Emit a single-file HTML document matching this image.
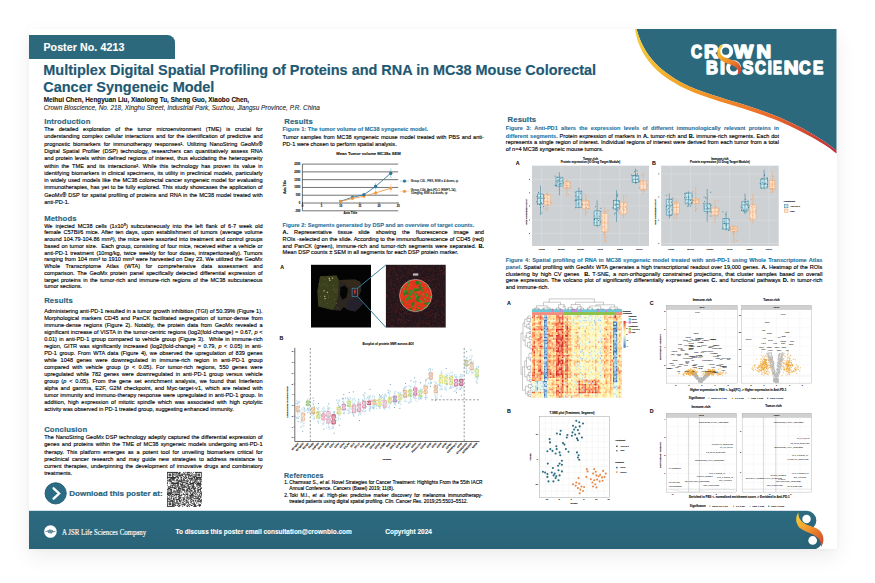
<!DOCTYPE html>
<html><head><meta charset="utf-8"><title>Poster 4213</title>
<style>
*{margin:0;padding:0;box-sizing:border-box}
html,body{width:875px;height:583px;background:#fff;overflow:hidden}
body{position:relative;font-family:"Liberation Sans",sans-serif;color:#111}
.abs{position:absolute}
.poster{position:absolute;left:29px;top:29px;width:808px;height:520px;background:#fff;box-shadow:0 8px 20px rgba(0,0,0,.07),0 1px 4px rgba(0,0,0,.035)}
.tab{position:absolute;left:29px;top:35px;width:146px;height:24px;background:#2d697c;border-top-right-radius:7.5px;color:#fff;font-weight:bold;font-size:10.6px;line-height:24px;padding-left:14.4px;letter-spacing:.1px}
.title{position:absolute;left:43.3px;top:62px;color:#1e5973;font-weight:bold;font-size:14.46px;line-height:17.3px;white-space:nowrap}
.auth{position:absolute;left:43.7px;top:95.5px;font-weight:bold;font-size:6.4px;line-height:8px;white-space:nowrap;color:#111}
.affil{position:absolute;left:43.7px;top:103.5px;font-style:italic;font-size:6.43px;line-height:8px;white-space:nowrap;color:#222}
.h{position:absolute;color:#2a6582;font-weight:bold;font-size:7.7px;line-height:10px;white-space:nowrap;letter-spacing:.12px}
.ln{position:absolute;white-space:nowrap;color:#000;-webkit-text-stroke:.13px #000}
.ln .cb{-webkit-text-stroke:.1px #25729f}
.j{text-align:justify;text-align-last:justify;white-space:normal}
.cb{color:#25729f;font-weight:bold}
b{font-weight:bold}
sup{font-size:58%;vertical-align:baseline;position:relative;top:-0.45em;line-height:0}
.footer{position:absolute;left:29px;top:510.5px;width:793px;height:38.5px;background:linear-gradient(#2d6b81,#296378);border-radius:0 19px 19px 0}
.ft{position:absolute;color:#fff;font-weight:bold;font-size:6.44px;line-height:9px;white-space:nowrap}
.jsr{position:absolute;left:61.6px;top:527.8px;color:#fff;-webkit-text-stroke:.15px #fff;font-family:"Liberation Serif",serif;font-size:7.7px;line-height:10px;white-space:nowrap;transform:scaleX(.888);transform-origin:0 0}
.dl{position:absolute;left:69.3px;top:488px;color:#28627c;font-weight:bold;font-size:8.0px;line-height:11px;white-space:nowrap}
.h{-webkit-text-stroke-width:.16px}.dl{-webkit-text-stroke-width:.2px}.title{-webkit-text-stroke-width:.18px}.auth{-webkit-text-stroke-width:.12px}.affil{-webkit-text-stroke-width:.08px}.tab{-webkit-text-stroke-width:.12px}.ft{-webkit-text-stroke-width:.1px}
svg{position:absolute;overflow:visible}
svg text{font-family:"Liberation Sans",sans-serif}
svg.fg text{stroke:#1a1a1a;stroke-width:.11px}
svg.fg text.nl{stroke-width:.03px}
</style></head>
<body>
<div class="poster"></div>
<div class="tab">Poster No. 4213</div>
<div class="title">Multiplex Digital Spatial Profiling of Proteins and RNA in MC38 Mouse Colorectal<br>Cancer Syngeneic Model</div>
<div class="auth">Meihui Chen, Hengyuan Liu, Xiaolong Tu, Sheng Guo, Xiaobo Chen,</div>
<div class="affil">Crown Bioscience, No. 218, Xinghu Street, Industrial Park, Suzhou, Jiangsu Province, P.R. China</div>
<div class="h" style="left:44.20px;top:117px">Introduction</div>
<div class="ln j " style="left:44.20px;top:125px;width:218.40px;font-size:5.60px;line-height:8px">The detailed exploration of the tumor microenvironment (TME) is crucial for</div>
<div class="ln j " style="left:44.20px;top:132px;width:218.40px;font-size:5.60px;line-height:8px">understanding complex cellular interactions and for the identification of predictive and</div>
<div class="ln j " style="left:44.20px;top:140px;width:218.40px;font-size:5.60px;line-height:8px">prognostic biomarkers for immunotherapy responses¹. Utilizing NanoString GeoMx®</div>
<div class="ln j " style="left:44.20px;top:147px;width:218.40px;font-size:5.60px;line-height:8px">Digital Spatial Profiler (DSP) technology, researchers can quantitatively assess RNA</div>
<div class="ln j " style="left:44.20px;top:154px;width:218.40px;font-size:5.60px;line-height:8px">and protein levels within defined regions of interest, thus elucidating the heterogeneity</div>
<div class="ln j " style="left:44.20px;top:162px;width:218.40px;font-size:5.60px;line-height:8px">within the TME and its interactions². While this technology has proven its value in</div>
<div class="ln j " style="left:44.20px;top:169px;width:218.40px;font-size:5.60px;line-height:8px">identifying biomarkers in clinical specimens, its utility in preclinical models, particularly</div>
<div class="ln j " style="left:44.20px;top:176px;width:218.40px;font-size:5.60px;line-height:8px">in widely used models like the MC38 colorectal cancer syngeneic model for evaluating</div>
<div class="ln j " style="left:44.20px;top:183px;width:218.40px;font-size:5.60px;line-height:8px">immunotherapies, has yet to be fully explored. This study showcases the application of</div>
<div class="ln j " style="left:44.20px;top:191px;width:218.40px;font-size:5.60px;line-height:8px">GeoMx® DSP for spatial profiling of proteins and RNA in the MC38 model treated with</div>
<div class="ln " style="left:44.20px;top:198px;width:218.40px;font-size:5.60px;line-height:8px">anti-PD-1.</div>
<div class="h" style="left:44.20px;top:214px">Methods</div>
<div class="ln j " style="left:44.20px;top:222px;width:218.40px;font-size:5.60px;line-height:8px">We injected MC38 cells (1x10⁵) subcutaneously into the left flank of 6-7 week old</div>
<div class="ln j " style="left:44.20px;top:228px;width:218.40px;font-size:5.60px;line-height:8px">female C57Bl/6 mice. After ten days, upon establishment of tumors (average volume</div>
<div class="ln j " style="left:44.20px;top:235px;width:218.40px;font-size:5.60px;line-height:8px">around 104.79-104.86 mm³), the mice were assorted into treatment and control groups</div>
<div class="ln j " style="left:44.20px;top:242px;width:218.40px;font-size:5.60px;line-height:8px">based on tumor size.&nbsp; Each group, consisting of four mice, received either a vehicle or</div>
<div class="ln j " style="left:44.20px;top:249px;width:218.40px;font-size:5.60px;line-height:8px">anti-PD-1 treatment (10mg/kg, twice weekly for four doses, intraperitoneally). Tumors</div>
<div class="ln j " style="left:44.20px;top:255px;width:218.40px;font-size:5.60px;line-height:8px">ranging from 104 mm³ to 1910 mm³ were harvested on Day 23. We utilized the GeoMx</div>
<div class="ln j " style="left:44.20px;top:262px;width:218.40px;font-size:5.60px;line-height:8px">Whole Transcriptome Atlas (WTA) for comprehensive data assessment and</div>
<div class="ln j " style="left:44.20px;top:269px;width:218.40px;font-size:5.60px;line-height:8px">comparison. The GeoMx protein panel specifically detected differential expression of</div>
<div class="ln j " style="left:44.20px;top:276px;width:218.40px;font-size:5.60px;line-height:8px">target proteins in the tumor-rich and immune-rich regions of the MC38 subcutaneous</div>
<div class="ln " style="left:44.20px;top:282px;width:218.40px;font-size:5.60px;line-height:8px">tumor sections.</div>
<div class="h" style="left:44.20px;top:296px">Results</div>
<div class="ln j " style="left:44.20px;top:307px;width:218.40px;font-size:5.60px;line-height:8px">Administering anti-PD-1 resulted in a tumor growth inhibition (TGI) of 50.39% (Figure 1).</div>
<div class="ln j " style="left:44.20px;top:314px;width:218.40px;font-size:5.60px;line-height:8px">Morphological markers CD45 and PanCK facilitated segregation of tumor-dense from</div>
<div class="ln j " style="left:44.20px;top:321px;width:218.40px;font-size:5.60px;line-height:8px">immune-dense regions (Figure 2). Notably, the protein data from GeoMx revealed a</div>
<div class="ln j " style="left:44.20px;top:328px;width:218.40px;font-size:5.60px;line-height:8px">significant increase of VISTA in the tumor-centric regions (log2(fold-change) = 0.67, <i>p</i> &lt;</div>
<div class="ln j " style="left:44.20px;top:335px;width:218.40px;font-size:5.60px;line-height:8px">0.01) in anti-PD-1 group compared to vehicle group (Figure 3).&nbsp; While in immune-rich</div>
<div class="ln j " style="left:44.20px;top:342px;width:218.40px;font-size:5.60px;line-height:8px">region, GITR was significantly increased (log2(fold-change) = 0.79, <i>p</i> &lt; 0.05) in anti-</div>
<div class="ln j " style="left:44.20px;top:349px;width:218.40px;font-size:5.60px;line-height:8px">PD-1 group. From WTA data (Figure 4), we observed the upregulation of 839 genes</div>
<div class="ln j " style="left:44.20px;top:356px;width:218.40px;font-size:5.60px;line-height:8px">while 1048 genes were downregulated in immune-rich region in anti-PD-1 group</div>
<div class="ln j " style="left:44.20px;top:363px;width:218.40px;font-size:5.60px;line-height:8px">compared with vehicle group (<i>p</i> &lt; 0.05). For tumor-rich regions, 550 genes were</div>
<div class="ln j " style="left:44.20px;top:370px;width:218.40px;font-size:5.60px;line-height:8px">upregulated while 782 genes were downregulated in anti-PD-1 group versus vehicle</div>
<div class="ln j " style="left:44.20px;top:377px;width:218.40px;font-size:5.60px;line-height:8px">group (<i>p</i> &lt; 0.05). From the gene set enrichment analysis, we found that Interferon</div>
<div class="ln j " style="left:44.20px;top:384px;width:218.40px;font-size:5.60px;line-height:8px">alpha and gamma, E2F, G2M checkpoint, and Myc-target-v1, which are related with</div>
<div class="ln j " style="left:44.20px;top:391px;width:218.40px;font-size:5.60px;line-height:8px">tumor immunity and immuno-therapy response were upregulated in anti-PD-1 group. In</div>
<div class="ln j " style="left:44.20px;top:398px;width:218.40px;font-size:5.60px;line-height:8px">addition, high expression of mitotic spindle which was associated with high cytolytic</div>
<div class="ln " style="left:44.20px;top:405px;width:218.40px;font-size:5.60px;line-height:8px">activity was observed in PD-1 treated group, suggesting enhanced immunity.</div>
<div class="h" style="left:44.20px;top:425px">Conclusion</div>
<div class="ln j " style="left:44.20px;top:433px;width:218.40px;font-size:5.60px;line-height:8px">The NanoString GeoMx DSP technology adeptly captured the differential expression of</div>
<div class="ln j " style="left:44.20px;top:440px;width:218.40px;font-size:5.60px;line-height:8px">genes and proteins within the TME of MC38 syngeneic models undergoing anti-PD-1</div>
<div class="ln j " style="left:44.20px;top:448px;width:218.40px;font-size:5.60px;line-height:8px">therapy. This platform emerges as a potent tool for unveiling biomarkers critical for</div>
<div class="ln j " style="left:44.20px;top:455px;width:218.40px;font-size:5.60px;line-height:8px">preclinical cancer research and may guide new strategies to address resistance to</div>
<div class="ln j " style="left:44.20px;top:462px;width:218.40px;font-size:5.60px;line-height:8px">current therapies, underpinning the development of innovative drugs and combinatory</div>
<div class="ln " style="left:44.20px;top:469px;width:218.40px;font-size:5.60px;line-height:8px">treatments.</div>
<svg style="left:43.8px;top:482px" width="23" height="23" viewBox="0 0 23 23"><circle cx="11.65" cy="11.35" r="10.6" fill="#2b6c84" stroke="#23596f" stroke-width=".9"/><path d="M9.6 6.3 L15.1 11.5 L9.6 16.7" fill="none" stroke="#fff" stroke-width="2.35" stroke-linecap="round" stroke-linejoin="miter"/></svg>
<div class="dl">Download this poster at:</div>
<svg style="left:166.5px;top:472.1px" width="34.8" height="34.8"><path d="M0 0.42h11.03M11.88 0.42h1.7M16.13 0.42h0.85M17.82 0.42h0.85M19.52 0.42h3.4M23.77 0.42h0.85M26.31 0.42h0.85M28.01 0.42h6.79M0 1.27h0.85M5.09 1.27h0.85M6.79 1.27h0.85M8.49 1.27h1.7M11.03 1.27h2.55M16.98 1.27h0.85M20.37 1.27h0.85M22.92 1.27h0.85M24.61 1.27h0.85M28.86 1.27h0.85M33.95 1.27h0.85M0 2.12h0.85M1.7 2.12h2.55M5.09 2.12h1.7M10.19 2.12h2.55M14.43 2.12h4.24M19.52 2.12h3.4M25.46 2.12h0.85M28.01 2.12h1.7M30.56 2.12h2.55M33.95 2.12h0.85M0 2.97h0.85M1.7 2.97h2.55M5.09 2.97h5.09M11.88 2.97h4.24M17.82 2.97h5.09M23.77 2.97h1.7M26.31 2.97h1.7M28.86 2.97h0.85M30.56 2.97h2.55M33.95 2.97h0.85M0 3.82h0.85M1.7 3.82h2.55M5.09 3.82h0.85M10.19 3.82h5.94M17.82 3.82h0.85M21.22 3.82h4.24M28.01 3.82h1.7M30.56 3.82h2.55M33.95 3.82h0.85M0 4.67h0.85M5.09 4.67h1.7M8.49 4.67h2.55M12.73 4.67h0.85M16.13 4.67h0.85M17.82 4.67h1.7M21.22 4.67h0.85M22.92 4.67h0.85M25.46 4.67h4.24M33.95 4.67h0.85M0 5.52h9.34M10.19 5.52h1.7M13.58 5.52h1.7M16.98 5.52h0.85M18.67 5.52h1.7M21.22 5.52h0.85M24.61 5.52h0.85M26.31 5.52h1.7M28.86 5.52h5.94M0 6.37h0.85M3.4 6.37h5.09M11.03 6.37h0.85M13.58 6.37h0.85M16.13 6.37h0.85M17.82 6.37h1.7M21.22 6.37h5.09M27.16 6.37h0.85M28.86 6.37h2.55M32.25 6.37h1.7M1.7 7.21h2.55M5.09 7.21h2.55M9.34 7.21h1.7M13.58 7.21h1.7M16.13 7.21h1.7M20.37 7.21h0.85M22.07 7.21h0.85M23.77 7.21h1.7M27.16 7.21h7.64M0 8.06h0.85M1.7 8.06h5.94M9.34 8.06h1.7M11.88 8.06h0.85M13.58 8.06h1.7M16.13 8.06h1.7M19.52 8.06h0.85M22.92 8.06h4.24M28.01 8.06h2.55M33.1 8.06h1.7M0 8.91h4.24M6.79 8.91h0.85M8.49 8.91h13.58M22.92 8.91h0.85M27.16 8.91h1.7M29.71 8.91h0.85M32.25 8.91h0.85M2.55 9.76h2.55M11.03 9.76h4.24M19.52 9.76h1.7M22.92 9.76h0.85M25.46 9.76h0.85M27.16 9.76h2.55M30.56 9.76h0.85M33.1 9.76h1.7M0 10.61h0.85M4.24 10.61h2.55M7.64 10.61h0.85M9.34 10.61h2.55M14.43 10.61h4.24M19.52 10.61h0.85M22.07 10.61h1.7M25.46 10.61h2.55M28.86 10.61h0.85M30.56 10.61h1.7M33.1 10.61h0.85M0 11.46h0.85M2.55 11.46h0.85M4.24 11.46h7.64M12.73 11.46h0.85M15.28 11.46h0.85M18.67 11.46h2.55M22.92 11.46h4.24M28.01 11.46h0.85M29.71 11.46h4.24M5.94 12.31h0.85M7.64 12.31h0.85M10.19 12.31h1.7M12.73 12.31h3.4M17.82 12.31h0.85M19.52 12.31h0.85M21.22 12.31h3.4M25.46 12.31h1.7M28.86 12.31h5.94M0 13.16h0.85M3.4 13.16h5.94M10.19 13.16h1.7M13.58 13.16h4.24M20.37 13.16h1.7M23.77 13.16h0.85M25.46 13.16h1.7M30.56 13.16h3.4M3.4 14h0.85M5.09 14h0.85M6.79 14h0.85M9.34 14h2.55M13.58 14h2.55M16.98 14h1.7M19.52 14h2.55M24.61 14h2.55M28.86 14h2.55M32.25 14h1.7M0.85 14.85h3.4M5.09 14.85h0.85M7.64 14.85h1.7M10.19 14.85h0.85M11.88 14.85h1.7M14.43 14.85h0.85M16.13 14.85h3.4M21.22 14.85h2.55M24.61 14.85h3.4M32.25 14.85h1.7M0.85 15.7h0.85M2.55 15.7h5.94M9.34 15.7h0.85M11.03 15.7h1.7M14.43 15.7h3.4M18.67 15.7h1.7M21.22 15.7h1.7M24.61 15.7h2.55M28.01 15.7h0.85M30.56 15.7h1.7M33.95 15.7h0.85M0.85 16.55h2.55M6.79 16.55h2.55M11.03 16.55h3.4M15.28 16.55h0.85M20.37 16.55h2.55M23.77 16.55h1.7M26.31 16.55h2.55M29.71 16.55h0.85M33.1 16.55h1.7M0 17.4h1.7M2.55 17.4h2.55M9.34 17.4h0.85M11.03 17.4h0.85M12.73 17.4h0.85M14.43 17.4h3.4M19.52 17.4h1.7M22.07 17.4h1.7M26.31 17.4h1.7M30.56 17.4h3.4M1.7 18.25h0.85M3.4 18.25h1.7M6.79 18.25h0.85M9.34 18.25h4.24M15.28 18.25h2.55M18.67 18.25h2.55M22.92 18.25h2.55M27.16 18.25h1.7M29.71 18.25h2.55M33.1 18.25h0.85M0 19.1h1.7M3.4 19.1h1.7M5.94 19.1h1.7M8.49 19.1h0.85M10.19 19.1h0.85M11.88 19.1h2.55M16.98 19.1h0.85M18.67 19.1h4.24M23.77 19.1h1.7M27.16 19.1h1.7M30.56 19.1h1.7M33.1 19.1h0.85M1.7 19.95h0.85M3.4 19.95h1.7M6.79 19.95h5.94M14.43 19.95h0.85M16.98 19.95h0.85M18.67 19.95h0.85M22.07 19.95h1.7M24.61 19.95h0.85M26.31 19.95h2.55M29.71 19.95h1.7M33.1 19.95h1.7M0 20.8h6.79M7.64 20.8h0.85M10.19 20.8h3.4M14.43 20.8h0.85M18.67 20.8h0.85M20.37 20.8h0.85M22.92 20.8h0.85M25.46 20.8h1.7M28.01 20.8h0.85M29.71 20.8h0.85M31.4 20.8h1.7M33.95 20.8h0.85M0 21.64h5.09M7.64 21.64h0.85M9.34 21.64h0.85M11.88 21.64h0.85M16.13 21.64h0.85M18.67 21.64h0.85M20.37 21.64h0.85M22.92 21.64h0.85M24.61 21.64h1.7M27.16 21.64h0.85M28.86 21.64h0.85M33.1 21.64h1.7M0 22.49h1.7M2.55 22.49h1.7M5.09 22.49h1.7M7.64 22.49h5.09M14.43 22.49h0.85M16.13 22.49h1.7M18.67 22.49h2.55M23.77 22.49h2.55M28.01 22.49h0.85M29.71 22.49h0.85M32.25 22.49h0.85M33.95 22.49h0.85M0.85 23.34h2.55M4.24 23.34h0.85M6.79 23.34h1.7M9.34 23.34h0.85M11.88 23.34h3.4M17.82 23.34h0.85M20.37 23.34h0.85M22.07 23.34h5.09M30.56 23.34h0.85M32.25 23.34h0.85M33.95 23.34h0.85M0 24.19h0.85M2.55 24.19h0.85M4.24 24.19h2.55M9.34 24.19h0.85M11.03 24.19h1.7M16.98 24.19h0.85M20.37 24.19h0.85M22.92 24.19h1.7M25.46 24.19h0.85M27.16 24.19h2.55M30.56 24.19h3.4M2.55 25.04h0.85M4.24 25.04h0.85M7.64 25.04h0.85M11.03 25.04h3.4M18.67 25.04h2.55M22.07 25.04h5.09M28.01 25.04h1.7M30.56 25.04h0.85M33.1 25.04h1.7M0 25.89h0.85M1.7 25.89h0.85M4.24 25.89h0.85M5.94 25.89h0.85M7.64 25.89h2.55M11.88 25.89h2.55M15.28 25.89h2.55M18.67 25.89h0.85M20.37 25.89h1.7M22.92 25.89h1.7M25.46 25.89h0.85M29.71 25.89h2.55M33.1 25.89h0.85M0 26.74h2.55M3.4 26.74h1.7M5.94 26.74h1.7M11.03 26.74h2.55M16.13 26.74h1.7M19.52 26.74h1.7M22.07 26.74h2.55M26.31 26.74h6.79M0 27.59h0.85M1.7 27.59h1.7M5.94 27.59h1.7M8.49 27.59h4.24M14.43 27.59h0.85M16.13 27.59h1.7M18.67 27.59h0.85M21.22 27.59h0.85M23.77 27.59h1.7M31.4 27.59h1.7M33.95 27.59h0.85M0 28.43h0.85M3.4 28.43h2.55M6.79 28.43h0.85M9.34 28.43h0.85M11.88 28.43h1.7M14.43 28.43h0.85M16.13 28.43h0.85M18.67 28.43h1.7M22.92 28.43h0.85M25.46 28.43h1.7M28.01 28.43h0.85M29.71 28.43h0.85M31.4 28.43h0.85M33.1 28.43h1.7M0 29.28h7.64M9.34 29.28h1.7M11.88 29.28h2.55M16.98 29.28h0.85M18.67 29.28h0.85M20.37 29.28h0.85M23.77 29.28h1.7M26.31 29.28h0.85M28.01 29.28h0.85M29.71 29.28h5.09M0 30.13h0.85M5.09 30.13h0.85M6.79 30.13h0.85M9.34 30.13h0.85M12.73 30.13h0.85M15.28 30.13h1.7M18.67 30.13h3.4M22.92 30.13h1.7M26.31 30.13h0.85M33.1 30.13h0.85M0 30.98h0.85M1.7 30.98h2.55M5.09 30.98h6.79M13.58 30.98h0.85M15.28 30.98h0.85M18.67 30.98h1.7M21.22 30.98h0.85M23.77 30.98h0.85M27.16 30.98h0.85M28.86 30.98h1.7M31.4 30.98h0.85M33.95 30.98h0.85M0 31.83h0.85M1.7 31.83h2.55M5.09 31.83h1.7M8.49 31.83h0.85M10.19 31.83h3.4M16.13 31.83h2.55M21.22 31.83h0.85M24.61 31.83h3.4M0 32.68h0.85M1.7 32.68h2.55M5.09 32.68h3.4M11.03 32.68h0.85M14.43 32.68h4.24M20.37 32.68h0.85M22.07 32.68h1.7M26.31 32.68h2.55M31.4 32.68h2.55M0 33.53h0.85M5.09 33.53h1.7M7.64 33.53h1.7M10.19 33.53h0.85M11.88 33.53h1.7M16.98 33.53h0.85M19.52 33.53h0.85M21.22 33.53h0.85M23.77 33.53h1.7M27.16 33.53h1.7M29.71 33.53h0.85M31.4 33.53h2.55M0 34.38h7.64M11.03 34.38h1.7M15.28 34.38h0.85M19.52 34.38h1.7M22.07 34.38h0.85M26.31 34.38h3.4M32.25 34.38h0.85" stroke="#111" stroke-width="0.87" fill="none"/></svg>
<div class="h" style="left:284.30px;top:117px">Results</div>
<div class="ln " style="left:282.60px;top:125px;width:201.40px;font-size:5.60px;line-height:8px"><span class="cb">Figure 1: The tumor volume of MC38 syngeneic model.</span></div>
<div class="ln j " style="left:282.60px;top:133px;width:201.40px;font-size:5.60px;line-height:8px">Tumor samples from MC38 syngeneic mouse model treated with PBS and anti-</div>
<div class="ln " style="left:282.60px;top:140px;width:201.40px;font-size:5.60px;line-height:8px">PD-1 were chosen to perform spatial analysis.</div>
<svg class="fg" style="left:0;top:0" width="875" height="583"><path d="M302.4 164.1H398.2M302.4 171.88H398.2M302.4 179.67H398.2M302.4 187.45H398.2M302.4 195.23H398.2M302.4 203.02H398.2M302.4 210.8H398.2M302.4 164.1V210.8" stroke="#1c1c1c" stroke-width=".62" fill="none"/><text x="300.2" y="165.05" font-size="2.7" text-anchor="end" font-weight="bold" fill="#111" stroke="#111" stroke-width=".12">2500</text><text x="300.2" y="172.83" font-size="2.7" text-anchor="end" font-weight="bold" fill="#111" stroke="#111" stroke-width=".12">2000</text><text x="300.2" y="180.62" font-size="2.7" text-anchor="end" font-weight="bold" fill="#111" stroke="#111" stroke-width=".12">1500</text><text x="300.2" y="188.4" font-size="2.7" text-anchor="end" font-weight="bold" fill="#111" stroke="#111" stroke-width=".12">1000</text><text x="300.2" y="196.18" font-size="2.7" text-anchor="end" font-weight="bold" fill="#111" stroke="#111" stroke-width=".12">500</text><text x="300.2" y="203.97" font-size="2.7" text-anchor="end" font-weight="bold" fill="#111" stroke="#111" stroke-width=".12">0</text><text x="300.2" y="211.75" font-size="2.7" text-anchor="end" font-weight="bold" fill="#111" stroke="#111" stroke-width=".12">-500</text><text x="302.4" y="207.32" font-size="2.7" text-anchor="middle" font-weight="bold" fill="#111" stroke="#111" stroke-width=".12">0</text><text x="321.56" y="207.32" font-size="2.7" text-anchor="middle" font-weight="bold" fill="#111" stroke="#111" stroke-width=".12">5</text><text x="340.72" y="207.32" font-size="2.7" text-anchor="middle" font-weight="bold" fill="#111" stroke="#111" stroke-width=".12">10</text><text x="359.88" y="207.32" font-size="2.7" text-anchor="middle" font-weight="bold" fill="#111" stroke="#111" stroke-width=".12">15</text><text x="379.04" y="207.32" font-size="2.7" text-anchor="middle" font-weight="bold" fill="#111" stroke="#111" stroke-width=".12">20</text><text x="398.2" y="207.32" font-size="2.7" text-anchor="middle" font-weight="bold" fill="#111" stroke="#111" stroke-width=".12">25</text><path d="M302.4 202.22v1.6M321.56 202.22v1.6M340.72 202.22v1.6M359.88 202.22v1.6M379.04 202.22v1.6M398.2 202.22v1.6" stroke="#1c1c1c" stroke-width=".5" fill="none"/><text x="368.5" y="154.6" font-size="4.15" text-anchor="middle" font-weight="bold" fill="#111" stroke="#111" stroke-width=".12">Mean Tumor volume MC38± SEM</text><text x="350.3" y="214.4" font-size="3.1" text-anchor="middle" font-weight="bold" fill="#111" stroke="#111" stroke-width=".12">Axis Title</text><text transform="translate(286 187) rotate(-90)" font-size="3.1" text-anchor="middle" font-weight="bold" fill="#111" stroke="#111" stroke-width=".12">Axis Title</text><path d="M340.6 201.2 L352.4 197.3 L363.9 194.8 L375.7 186.3 L390.8 173.2" fill="none" stroke="#2b7797" stroke-width="0.85"/><path d="M340.6 200.8V201.6M352.4 196.5V198.1M363.9 193.8V195.8M375.7 183.1V189.5M390.8 168.6V177.8" fill="none" stroke="#2b7797" stroke-width="0.4"/><path d="M340.6 201.2h0m11.8-3.9h0m11.5-2.5h0m11.8-8.5h0m15.1-13.1h0" fill="none" stroke="#2b7797" stroke-width="3.1" stroke-linecap="round"/><path d="M340.6 201.5 L352.4 198.5 L363.9 196.3 L375.7 192.9 L390.8 188.3" fill="none" stroke="#f09a45" stroke-width="0.85"/><path d="M340.6 201.1V201.9M352.4 197.7V199.3M363.9 195.3V197.3M375.7 190.3V195.5M390.8 184.1V192.5" fill="none" stroke="#f09a45" stroke-width="0.4"/><path d="M340.6 201.5h0m11.8-3h0m11.5-2.2h0m11.8-3.4h0m15.1-4.6h0" fill="none" stroke="#f09a45" stroke-width="3.1" stroke-linecap="round"/><path d="M363.9 194.8h0m11.8-8.5h0m15.1-13.1h0" fill="none" stroke="#2b7797" stroke-width="3.1" stroke-linecap="round"/><path d="M400.4 181.1H408.6" stroke="#2b7797" stroke-width=".55" stroke-dasharray="1.1 .7"/><circle cx="404.5" cy="181.1" r="1.6" fill="#2b7797"/><text x="410.8" y="182.1" font-size="3" fill="#111">Group C0L, PBS, BIW x 4 doses, ip</text><path d="M400.4 191.3H408.6" stroke="#f09a45" stroke-width=".55" stroke-dasharray="1.1 .7"/><circle cx="404.5" cy="191.3" r="1.6" fill="#f09a45"/><text x="410.8" y="190.8" font-size="3" fill="#111">Group C0d, Anti-PD-1 (RMP1-14),</text><text x="410.8" y="194.4" font-size="3" fill="#111">10mg/kg, BIW x 4 doses, ip</text></svg>
<div class="ln " style="left:282.60px;top:221px;width:201.40px;font-size:5.60px;line-height:8px"><span class="cb">Figure 2: Segments generated by DSP and an overview of target counts.</span></div>
<div class="ln j " style="left:282.60px;top:228px;width:201.40px;font-size:5.60px;line-height:8px"><b>A.</b> Representative tissue slide showing the fluorescence image and</div>
<div class="ln j " style="left:282.60px;top:235px;width:201.40px;font-size:5.60px;line-height:8px">ROIs -selected on the slide. According to the immunofluorescence of CD45 (red)</div>
<div class="ln j " style="left:282.60px;top:242px;width:201.40px;font-size:5.60px;line-height:8px">and PanCK (green), immune-rich and tumor-rich segments were separated. <b>B.</b></div>
<div class="ln " style="left:282.60px;top:248px;width:201.40px;font-size:5.60px;line-height:8px">Mean DSP counts ± SEM in all segments for each DSP protein marker.</div>
<svg class="fg" style="left:0;top:0" width="875" height="583"><defs><clipPath id="roi"><circle cx="415.6" cy="295.5" r="16"/></clipPath></defs><text x="280.3" y="269.3" font-size="5.3" font-weight="bold" fill="#111">A</text><rect x="311" y="264.8" width="60" height="62.7" fill="#040404"/><rect x="385.9" y="264.8" width="59.8" height="62.7" fill="#24161b"/><polygon points="320.1 276.3 336.6 275.4 339.3 279.9 354.9 279.6 360.3 281.8 361.3 290 358.5 297.3 363.1 303.7 358.9 308.3 354.9 311.4 347.9 310.1 343.9 307 340.2 311 332.9 310.1 318.3 306.5 317.4 290.9" fill="#2b2620"/><polygon points="320.1 276.3 336.6 275.4 338.8 280.9 338.4 294.6 335.7 305.5 332.9 310.1 318.3 306.5 317.4 290.9" fill="#3a3f1e"/><polygon points="339.3 279.9 354.9 279.6 360.3 281.8 360.9 287.3 347.9 287.3 345.7 283.6" fill="#332a1c"/><polygon points="340.6 287.3 344.8 285.4 347.9 289.1 346.6 297.3 342.4 299.7 339.9 294.6" fill="#050505"/><polygon points="347.9 301 358.5 297.3 363.1 303.7 358.9 308.3 354.9 311.4 347.9 310.1" fill="#24202c"/><path d="M327.5 294.6h0m8.6-2.9h0m-7.6 3.8h0m-5.9-2.4h0m8.1 8.7h0m-9.8-15.2h0m0 15.8h0m11-23.9h0m5.3 28.7h0m-6-10.9h0" fill="none" stroke="#8a4a38" stroke-width=".8" stroke-linecap="square" opacity=".55"/><path d="M322.1 277.7h0m6.8 1.4h0m-6.2 5.6h0m-3 6.9h0m7.6 11.8h0m1.4-6.3h0m-.4 .7h0m-.7-12h0m9.8 22.3h0m-2.8-8.9h0" fill="none" stroke="#7a8a3a" stroke-width=".8" stroke-linecap="square" opacity=".55"/><path d="M325 284.3h0m-.5-4.9h0m8.7 10.2h0m1.5-.4h0m2 14.3h0m-17.5-19.8h0m16.6 8.1h0m1.3-2.2h0m-16.6 7.2h0m12.9-11.2h0" fill="none" stroke="#a89060" stroke-width=".8" stroke-linecap="square" opacity=".55"/><path d="M329.3 278.5h0m.5 1.8h0m2.7-2.2h0m-8.4 12.8h0m3.3 1.5h0m-2.7 4h0m.4 2.2h0" fill="none" stroke="#d8c898" stroke-width="1.3" stroke-linecap="square" opacity=".8"/><path d="M357.6 288.2 L385.9 264.9 M357.6 296.4 L385.9 327.4" stroke="#3a7f9f" stroke-width="1" fill="none"/><rect x="352.1" y="288.2" width="5.5" height="8.2" fill="#30202a" stroke="#4a93b8" stroke-width="0.65"/><rect x="354" y="289.6" width="1.6" height="4" fill="#c03a2a"/><path d="M391.5 285.8h0m51.4 26.1h0m-49.6-31.4h0m-1-11.5h0m40.8 7.2h0m-13.9 16.6h0m-21.6 17.5h0m-3.5-5.4h0m-.9-13.7h0m5.7-9.3h0m44.4 32.8h0m-39.1 5h0m-5.5-30.2h0m37.8 15.3h0m-44.2 21.3h0m6.6-44.9h0m32.8 4.3h0m-27.9-15.7h0m-12.1 31.3h0m8.9 1.2h0m7.6-9.1h0m34.4 1.8h0m-22.5 23.6h0m-23-43.8h0m42.5 40.8h0m-38.6-38.6h0m28.7 46.1h0m-31.8 .6h0m40.2-21.3h0m-27-30.7h0m-22.4 52.8h0m11.7-15.9h0m1.1 7.4h0m19.9-32.7h0m-24.7 26.3h0m-6.3-30.3h0m28.8 38.4h0m3.2-35.2h0m17.8-4.7h0m-52.8 4.1h0m25.1-12.9h0m-15.8 19h0m23.2-14.6h0m-12.3 46.7h0m36.3-14.4h0m-17-4.5h0m-32.3-33.7h0m-7.2 53.8h0m40.1 3.2h0m-39.9-20.1h0m27.1 5.8h0m-9.6 16.6h0m-14.3-27.9h0m38.8 21.8h0m0-12.1h0m3.3 13h0m-25.9-14.2h0m32.2 11.5h0m-28.4-5h0m26.2-13.4h0m-14-11.7h0m-2.5 13.9h0m-29.4 1.9h0m53.5 14.8h0m-15.5-30.2h0m.4 11.8h0m-17.3 15.9h0m-20.9-5.5h0m-3.2-9.1h0m26.5-22.8h0m12.7 16.4h0m-4.9 26h0m-21-55.9h0m2.6 41h0m-5.7-31.3h0m41.2 30.2h0m-27.2 14.2h0m-6.7-13.8h0m-7.6-14.5h0m35.6 29.7h0m4.4-32.6h0m-17.4-4.1h0m-26.2 11h0m41.1 21.7h0m-7.4 6.2h0m-25.5-48h0m10.2 6.5h0m-13.9 8.6h0m24.2 4.9h0m-18.2 21.2h0m39-23.8h0m-53.1-25.9h0m46.7 .7h0m-9.6 32.5h0m-23.4 13.6h0m-17-40.3h0m25.6-6.9h0m21.9 13.1h0m-40.3-11.7h0m28.6 24.6h0m0 12.8h0m10.4 18.6h0m-7.2-46.6h0m-12.3-1.3h0m-27.2 18h0m41.3-18h0m-25.9 10.3h0m24.9 10.7h0m-4.9 14.5h0m-12.9 2.2h0m30-43.3h0m1.6 39h0m-47.1-16.5h0m29.1 28.1h0m-14.6-21h0m29.4 14h0m3.8-20.5h0m-17.1-15.9h0m4.1 37.7h0m-4.7-6.2h0m-25.1 11.2h0m45 4.8h0m-26-11.5h0m-12.7 7.4h0m31.3-34.6h0m-45.2 5.7h0m27.3 20.1h0m-3.6-45.5h0m18.8 2.2h0m-.5 6.7h0m-27.3 37.9h0m-11.4-39.4h0m22.1 35.4h0m18.9-2.1h0m6.2-12.1h0m.2-25h0m-42.6 27.1h0m4 12.4h0m20.4-12.6h0m12 2.2h0m-31.1-11h0m31.2 32h0m-37.3-3.1h0m44.6-20.1h0m-23.2-19.8h0m-2.2 18.5h0m4.1-29.2h0m21.3 30h0m-33.3 17.6h0m9.5-19.1h0m7.5-26.1h0m-8.9 21.3h0m24.5 31.4h0m-40.3-27.7h0m-8.4-2.4h0m40.4 28.7h0m-19.9-35.9h0m-16.7 18.5h0m43-30h0m-8.5-6.6h0m-34.3 12.6h0m28.9 5.8h0m-19.5 18.3h0m-14.7 6.8h0m1.1-13.5h0m7.5-19.2h0m16.4 14.7h0m-9.1-1.5h0m9-15.6h0m-19 29h0m25.4-6.2h0m12.5 5h0m.3-23.3h0m-6.8 35.5h0m9.5-30.4h0m-34.4 37.4h0m-5.7 4.6h0m39.2-53.2h0m-38 36.5h0m1.2-38.7h0m33.6 19.9h0m-2.5-18.2h0m-22.7 34.4h0m-22.6-29.7h0m39 43.6h0m16.7-48.9h0m-27.1 39.5h0m-.1-4.4h0m-18.4-37.9h0m-4.9-2h0m26.1 29.4h0m1-22.7h0m-22.5 3.5h0m38.4 48.4h0m5.1-55h0m-50.7 52.6h0m23.5-11.5h0m-7.9-18.3h0m11-2.3h0m5-25.6h0m5.9 51.1h0m-30.5-24h0m32.7-3h0m-31.9-14.7h0m18.6-9.3h0m22.3 48.4h0m-11 3.6h0m-4.4-28h0m-1.8 6.1h0m22.5 18.5h0m-42.5 6.5h0m28.5-8.2h0m4.1-22.9h0m4.8 29.2h0m-11.8-6.9h0m4.1-22.2h0m-2.5-20.7h0m-22.3 24.5h0m-19.4-6.9h0m36.8 16.5h0m-23.8 19.7h0m25.4-37.3h0m-.3 14.2h0m-7.5-11h0m27.4 15.5h0m-17.5 7.3h0m16.3-45.4h0m-21.3 44h0m-21.1-20.7h0m-12-12.7h0m19-5.9h0m-7.3 49.6h0m17.5-24.5h0m24.5 3.7h0m1.6 4.3h0m-10.9-34.5h0m-12.4 42h0m-32.4 10.5h0m6.8-28.2h0m.5 1.5h0m25.9-26.9h0m19.6 22.3h0m-24.5 10.9h0m-9.5-19.2h0m17 16.9h0m-21.8 9.6h0m.7-43.2h0m-2.9 1.7h0m-5.2 43.8h0m13.7 8.8h0m21-52.1h0m14 55h0m-53.6-2.4h0m20.9-26.3h0m31.8-14.4h0m-26.3 42.6h0m11.7-28.8h0m15 21.4h0m-22-43.1h0m1.2 20.9h0m-24.7-24.8h0m19 4.4h0m-4.9 33.5h0m.7-25h0m7.4 9.7h0m11.5 6.8h0m12.9 26h0m-15.5-43.9h0m-36.3 40.2h0m39.3-16.5h0m-25-21.7h0m19.1 18h0m-5.4 4.2h0m9.4-27.2h0m-29.5 48.6h0m39.1-6.3h0m-51.4-50.3h0m13.6 22.4h0m20.6-19.8h0m-4.8-1.8h0m-26.6 37.1h0m27.2-2.8h0m-10.4-9.4h0m-9.6-8.3h0m31.3 30.5h0m-39.2-44.2h0m43 31h0m-2.4-25.3h0m-20.1 2.8h0m22.6 6.8h0m-9.2 38.1h0m-19.2-27.1h0m24.6 22.9h0m-18.6-33.9h0m-19.4 31.1h0m-1.1-48.7h0m28.5 24.7h0m7.1-11.4h0m5.2-13.7h0m-32.9 36h0m-7.7-22h0m37.7 24h0m-25.9-33.9h0m4.4 35.8h0m.5-37.4h0m20.1 27.8h0m12.2 22.8h0m-.3-30.9h0m-6.4-8.2h0m-28.5 5.9h0m36.2 30.4h0m-40.2-32.8h0m6.8 .1h0m1.8 1.5h0m-11.8 10.9h0m35.3-1.5h0m2.3 1.4h0m-38.7 12.1h0m41.3-29.4h0m-50.3 14.4h0m30.6 3.2h0m24.7 5.1h0m-9.5-36.1h0m-15.1 44.6h0m-27.1-43.5h0m38.3 50.3h0m-38.2-16.3h0m3.4 6.9h0m29.6-30.8h0m-25.1 32h0m17.7-.1h0m-7.5-26.2h0m33.6 20.6h0m-27.8-8.4h0m13.3 10.6h0m11.4-18.3h0m-5.2 15.7h0m1.6 8.6h0m-1.1 5.1h0m7.2-15.3h0m-25.4 4.3h0m16.3-17.8h0m-22.4-16.9h0m18.8 51.9h0m-21.4-50.6h0m-10 15.8h0m5.1 33.5h0m-13.6-40.6h0m3.2 20.9h0m38.8-28.9h0m-41.8 17.2h0m30.5 27.7h0m-32.1-49.2h0m8.7 6.7h0m3 30.7h0m21.1-30.3h0m-24.1 3.5h0m-.7 29.3h0m8.2-12.9h0m29.6-4.2h0m-32.6 25.1h0m38.3-33.6h0m-21.5 37.9h0m-3.8-45.3h0m-25.4 44.7h0m44.1-34.6h0m-16.1 8h0m-14.8 29.2h0m22.4-46.3h0m-37.9 14.5h0m21.2 19.9h0m20-11.7h0m-32.6-27.7h0m9.7 6.4h0m32 15.7h0m-13.6 29.4h0m-21.7-28.2h0m-6.8 14.5h0m-8.7 3.1h0m49.5 .1h0m-44.8-34h0m37.2-10.6h0m-13.9 22.8h0m27.9 7.3h0m-5.8-17.4h0m-3.9 6.9h0m7.4-20h0m-5.3 7.2h0m-16.6 19.5h0m-22.6 18.9h0m9-32.1h0m-13.7-.3h0m22.9 25.2h0m-6.3-1.7h0m-14.9-18.1h0m20.9 35.3h0m21.5-19.3h0m-47.9-17h0m40.9-8.6h0m-8.5 13.6h0m-32.5 32.8h0m46.2-48.3h0m-10.7 5.2h0m-14.1 15.3h0m-4.5-12.5h0m5.5 20.3h0m-8-28.7h0m27.9 8h0m12.5 14.3h0m-13-14.2h0m6.1-14.7h0m-40.2 .1h0m31.4 37.8h0m-29.2-18.9h0m38.5 11.8h0m-43.7-22.6h0m3.9-6.3h0m14.6-3.1h0m30.1 21.8h0m-23.9 13.5h0m14.9 10.7h0m-22.3-30.1h0m1.6-19.5h0m-.7 42.1h0m34 5.6h0m-18.8-11.2h0m-37.6-17h0m19 19.6h0m-13.9-16.8h0m23.6 25.3h0m18.6-10.9h0m-39.1 9.5h0m43.6-13.4h0m-32.2-2.9h0m-12.4 13.1h0m49.5-12.2h0m-15.9 19.7h0m-30.3 6.7h0m25.1-45.9h0m-31.8 2.8h0m28.9 27.9h0m-14.5 14.2h0m1.9-28.6h0m-13.9 31.4h0m.6-4.3h0m23.9-21.1h0m1-18.2h0m20.5 44.7h0m-5.4-24h0m-40.7 13.7h0" fill="none" stroke="#5a2224" stroke-width=".9" stroke-linecap="square" opacity=".7"/><path d="M403.3 320.5h0m-2.8-19.9h0m34.6-23.9h0m-16.6-6.7h0m-30.2 6.4h0m55.9 46.7h0m-19.2-38.9h0m.7 26.5h0m-16.9-9h0m24.7-35.4h0m-35.4 27.8h0m-3.3-5h0m25-13.1h0m-2.9 5.5h0m2.8 4.2h0m4.3-18.1h0m1.7 6.6h0m16.9 28h0m-28.7-11.6h0m9.1 17.1h0m7.8 3.8h0m-15.9 15h0m20.6-8.6h0m-25.1-25.9h0m9.2 29h0m-2.4-23.4h0m-5.5 23.3h0m-6.5-52.2h0m23.7 52h0m.4-18.7h0m1.2-18h0m-9.3-14.4h0m-27.5 23.2h0m22.2-3.1h0m-26.5 18.3h0m27.8-28h0m-12.9 9.6h0m-4.1-20.1h0m39.6 55.2h0m-14.4-6.1h0m-14.3-3.8h0m-11.7-3.6h0m20.2 9.7h0m-27.4-6.9h0m1.5-15.6h0m48.4-33.1h0m-41.4 18.4h0m4.7-14.5h0m33.5 46.2h0m-29.2-28.2h0m11-19.1h0m-32.5 52.5h0m16.2-24.6h0m36.7 29.4h0m-27-47.4h0m-10.4 44h0m35.3-44.7h0m-3.5 9.8h0m-21.4-11.2h0m23.9 50.6h0m-39.8-22.3h0m-.6 15.2h0m-8.3-47.6h0m39.6 12.7h0m10.3 34.3h0m-11-45.2h0m-1 49.4h0m-14.7-52.8h0m-13 14h0m28.5-6.8h0m-31 2.4h0m28.3 34.1h0m-17.1-7.9h0m30-4.4h0m-38.4-17.8h0m40.9 22.5h0m-38.1-1.6h0m-10.9 21.1h0m20.5-28h0m5.3-29.7h0m4 14.7h0m-20.4 31.9h0m-9.6-31.9h0m39.2-2.4h0m-27.9 18.6h0m-5.5 21.5h0m47-53.1h0m-30.8 44.1h0m-4.6 10.9h0m6.8-46h0m3.3 28.6h0m-11.5 .8h0m24.8-8.7h0m-16.3 20.2h0m10.5-20h0m15.7-21.3h0m-10.1-.5h0m-10.1 4.3h0m-9.8 33h0m20.3 1.2h0m-32.3-18.6h0m-.8 5.6h0m16.2-33.5h0m5.8 41.8h0m-1.4 9.7h0m-23-44.4h0m-9.6 21.2h0m24.5-3.3h0m-10.1 21.9h0m-11.1 6.7h0m29-22.4h0m13.1-18.8h0m-37.8 4.5h0m-6.1 .2h0m33.9 13h0m-20.9 3.9h0m-10.3 14.3h0m4.9-34.8h0m-.7 26.8h0m39.3 5.9h0m-45.1-23.1h0m17.8-12h0m35.5-10.7h0m-28.2 44.2h0m29.1-37.9h0m-31.1 36.9h0m-24.4-31h0m49.9-6.1h0m-29.2 9.6h0m1.9-13.6h0m-22.9 56.6h0m42.7-16.2h0m-31.2-29.5h0m18.8-.7h0m-5.3 42.4h0m-5.7-36.6h0m36.2 16.9h0m-55.2-12.8h0m35.8-21.2h0m-18 39.1h0m30.6-6.4h0m1.2-7.9h0m-28.9 23.4h0m-.7-3.7h0m-9.7-26.7h0m-1.8 12.4h0m-1.2-21.3h0m3 16.3h0m5.5-1.3h0m40.1 14.3h0m-7.6-29.2h0m-28.2-8.1h0m18.1 17.8h0m-24.4-21.2h0m-5.4 15h0m12.3 40.7h0m18.9-40.3h0m-20.7-7.1h0m33.7 12.7h0m-10 22.4h0m8.3-43.2h0m-34.3 22.3h0m-14 30.7h0m14.2-6.9h0m11.3-44h0m-7.3 11.3h0m-20.7-5.4h0m32.5-7.3h0m-16.6 24.1h0m13.6-17.7h0m9.5 7.6h0m1.1 25h0m-33.9-28.4h0m7.8 31.2h0m7.4-20h0m26.9-9.9h0m-33.6 7.3h0m-4.5-18.7h0m-11.2 36.3h0m31.8 10.9h0m24-31.4h0m-17.9 38.2h0m-26.6-14.1h0m26.4 16.3h0m11.8-44.3h0m-13.8-8.9h0m-12 18.6h0m-21.6-.5h0m15.7 7h0m-2.8-20.8h0m7.2 19.4h0m-13.8 11.7h0m4.3-35.2h0m5.9 20.3h0m-11.2 9.8h0m32.3-1.8h0m-.1-32.6h0m-18.1 21h0m-19.2 2.5h0m-.5 5.6h0m31.1-1.7h0m-15.2-13.2h0m-17.7 5.7h0m50.9 13.5h0m-37 6.3h0m-4.4-12.2h0m25.2 29.8h0m-14.9-23.3h0m34 12h0m-18.4-9.2h0m-12.7-12.6h0m-7.9 25.4h0m35.4-27.5h0m1.7-21.2h0m-45.3 28.9h0m10.1-9h0m39.2-13h0m-46 4.9h0m28.6 .3h0m-39.8 19h0m23-18.7h0m5.8 25.3h0m3.2-1.6h0m.8 12.7h0m23.9-30.6h0m-36.5 34h0m-1.9-10.5h0m22.3-1.8h0m15.8 8.5h0m-47.2-12.5h0m19.5-3.5h0m-7.1-17.1h0m22.2 15.2h0m-30-17.5h0m5.1-4.4h0m11.1-3.2h0m-26.4-3.5h0m2.3 39.1h0m.6-15.5h0m38.6 1.8h0m-35.7 23.7h0m41.5-50h0m-36.1 27.9h0m31.8-7.1h0m-4.7-8.6h0m-.1 4.6h0m-22.3 26.6h0m29.8 4.3h0m-16.1-25.1h0m8.1 12.4h0m7.3 11h0m-41.4-26.1h0m31.9-9h0m-28.4-13.4h0m23.5 57.1h0m22.6-49.7h0m-16.6 17.6h0m-3.3-1.4h0m17.7 36.4h0m-51.8-16.9h0m4-41.3h0m9.9 42.4h0m41.4-37.6h0m-38.9-5.8h0m12.5 28.1h0m-9.9-10.7h0m25 32.6h0m-30.3-27.5h0m19.6 23h0m21.3-23.2h0m-16.8 9.7h0m6.2-24.6h0m-36.6-2.4h0m44.4 8.9h0m-26.1-8.1h0m-9.6-6.2h0m14.2 7.6h0m3.4 8.1h0m-23.3 12.8h0m8.1-13.7h0m-18.4-12h0m49.3 15h0m-47.7-7.8h0m23.7 50.1h0m-16.5-8h0m16.6-27.8h0m18.9-1.1h0m-43.9 9.5h0m35.1 4.4h0m-22.3 19.4h0m34.5 3.4h0m-24.7-9.8h0m16.5-40.5h0m-40.9-.4h0m5.4-5.8h0m14 41.7h0m-2.8-14.7h0m-17.6-18.7h0m55.6-12.2h0m-25.3 49.1h0m15.5-4.6h0m-23 4.2h0m25.1-2.2h0m9.3-41h0m-2.1 18.5h0m-14.4-9.3h0m12-14h0m-19.5 12.6h0m-11 8.7h0m15.7 27.2h0m-17.1-10.7h0m-.7-22h0m32.3 2.6h0m-47.5 .8h0m38-7.6h0m.1 20.6h0m-3.7-22.7h0m-33.7-2.1h0m14.3 17.7h0m-19.9 4.4h0m23-11.1h0m7.9 38.8h0m-19.5-4.5h0m6.8-7.7h0m-12.5 14.3h0m18.9-1.5h0m-12.3-34.1h0m28.5-14.2h0m-25.4 30.7h0m39.5-21.8h0m-44.8 2.2h0m47.3-12.9h0m-20.8 14.2h0m.5-10.2h0m-1.6 41.5h0m14.1-15.9h0m-20.6-3.8h0m-22.9 16.6h0m33.7-23.6h0m-1.4-2.1h0m-16.5-11.7h0m12.7 21.1h0m-5-33.2h0m6.6 25.5h0m-2 9.1h0m19.8-27.3h0m-27.1 51.8h0m15.7-41.9h0m0 41.6h0m-19.6-7.5h0m-16.2 7.6h0m21.4-46.5h0m20.4 25.5h0m5.7 11.1h0m-8.2-19.5h0m11.5-27.5h0m-7.2 39.8h0m-36.3 5.8h0m11.9-16.6h0m24.1-20.9h0m-34.3 27.5h0m-12.1-5.5h0m41.8-3.9h0m-31.9 19h0m35.9-1.8h0m-17.9 8.3h0m14.5-46.4h0m-25.3-3.1h0m-19.2 15.1h0m48.5 30h0m-43.8-40.1h0m15.9 41h0m13.4 3.3h0m-32 5.3h0m7.9-22.1h0m39.3 6.1h0m-39.9-3.7h0m13.7-40.2h0m-5.3 18.5h0m17-2.3h0m-1.6 25.6h0m-24.7-34.8h0m30.1 20.8h0m-33.1-21.6h0m47.5 30.4h0m-34.1-25.4h0m37.3 30.4h0m-15.2-20.3h0m-24.9 2.9h0m-9.6 13.7h0m16.3 11.6h0m-.9-22.3h0m5.7 29.8h0m-9.4-14.6h0m-6.5-7.7h0m2.9 18.1h0m.1-1.1h0m22.9-24.6h0m15-4.2h0m-11.1 13.2h0" fill="none" stroke="#43253a" stroke-width=".9" stroke-linecap="square" opacity=".7"/><path d="M412.7 269.2h0m-1.7 13.4h0m1.2 41.4h0m-8.6-16h0m22.2-27.6h0m-15.3-7h0m28.4 7.4h0m-27.9 5.5h0m23.5 31.3h0m-13.5-18.7h0m-28.8 21.5h0m-.6-32.7h0m16.7 22.1h0m17.3-23.4h0m13.4 37.3h0m-51.2-19.5h0m26.1-16.7h0m-.3-2.8h0m12.1 17.8h0m17.6 22.9h0m1.3-35.8h0m-9.6 15.7h0m-7.5 21.4h0m-37.2-33h0m19.6 11.9h0m-10.7 20.6h0m-.5-38.2h0m-3.9 1.6h0m35.1-19.2h0m-33.7 34.8h0m26.7 5.7h0m-21.7 4.3h0m28-2.2h0m-35.8-18.9h0m-6.1 24.1h0m54.4 2.2h0m-53.9-33.5h0m30 11.2h0m-24.9 15.7h0m11.2-17.3h0m-10.4 3.7h0m.3-29.5h0m22.4 12.7h0m15.6-2.9h0m-21.3-11.9h0m-11.5 24.5h0m19.9 .5h0m17.2-21.9h0m-.1 3.1h0m7.1 22.8h0m-33.1 5.4h0m26.8 21.6h0m-26.4-58.6h0m-15.2 49.6h0m34-6.5h0m-33.8-11.1h0m-7.5-25.9h0m15.9 52.6h0m20.1-7.3h0m-35-26.5h0m1.9-9.6h0m1.9 40.5h0m12.8-26.4h0m19 24.4h0m17.2-19.6h0m-26.1 20.7h0m-6.3-37.2h0m20.2-2.5h0m-21.7 10.5h0m6.3-4.4h0m-2.7 5.7h0m-22.3 23.7h0m.7-18.9h0m28.5-7.9h0m-19.1-18.5h0m8.8 13.2h0m6.6-5.1h0m15.5 15.8h0m-43.4-5h0m56.1-24.6h0m-21.8 58.7h0m-13.4-22.3h0m.2-18.3h0m14.1 17.8h0m-17.2-5.7h0m11.7 15.8h0m-27.1-40.7h0m11.7 10.9h0m31.8 9.6h0m3.8-1.5h0m-33.7 17.1h0m-11.7 18.7h0m43.7-40.3h0m-30.1 30.2h0m27.6-10.9h0m-42.9 7.5h0m-.5-8.6h0m29.6 18.6h0m5-55.6h0m17.4 44.9h0m-20.8-46h0m9.2 25.4h0m-3.4 34.8h0m13.9-55.9h0m-7.9 22.5h0m-1.8-3.9h0m-17.8 3.7h0m-19.3-7.2h0m36.2-15.3h0m-36.3 46.9h0m32.2-17.6h0m-32.4-26.4h0m11.6 51.4h0m14.6-2h0m-20.4-31.2h0m19 26.1h0m-24.2 2.1h0m20.5-51.8h0m-2.4 21.3h0m14.2 33.9h0m-10.6-14.7h0m-6.2 5.5h0m-16.5-2.2h0m3.6-9.7h0m2-14.7h0m-2.2 .2h0m25.1 10.5h0m-11.9 3.3h0m26.6-13.3h0m-15.2 7.5h0m23.3-9.3h0m-16.6-5.8h0m-25.6 30.5h0m18.4-29.1h0m-29.9 34.9h0m18.3-6.6h0m3.3-6.1h0m7.4 22h0m20.5-32h0m-24.8-13.8h0m15.6-7.9h0m-26.1 45.8h0m-15.9-9.1h0m31.2-9.1h0m-13.8-24.6h0m36.2 37.7h0m-8.5-41h0m-1.3 7.4h0m-34.2 19.5h0m24-25.5h0m9.1 28.4h0m7.9 21h0m-12.3-34.4h0m15.3 21.8h0m-38.7 8.5h0m25.6-36.4h0m-28-15h0m16.9 14.3h0m-14.3 0h0m-9.5 14.2h0m8.3-12.3h0m.3 13.8h0m34.9-21.5h0m-.8 42.8h0m-14.7-19.2h0m7.3-.5h0m-4.3 23.6h0m6.7-40.5h0m-42.2 41.6h0m18.1-9.2h0m-7.6-20.6h0m8 17h0m33.6-13.7h0m-22.1-9.7h0m-19.6 37h0m-7.1-.6h0m32-53.4h0m14.3 1.9h0m-19.7 1.1h0m24.8 11.6h0m-6.8-15.2h0m-12.1 .4h0m-37.3 30.9h0m55.9 7h0m-7.5 6.2h0m-19.6-43.6h0m.4 6.7h0m0 10.4h0m-1.7-9.7h0m12.1 13.6h0m-12.8-20.9h0m0 29.5h0m28.5 .2h0m-49.1-16h0m11.8 24.7h0m35.3 16.8h0m.7-3.1h0m-5.4 .6h0m-49.1-27.4h0m33.4 12.1h0" fill="none" stroke="#2c2e1c" stroke-width=".8" stroke-linecap="square" opacity=".7"/><path d="M422.3 303h0m18.8-32.4h0m-24.3 53.7h0m-28.5-52.1h0m49 52h0m-49.5-56.9h0m47.2 40.3h0m-18.1-6.6h0m13.9 14h0m-44.4-45.5h0m46.5 55.8h0m2.3-34.9h0m-29.1-3.8h0m-18.8 26.1h0m14.5-11.4h0m15.4-15.4h0m8.7 7.4h0m-25.8 26.2h0m-3.4-45h0m4.6 20.3h0m31-9h0m-31.9 19.7h0m1.3-8.1h0m-.4 21.8h0m-4.1-39.6h0m6.9 6h0m24.9 21.2h0m3.7-8.3h0m-41.7 13.8h0m9.7-33.6h0m10 47.5h0m-2.6-39h0m31.7 39h0m-30.7-52.6h0m23.6 39.8h0m-26.5 .5h0m2.4-30.9h0m12.6 27.9h0m-6.9 4.7h0m-27.1-19.6h0m21.5-26.7h0m31.3 4.8h0m-41.6 45.2h0m44.3 3.3h0m-36.3-.1h0m-11.7-13.3h0m47.1-32.1h0m-47.4 29.9h0m43.7 3h0m3.9-16.8h0m-33.8-20.5h0m-5.8 50.3h0m-11.8-46.3h0m16.2-8.4h0m-2.4 8.2h0m-10.8 21.2h0m24.5 2.5h0m13-2.5h0m10.8-27.4h0m-42.4-.3h0m5 42.1h0m36.1-15.8h0m-44.8-10.7h0m23.9-2.2h0m13.2 41.7h0m-19.6-22.7h0m22.7-8.5h0m-38.4 29.5h0m46.1-56.6h0m-12.6 23.1h0m-41.7-14.6h0m7.1 35.3h0m2.3-44.1h0m.5 47.9h0m16.4-9h0m-2-28.9h0m-26.4 7.5h0m1.5-2.7h0m33.9 6.7h0m-8.6 15.7h0m-9.1-16.5h0m33.2 13.8h0m-27.4-2.5h0m2.6-12.8h0m26.5-6h0m1.3 38.1h0m-3.1-42.5h0m-21.9 50.5h0m-12.9-50h0m25.5 4h0m-8.2-4.8h0m21.3 7.8h0m-49.8 24.8h0m14.6-7.9h0m8.8 22.3h0m1-33.4h0m-30 7.2h0m15.7 4.8h0m21.2-6.9h0m-31.7 2.2h0m22.9 8.8h0m28.6-22.2h0m-30.9-12h0m21 9.2h0m1.7 34.7h0m-33.7 6.4h0m14.6-29.3h0m3 32h0m-3.8-28.5h0m-11.7 22h0m12.5-30.6h0m-18-7.9h0m37.4 36.2h0m8.5 7h0m-17.3-7.4h0m1.6 .8h0m5.3-39h0m.7 7.9h0m-33.4 37.9h0m-13-25.1h0m18.8 17.2h0m15.7 7.3h0m18.8-16.4h0m-50.8 1.4h0m2.6 19.4h0m44.7-41.3h0m-40.2 23.6h0m33.5 17.9h0m-7.9-52.9h0m6.1-4.1h0m8.2 43.7h0m-4.8 6.4h0m-12.6 4.3h0m4.1-27.7h0m-15-8.6h0m-21.2-11.8h0m45.3 4.2h0m-8.3 33.6h0m2.4-16h0m-22.2-14.9h0m-7.5 23h0m29.2 18.1h0m-20.8-.9h0m34-39.1h0m2.4 20.2h0m.6 9.5h0m-36.9-30.4h0m11.1 12.8h0m-28.5 23h0m29.3-23.9h0m12.2-13.7h0m-31.9 20.3h0m2.4-15.6h0m-10-16.9h0m16.7 29.2h0m34.8 6.9h0m-31.3-14.3h0m-10.5 4.1h0m42.4-21.6h0m-30.8 34.7h0m19.3-8.1h0m-7.1 23.6h0m15.3-42.3h0m-21.2 45.9h0m-.8-49.7h0m14-8.1h0m-36.1 30.4h0m7.2 10.4h0m26.6-24.7h0m2.3 20.2h0m-3.5-11.7h0m-16.1-21.5h0m2.5 52.1h0m24.3-55.3h0m-47.9 13.2h0m36.5 10.3h0m-33.2-.7h0m26.1 19.6h0m-10-5.8h0m16.3-2.1h0m-37.2 5.8h0m4.8-40.3h0m20.3-2.4h0m-23.5 23h0m23.2-17.5h0m28.4 45.9h0m-27.4-16.3h0m-10 24.4h0m-11.5-41.8h0m5.9 34.5h0m16.9-28h0m-6.4 29.4h0m-8.3-5.9h0m26.4-21.1h0m-20.1-.7h0m5.1-7.5h0m10.1 5.9h0m-18.8 22.2h0m8.9-18.4h0m24.8-1.1h0m-29.5 27.2h0m35.2-6.9h0m-33.7-7h0m19.9-23.1h0m-1 40.2h0m-4-17.3h0m-12.9-.9h0m-12.3 7.2h0m18.4 12.9h0m-11.6-16.5h0m-19-18.2h0m43.9-9.6h0m-8.9-2.4h0m-12.7 47.5h0m-11.8-5h0m-8-20.2h0m44.6 15.6h0m-25.2-15.2h0m18.8 10.5h0m2.1-11.2h0m-29.1 7.8h0m18.2-9.9h0m24.9-25.1h0m-12.1 11.6h0m-3.1 38.4h0m-26.5-23.5h0m14.9-4.4h0m-21.2 8h0m42.6 2.3h0m-35.5 8.8h0m7.7-40.7h0m10.9 19.4h0m-4.5 32.7h0m2.4-2.4h0m-12.7-11.9h0m-16.3-28.2h0m36.1 23.9h0m8-19h0m-32.5-1.4h0m15.5-20.5h0m-9.6 38.9h0m-13.2-21.3h0m42.4 38.3h0m-36.5-46.5h0m-7.7-5.6h0m39.6 40.1h0m-31-15.3h0m25.2-28.4h0m7.3 51.2h0m-35.6-9.6h0" fill="none" stroke="#7a2a24" stroke-width=".8" stroke-linecap="square" opacity=".6"/><circle cx="415.6" cy="295.5" r="16" fill="#e2341c"/><g clip-path="url(#roi)"><path d="M422 290.3h0m5.7-3.8h0m-12.9 3h0m-1.1 16h0m4.1-6.5h0m13.4-12.4h0m-24.5 12.7h0m-2.3 11.1h0m6.1-16.8h0m2.9 12.4h0m15.5-4.8h0m-23.8-10.3h0m17.1-4.5h0m5.6 21h0m-21-16.2h0m.1 11.3h0m-5.8-.7h0m.5 4.6h0m15.4-8.2h0m-14.4-17.3h0m8.3 30.1h0m7.9-3.9h0m-17.2-24.3h0m-1.3 19h0m4.9-13.6h0m15.7 13.6h0m-11-7.3h0m-1.1 3h0m2.2-6.5h0m-3.4-2.2h0m.4-8.8h0m1.5 18.4h0m-1.3-15.3h0m18.5 11.4h0m-10.7-5h0m12 14.1h0m-8.5-3h0m2.3-5.1h0m-9-3.5h0m2.9 2.5h0" fill="none" stroke="#3c8a24" stroke-width="3" stroke-linecap="round"/><path d="M416.5 296.6h0m8.3 11.5h0m-18-27.9h0m2.4 .3h0m15.9 18.9h0m-16.4-13.8h0m18.7 20.7h0m-5.9-4.7h0m1.9-7.6h0m-11.1 3.2h0m15.5 14h0m1.1-5h0m-26.9-18.8h0m28.7 9.5h0m-14.6-7.5h0m11.1 6.6h0m4.1-14.1h0m.1-2h0m-27.1 12.1h0m15.8-9h0" fill="none" stroke="#4c9a2c" stroke-width="2.2" stroke-linecap="round"/><path d="M417.6 309.6h0m-4.1-5.7h0m5-5.8h0m-13.4-3.8h0m23.3 6.8h0m-21.9-7.3h0m10.5-3.5h0m1.1 9.4h0m-17.9-13.2h0m20.4-.1h0m-18.7 17.5h0m8.4 6.2h0m7.2-27.4h0m2.5 5.2h0m5.7 14.8h0" fill="none" stroke="#34761f" stroke-width="4" stroke-linecap="round"/><path d="M423.4 282.2h0m-21.8 22.2h0m3.2-17.8h0m-3.3-1.2h0m13.3 23.8h0m-4.6-20.9h0m15.2-2.3h0m-5.7 13h0m9-17.2h0m-11.2 10.2h0m7.8-3.9h0m-3.3-2h0m-6.5 23.5h0m-7.7-20.7h0m20.3 11.8h0m-25.5-14.6h0m5.1 3.1h0m18.2 12.3h0m4.1-.9h0m-10.6-8.6h0m2.7 3.3h0m-19.7 0h0m9.7 1.1h0m-10-15.1h0m28 10.3h0m-19.6-6.7h0m7.9 23h0m-12.4-12.4h0m9.6 8h0m2-15.8h0m-11.3 14.5h0m-3.4 4.2h0m-1.3-20.2h0m13 19.6h0m4.6-2.9h0m4.2-.7h0m-21.3 3.1h0m2.9-19.9h0m-3.3-4h0m25.2 10.5h0m-23.7-10h0m22.8 16.6h0m2.1-16.9h0m-24.1 7.5h0m2.3-5.2h0" fill="none" stroke="#ee3a1e" stroke-width="2.5" stroke-linecap="round"/></g><circle cx="415.6" cy="295.5" r="16.15" fill="none" stroke="#cfe0e0" stroke-width="0.5"/><rect x="412.9" y="273.4" width="5.4" height="2.2" fill="#d8d8d8" opacity=".85"/></svg>
<svg class="fg" style="left:0;top:0" width="875" height="583"><text x="279.6" y="340" font-size="5.3" font-weight="bold" fill="#111">B</text><text x="388.1" y="345.2" font-size="3.1" font-weight="bold" text-anchor="middle" fill="#111">Boxplot of protein SNR across AOI</text><path d="M294.8 347.9 V441.5 H479.6" fill="none" stroke="#222" stroke-width="0.65"/><path d="M310.3 347.9V441.5M464.2 347.9V441.5M431.2 399.8H479.6" fill="none" stroke="#555" stroke-width="0.6" stroke-dasharray="2.1 1.7"/><text x="293" y="352.45" font-size="2.1" text-anchor="end" fill="#222">8</text><text x="293" y="363.2" font-size="2.1" text-anchor="end" fill="#222">7</text><text x="293" y="373.95" font-size="2.1" text-anchor="end" fill="#222">6</text><text x="293" y="384.7" font-size="2.1" text-anchor="end" fill="#222">5</text><text x="293" y="395.45" font-size="2.1" text-anchor="end" fill="#222">4</text><text x="293" y="406.2" font-size="2.1" text-anchor="end" fill="#222">3</text><text x="293" y="416.95" font-size="2.1" text-anchor="end" fill="#222">2</text><text x="293" y="427.7" font-size="2.1" text-anchor="end" fill="#222">1</text><text x="293" y="438.45" font-size="2.1" text-anchor="end" fill="#222">0</text><text transform="translate(287.6 402) rotate(-90)" font-size="2.5" font-weight="bold" text-anchor="middle" fill="#111">Log2(Signal to noise ratio)</text><text x="386.7" y="460" font-size="2.5" font-weight="bold" text-anchor="middle" fill="#111">Targets</text><text transform="translate(298.5 443.7) rotate(-47)" font-size="2.3" font-weight="bold" text-anchor="end" fill="#111">Ms IgG1</text><text transform="translate(303.6 443.7) rotate(-47)" font-size="2.3" font-weight="bold" text-anchor="end" fill="#111">Ms IgG2a</text><text transform="translate(308.7 443.7) rotate(-47)" font-size="2.3" font-weight="bold" text-anchor="end" fill="#111">Rb IgG</text><text transform="translate(313.8 443.7) rotate(-47)" font-size="2.3" font-weight="bold" text-anchor="end" fill="#111">S6 Rb</text><text transform="translate(318.9 443.7) rotate(-47)" font-size="2.3" font-weight="bold" text-anchor="end" fill="#111">GAPDH</text><text transform="translate(324.1 443.7) rotate(-47)" font-size="2.3" font-weight="bold" text-anchor="end" fill="#111">Hist H3</text><text transform="translate(329.2 443.7) rotate(-47)" font-size="2.3" font-weight="bold" text-anchor="end" fill="#111">CD19</text><text transform="translate(334.3 443.7) rotate(-47)" font-size="2.3" font-weight="bold" text-anchor="end" fill="#111">CD3e</text><text transform="translate(339.4 443.7) rotate(-47)" font-size="2.3" font-weight="bold" text-anchor="end" fill="#111">CD4+</text><text transform="translate(344.5 443.7) rotate(-47)" font-size="2.3" font-weight="bold" text-anchor="end" fill="#111">CD8a</text><text transform="translate(349.6 443.7) rotate(-47)" font-size="2.3" font-weight="bold" text-anchor="end" fill="#111">CTLA4</text><text transform="translate(354.7 443.7) rotate(-47)" font-size="2.3" font-weight="bold" text-anchor="end" fill="#111">PD-1</text><text transform="translate(359.8 443.7) rotate(-47)" font-size="2.3" font-weight="bold" text-anchor="end" fill="#111">PD-L1</text><text transform="translate(364.9 443.7) rotate(-47)" font-size="2.3" font-weight="bold" text-anchor="end" fill="#111">Ki-67</text><text transform="translate(370 443.7) rotate(-47)" font-size="2.3" font-weight="bold" text-anchor="end" fill="#111">F4/80</text><text transform="translate(375.2 443.7) rotate(-47)" font-size="2.3" font-weight="bold" text-anchor="end" fill="#111">CD11c</text><text transform="translate(380.3 443.7) rotate(-47)" font-size="2.3" font-weight="bold" text-anchor="end" fill="#111">CD11b</text><text transform="translate(385.4 443.7) rotate(-47)" font-size="2.3" font-weight="bold" text-anchor="end" fill="#111">GZMB</text><text transform="translate(390.5 443.7) rotate(-47)" font-size="2.3" font-weight="bold" text-anchor="end" fill="#111">SMA</text><text transform="translate(395.6 443.7) rotate(-47)" font-size="2.3" font-weight="bold" text-anchor="end" fill="#111">MHC II</text><text transform="translate(400.7 443.7) rotate(-47)" font-size="2.3" font-weight="bold" text-anchor="end" fill="#111">CD45</text><text transform="translate(405.8 443.7) rotate(-47)" font-size="2.3" font-weight="bold" text-anchor="end" fill="#111">PanCK</text><text transform="translate(410.9 443.7) rotate(-47)" font-size="2.3" font-weight="bold" text-anchor="end" fill="#111">BatF3</text><text transform="translate(416 443.7) rotate(-47)" font-size="2.3" font-weight="bold" text-anchor="end" fill="#111">CD14</text><text transform="translate(421.1 443.7) rotate(-47)" font-size="2.3" font-weight="bold" text-anchor="end" fill="#111">Fibronectin</text><text transform="translate(426.2 443.7) rotate(-47)" font-size="2.3" font-weight="bold" text-anchor="end" fill="#111">CD163</text><text transform="translate(431.4 443.7) rotate(-47)" font-size="2.3" font-weight="bold" text-anchor="end" fill="#111">CD28</text><text transform="translate(436.5 443.7) rotate(-47)" font-size="2.3" font-weight="bold" text-anchor="end" fill="#111">CD31</text><text transform="translate(441.6 443.7) rotate(-47)" font-size="2.3" font-weight="bold" text-anchor="end" fill="#111">CD34</text><text transform="translate(446.7 443.7) rotate(-47)" font-size="2.3" font-weight="bold" text-anchor="end" fill="#111">CD40</text><text transform="translate(451.8 443.7) rotate(-47)" font-size="2.3" font-weight="bold" text-anchor="end" fill="#111">CD40L</text><text transform="translate(456.9 443.7) rotate(-47)" font-size="2.3" font-weight="bold" text-anchor="end" fill="#111">CD44/Pgp-1</text><text transform="translate(462 443.7) rotate(-47)" font-size="2.3" font-weight="bold" text-anchor="end" fill="#111">CD86</text><text transform="translate(467.1 443.7) rotate(-47)" font-size="2.3" font-weight="bold" text-anchor="end" fill="#111">B7-H3/CD276</text><text transform="translate(472.2 443.7) rotate(-47)" font-size="2.3" font-weight="bold" text-anchor="end" fill="#111">GITR/CD357</text><text transform="translate(477.4 443.7) rotate(-47)" font-size="2.3" font-weight="bold" text-anchor="end" fill="#111">VISTA</text><path d="M293.6 351.7H294.8M293.6 362.45H294.8M293.6 373.2H294.8M293.6 383.95H294.8M293.6 394.7H294.8M293.6 405.45H294.8M293.6 416.2H294.8M293.6 426.95H294.8M293.6 437.7H294.8M297.8 441.5v1M302.9 441.5v1M308 441.5v1M313.1 441.5v1M318.2 441.5v1M323.4 441.5v1M328.5 441.5v1M333.6 441.5v1M338.7 441.5v1M343.8 441.5v1M348.9 441.5v1M354 441.5v1M359.1 441.5v1M364.2 441.5v1M369.3 441.5v1M374.5 441.5v1M379.6 441.5v1M384.7 441.5v1M389.8 441.5v1M394.9 441.5v1M400 441.5v1M405.1 441.5v1M410.2 441.5v1M415.3 441.5v1M420.4 441.5v1M425.6 441.5v1M430.7 441.5v1M435.8 441.5v1M440.9 441.5v1M446 441.5v1M451.1 441.5v1M456.2 441.5v1M461.3 441.5v1M466.4 441.5v1M471.5 441.5v1M476.7 441.5v1" stroke="#222" stroke-width=".4" fill="none"/><path d="M297.8 399.6V419M302.9 407.6V427.3M308 397.8V412.9M313.1 400.1V419.7M318.2 406.4V423.7M323.4 405.9V425.4M328.5 406.3V429.5M333.6 411V429M338.7 399.5V420.4M343.8 397.7V413.8M348.9 397.5V414.4M354 397.8V417.3M359.1 399V415.6M364.2 394.5V412M369.3 395.2V411.6M374.5 395.9V408.8M379.6 395.8V408.8M384.7 394V410.4M389.8 390.2V409.6M394.9 391.3V405.7M400 391.5V405.1M405.1 385.8V402M410.2 385.4V403.6M415.3 380.8V401.5M420.4 387.8V400.1M425.6 378.5V400.1M430.7 367.8V384.2M435.8 381.2V399.1M440.9 371.1V390.5M446 373.1V391.2M451.1 371.1V388.5M456.2 374.2V391.5M461.3 374.7V389.6M466.4 357V374M471.5 355.4V374.1M476.7 365.9V381.7" stroke="#a6d2e2" stroke-width=".4" fill="none"/><path d="M298.8 417.5h0m-3-8.9h0m3.9 3.6h0m-.2-10.4h0m-1.8 2.6h0m.3 6.3h0m-2.2-6.9h0m1.1 13.6h0m2-14.7h0m.1-.4h0m-.7-.2h0m-2.6 14.4h0m.9-12.7h0m3.2 12.7h0m-2.9 1.7h0m1.1-5.5h0m-1.4 5.1h0m2 .5h0m.9-12.9h0m-2.3-2.5h0m-.9-2h0m.7 10.4h0m4 15.5h0m-.1-4.4h0m3.5-14.4h0m-.3 6.8h0m-.9-7h0m-2.2 3.4h0m3.8 .3h0m-.8 14.4h0m.8-11.5h0m-2.5 3.5h0m1.8-8.2h0m-.1 13.6h0m.4-15h0m.4 1.1h0m-2.6 10.2h0m2.5-5.3h0m0 4h0m-2.6-4.4h0m-.5-4.7h0m-.2 12h0m3.6-10.4h0m-4 16.2h0m5.1-21.8h0m3.3-5.5h0m-.4 12.5h0m-.4-2.5h0m-2.2-5.4h0m.1 6.3h0m.7-6h0m2.9 6.1h0m-.1-6.1h0m-2 4.2h0m-.1-6.6h0m-.3-2.2h0m-.1 12.8h0m2.5-5.5h0m-2-4.4h0m-1.7-1h0m2.9 9h0m-1.8-1.2h0m1.8-1.4h0m-.5 1h0m-1.3-.9h0m-.3-3.3h0m6.4-4.8h0m-.2 4.7h0m.6 4.2h0m.6 3.6h0m-.1-5.9h0m-.7 7.6h0m.8-7.5h0m.1 10.1h0m-.7 2.1h0m1.1-9h0m-1.7-6.8h0m1.2 15.1h0m-1.5-4.9h0m1.1 .8h0m-2.3 1h0m1.7-2.3h0m-.7-.8h0m1.5 .3h0m-.2-11.9h0m-2.4 8h0m2.1-4.3h0m.1 8.1h0m4 0h0m1-4.8h0m-1.9 11.1h0m.7-6.3h0m2.4 8.7h0m-.3-2.9h0m-1.4 4.7h0m0-11.4h0m-1 3.7h0m2.7-3.8h0m-2.5-2.8h0m.3 7.5h0m.5-1.7h0m-1.6-1.5h0m1.3-3.1h0m-1.4-1.9h0m2.9 9.8h0m-1.9-5.7h0m2.3 3.6h0m-2.5 5.8h0m1-7.7h0m1.7 1.1h0m2.8-2.8h0m2.4 3.4h0m-2.9-.3h0m-.7 2.8h0m1.3-6.4h0m1.4 10.4h0m-3.2-5.7h0m1.1 7.8h0m2.1-13.4h0m-2.1-1.8h0m3 2.7h0m-1.6 3.5h0m.2 2.6h0m.4-9.5h0m0 3.6h0m-.9 .6h0m-1 3.8h0m.7-3.3h0m1.2 4.5h0m-3-6.6h0m1.8 12.9h0m1.8-7.2h0m4.4 10.7h0m-1.1-3.3h0m-.7-17.6h0m2 13.5h0m-.5-2.5h0m-1.4-7.2h0m1.6 16.9h0m1.1-8.2h0m-2.3 .1h0m-1.5 4.4h0m.9-15.1h0m-.9 20h0m1.2-11.9h0m-1.2-.6h0m1.8-6.6h0m-1.5 11.5h0m2.9-11.8h0m.3 20.6h0m-.8-12.9h0m-2.2-5.9h0m2.6-2.8h0m-2.4 11.4h0m5.5 2.6h0m.7 6.1h0m-.5-15.9h0m1.4 1.7h0m-.3 6.4h0m1.2 .9h0m-1.2-5.2h0m-.3-.2h0m.8 4.7h0m-2.6-5.1h0m1 9.1h0m-.8-.4h0m2-11.3h0m.1 .1h0m-2.3 9h0m.5 5.1h0m1-10h0m1.3-5.2h0m-.3 .4h0m-2.4 16.2h0m2.2-13.2h0m-2.3 13.5h0m7.9-21.1h0m-.3-.4h0m-1.8 5.7h0m2.8-5.6h0m-3.9 13.2h0m.8-17h0m-.7-3h0m.6 3.3h0m1.2 15.5h0m.8-12.3h0m-1-1h0m2.1 13h0m-2.6-9.6h0m-.5 4h0m-.5 4.5h0m3.3-8.4h0m-1.3-7.5h0m1.1 13.4h0m-.6-15h0m.9 6.5h0m-.6-.6h0m-2.9-6.1h0m5.7-1.9h0m.2 .9h0m.7 14.3h0m-.2-10.6h0m.5-.4h0m1.1 6.9h0m-2.4-7.6h0m2.1 11.2h0m-.1-8.2h0m1.4-6.8h0m-3.9 12.4h0m1.5-11.8h0m.6 15.2h0m-.1-10.3h0m-1.8-4.4h0m3.4 6.7h0m.1-7h0m-2.9-.1h0m.7 .2h0m-.6 5.6h0m.2-5.7h0m-1.2 14.7h0m5.7-14.5h0m2.4 9.3h0m-1.2-4.5h0m-.1 6.9h0m.4-10.7h0m-2.1 10.5h0m2.8 2.3h0m1.3-5.7h0m-3.6-1.2h0m2.7-3.7h0m-1.6-2.2h0m.6 5.7h0m.6 5.5h0m1.2-2.2h0m-2.9-2.9h0m-.2 3.5h0m2.3 3.1h0m.4-13.7h0m-.5 5.2h0m0-6.5h0m-2 15.9h0m-.6-15.4h0m5.1 1.1h0m.1 3.8h0m2.1 .5h0m-2.5 9.3h0m2.1-14.4h0m-2.2 2.1h0m1.3 14.2h0m2.5-4.8h0m-3-3.6h0m.5-1.9h0m-1.4 4.9h0m3.4 2.8h0m-3.1-3.8h0m.3 3.5h0m1.2 4.4h0m1.4-16h0m-2 15.6h0m.6-9.4h0m0 6.5h0m2-4.6h0m.2 1.3h0m-3.7 4.2h0m5.9-11.4h0m1.2 2.6h0m.8-1.9h0m-1.7 .1h0m2.6 9.8h0m-.5-3.7h0m-1.9-7.9h0m1.8 5.8h0m-3.3-5.3h0m.2 9.1h0m3.4-8.6h0m-.4 2h0m-.5 9h0m-.3-1h0m-1-13.2h0m.6 9.6h0m-1.4-3.3h0m.6-6h0m-.1 5.9h0m.7 5.4h0m-.3 4.6h0m1.7-1h0m2.9-19.3h0m2.1 10.2h0m.4 5.7h0m-1.9 .5h0m-1.7-.7h0m.9-15.5h0m-.6 16.1h0m.9-10.7h0m2.1 10.2h0m-.8-6.5h0m-.5-8.2h0m-1.6 4.4h0m2.8 1.4h0m.8 4.3h0m-2.5 1.4h0m.6-9.5h0m.7 2h0m-1.5 9.1h0m2.4-2.7h0m.4-7.7h0m-3.7 .8h0m2.9 8.8h0m5.4-1.3h0m-1.9-4.9h0m.5 7.8h0m-1-10.2h0m1.3 11.3h0m-1.8-15.4h0m-.3 8.7h0m2.1-6.2h0m-1.8 6.8h0m2 1.5h0m.3-10.3h0m-1 12.7h0m2-8.5h0m-.5 5.4h0m.3-6.8h0m-.9 10h0m-1-12.1h0m-1.1 .9h0m-.5-.1h0m2.2-.8h0m.6 10.4h0m.3 1.1h0m2.4-1h0m3.4-1.6h0m-3.1 2.3h0m.9-12.1h0m2.2 12.3h0m-3.6-12.4h0m1.1 4.4h0m1.5 1.9h0m.8 2.9h0m-3.9 1.3h0m4.1-.8h0m-3.3-5.3h0m-.3 7.3h0m2.1-1.8h0m-2.3-8.5h0m1.4 10.8h0m-1.5-6.6h0m.7 7.1h0m.2-3.4h0m-.5 3.2h0m1.7-6.9h0m-1.6 5.3h0m7.8-9.2h0m0-1.5h0m-1.1 12.1h0m1.3-11.4h0m.4 1.5h0m-.7-2.3h0m-1.2 12.2h0m.4-1.5h0m-.6-10.6h0m-1.3 9.7h0m1.5 1.2h0m1.8-2.6h0m-1.3-1h0m-1.7-2.1h0m2.1 5h0m.4-4.9h0m.3-5.4h0m-.3 2h0m-2 1.7h0m-.6 6.9h0m-.5-6h0m1.3-2.3h0m5.2-1.8h0m1 9.8h0m-.7-7.1h0m-.1 2.5h0m-1.6-1.7h0m2.3-5.8h0m.8 1.2h0m-2.9 9.3h0m.9-7.2h0m-.2 11.2h0m2.5-5.5h0m-2.5-7.5h0m.4 3.3h0m2.2 4h0m-2 5.3h0m2.2-12h0m-4-2.1h0m1.6 3.7h0m1.2-3h0m-2.8 2.6h0m.9 8.3h0m.1-6.8h0m6.4-.3h0m-1.9-6.1h0m3.4 8.6h0m-2.7 .3h0m1.4-3.7h0m-.9 8.9h0m.9-3.2h0m.2-12.2h0m-1.8 10.9h0m-.5-2h0m3-2.8h0m-1.7 1.7h0m-1.5-8.8h0m2.2 10.9h0m-2.2 3.4h0m.3 2.8h0m1.1-10.6h0m1.8 2.8h0m-2.8-7h0m.4-1.9h0m0 2.7h0m2.3 10.4h0m3.7-2.6h0m.7-.2h0m.1-9.4h0m-1 5.6h0m.5 .4h0m.2 1.4h0m.5 2.4h0m.1-1.6h0m-2.8 1.8h0m1.1-2.8h0m1 4.5h0m1.7-2.3h0m-2.9-3.9h0m.2 .7h0m-.1 6.1h0m.1-3.2h0m.8-4h0m.6 8.1h0m-1.4-4.7h0m.6-6.7h0m2.3 7.1h0m-2.4-1.8h0m5.7-.4h0m1.6-3.9h0m-3-.6h0m1.3 1.1h0m-1 5h0m-.5-2.6h0m2.8 1.2h0m-1.6 2.7h0m-1.6 1.4h0m2.5-9.6h0m-2.5 10.4h0m.8-1.6h0m-.4 .3h0m1.5-8.3h0m-.9 8.1h0m-1 1.3h0m3.3-7.5h0m-2.5 .4h0m3 1h0m-3.9-4.7h0m-.1 .4h0m2.9 11.8h0m2.3-12.6h0m.4-2.2h0m1.9-2.4h0m.2 9.2h0m-1.2-8.9h0m-.3 5.5h0m2.2-6.7h0m.2 15.2h0m-3.1-5.3h0m.2-7.5h0m2.9 8.4h0m-3.4-6.5h0m3.3 5.4h0m-2.3-1.4h0m2.1 1.3h0m-2.3-7.6h0m1.5 4.7h0m-.9 4.1h0m-1.3-1.8h0m1.5 5.7h0m1.3-8.2h0m-2.2-3.1h0m6.8 8.2h0m-.4-2.6h0m-1.4-9.6h0m1.5 8.3h0m1.2 7.1h0m-1.4-4.9h0m.4-9.9h0m-1.4 8.5h0m.1-2.8h0m2-1.5h0m-2.5 12h0m-.6-8.4h0m.5 8.6h0m1.1-12.3h0m1.7 5.6h0m-1.5 5.9h0m.2-10.7h0m.7 8.4h0m-2.8-3.9h0m2.7-.7h0m-.8-1.3h0m-.4-4.3h0m5.1 4.5h0m-.6-7.7h0m-.9 8h0m2.4 1.8h0m-.4-6.4h0m-.8 6.2h0m.3-2.9h0m1.6-3.1h0m-.3-8h0m-1.8 16.2h0m-.5-16.3h0m-.5 14.7h0m.4-6.3h0m1.4 7.1h0m.1-5.8h0m-1.9 5.6h0m3.2-3.5h0m.2-.2h0m-.5 4.9h0m-.4-17.2h0m1.1 20.1h0m-2.8-19.2h0m7.9 10.5h0m-.4-3.4h0m-1.6 .9h0m-1.1 8.8h0m.1 .8h0m.5-5.4h0m-.3 2h0m2.7-5.2h0m-3.2-.4h0m1.4 7.1h0m1.7 1.1h0m-1.1-.9h0m.7-1.2h0m-2.2-1.8h0m2.1 3.5h0m-2.8-.6h0m3.9-8.1h0m-1.4 6.7h0m-.8 1.4h0m.8-7.9h0m-.4 6.5h0m1.7 .5h0m2.7 .6h0m-.4-6.8h0m2.6-5.2h0m.3 1.8h0m-2.4 3.1h0m2.5-11.7h0m-2.1 2h0m.1 14.4h0m-.1-14.9h0m.7 5h0m-2.4 .2h0m.4 .5h0m2.5-6.6h0m-.6 15.9h0m1.2 2.4h0m-.6-.4h0m-.4-17h0m-.8 17.2h0m-1.1-12.5h0m.8 6.8h0m.7 7.6h0m-.3-1.9h0m3.6-19.4h0m1.1 5.9h0m1.9-10.3h0m-3.2-.5h0m3 2.8h0m-3.3 7.7h0m2.8-.6h0m-.4-.7h0m-1.2-7h0m2.4 1.1h0m-1.6-7.1h0m0 12.9h0m-.4-11.3h0m1.3 12.2h0m-2.5-14.3h0m.8-.5h0m2 6.3h0m.6-5.1h0m-3.9 .6h0m1.2 6.9h0m1.2 2.2h0m-2.2 3.7h0m7 13.5h0m1.4-4.2h0m0-7.9h0m-1.5 2.5h0m.6-3.7h0m1.1 4.6h0m-.4 10.3h0m.6-9.9h0m-.3 10.8h0m-3.1-4.4h0m2.5-5.2h0m-1.9-5.1h0m.6 13.6h0m0-12.1h0m.9 3.2h0m-.1 .3h0m-1.3-7.5h0m2.2 11.2h0m-2.4-2.9h0m1.4 .1h0m1.4 4.9h0m-2.5-7.8h0m7.9-9.8h0m-2.8 .7h0m-1.2 6.4h0m3.1-11.4h0m-.3 .2h0m.9 10h0m-.6 5h0m-.8 .6h0m-.9-11.4h0m.2 8.5h0m-.4-7.4h0m-.3 11.1h0m2.5-3.8h0m-1.5-10.4h0m-1.8 10h0m3 3.8h0m-2.3-5.4h0m-.5-3.5h0m2.5-9.4h0m-2.3 14.4h0m3.3-8.2h0m-2.9 5.7h0m6.5-1.7h0m.5 2.5h0m-2.1 5.7h0m1.6-14.8h0m-1.4 5.3h0m1.7-3h0m.8-1.4h0m-.3 .5h0m-.7 8.1h0m1-.3h0m-2.6-2.9h0m.4-3.3h0m1.2 6h0m.9 1.1h0m-.6-.2h0m-.4 5.6h0m1.8-16.9h0m-4.2 2.8h0m.7 11.2h0m.9 .9h0m2-4.2h0m-2.2-7.4h0m6.7-.7h0m.5-.1h0m-.8 .7h0m-2.2-1.2h0m2 12.2h0m.9-9.8h0m0-5.4h0m-1.7 15.9h0m0-1.6h0m2.4 .9h0m-3.8 .8h0m1.4-6.8h0m-.9 3h0m.3-4.6h0m-.4-1.3h0m2.7 4.3h0m-2.7-5.1h0m2.8 8.2h0m.4-5h0m-.6 1.6h0m-2.1 5.6h0m.6-8.7h0m6-1.2h0m-1.7 8.2h0m-.1-9.8h0m-.4 5.2h0m1.5 3.5h0m-1.9 .5h0m0 .3h0m2.8-9.6h0m-2.4-1.6h0m2.7 13.7h0m-1.3-11.3h0m-1.4-2.8h0m2.8 7.1h0m.9 1.5h0m-1-3.1h0m-2.2-3.1h0m1.2 11.8h0m1.6-9h0m-.6 4.5h0m-3.2 7h0m.9-7.6h0m.2 7.3h0m5.5-16.3h0m-1 2.2h0m.8 9.2h0m2.7-6.1h0m-2.9-.9h0m1.6 2.7h0m-2.2 .7h0m.6-5.6h0m2.2-.6h0m-1.4 9.8h0m.4 1.6h0m-.9 1.1h0m-1.2-.8h0m1.6-13.2h0m-.7 14.6h0m1.9-3.7h0m.4-10.9h0m-2.1 6.8h0m2.5 6.6h0m-3.2 1.2h0m1.7-10.2h0m-1.9 1.9h0m5.2-14.2h0m2.2-1.3h0m-1-5.3h0m1.2 4.7h0m-.7-4.6h0m.8-3h0m-.4 6.6h0m1.5 .9h0m-1.7 7.3h0m1.4-10.8h0m-2.8 3.9h0m.1-3.8h0m1.5 11.9h0m-.3 .4h0m-.5-5.4h0m.2-10.5h0m-1.2 3h0m1.4 10.9h0m-1.5-8.8h0m2.2 7.2h0m-1.1-9.4h0m2.2 12.6h0m5.3-12h0m-.3 9.6h0m.1-2h0m-3.7-8.4h0m2.5 11.8h0m.1-16.3h0m-1.4 5.8h0m-.7-2.3h0m1.4 2.8h0m-1 .7h0m2.8 3.4h0m-.8 6.3h0m-3-1h0m.2-12.7h0m2.7 10.4h0m-.5-5.2h0m.5-.9h0m-2.2-3.9h0m-.4-3.4h0m3.5 17h0m-2.5-10h0m-.3 6.9h0m8-2.7h0m-3.4 3.8h0m2.3 6.9h0m-2.3-9h0m1 12.5h0m-.5-5.4h0m2.6-9.8h0m-.4 9.1h0m-2.9 2.4h0m1.7-.7h0m.3-.1h0m.8 2.3h0m.4-4.6h0m.3 2.1h0m-.2-9.1h0m-1.5 8.7h0m.9 .4h0m1-5.9h0m-1.2-1.8h0m-1.3-.7h0m.9 5.2h0m1.6-1.4h0" fill="none" stroke="#93c7da" stroke-width="1" stroke-linecap="round" opacity=".9"/><path d="M296.1 406.6h3.4V408l-.9 .9l.9 .9V411.3h-3.4V409.8l.9 -.9l-.9 -.9z" fill="#e0a070" fill-opacity=".28" stroke="#e0a070" stroke-width=".65"/><path d="M301.2 413h3.4V416.1l-.9 .9l.9 .9V420.8h-3.4V417.9l.9 -.9l-.9 -.9z" fill="#f0a878" fill-opacity=".28" stroke="#f0a878" stroke-width=".65"/><path d="M306.3 401h3.4V402.3l-.9 .9l.9 .9V405.3h-3.4V404.1l.9 -.9l-.9 -.9z" fill="#7cb83a" fill-opacity=".28" stroke="#7cb83a" stroke-width=".65"/><path d="M311.4 407.8h3.4V409.9l-.9 .9l.9 .9V413.4h-3.4V411.7l.9 -.9l-.9 -.9z" fill="#f0a040" fill-opacity=".28" stroke="#f0a040" stroke-width=".65"/><path d="M316.5 411.9h3.4V413.6l-.9 .9l.9 .9V417.9h-3.4V415.4l.9 -.9l-.9 -.9z" fill="#d8d038" fill-opacity=".28" stroke="#d8d038" stroke-width=".65"/><path d="M321.7 413.8h3.4V416.1l-.9 .9l.9 .9V419.9h-3.4V417.9l.9 -.9l-.9 -.9z" fill="#e8809c" fill-opacity=".28" stroke="#e8809c" stroke-width=".65"/><path d="M326.8 411.6h3.4V416.5l-.9 .9l.9 .9V423.1h-3.4V418.3l.9 -.9l-.9 -.9z" fill="#e88aa8" fill-opacity=".28" stroke="#e88aa8" stroke-width=".65"/><path d="M331.9 414.7h3.4V418.3l-.9 .9l.9 .9V423.9h-3.4V420.1l.9 -.9l-.9 -.9z" fill="#c0203a" fill-opacity=".28" stroke="#c0203a" stroke-width=".65"/><path d="M337 407.2h3.4V409.9l-.9 .9l.9 .9V413.9h-3.4V411.7l.9 -.9l-.9 -.9z" fill="#d8c83c" fill-opacity=".28" stroke="#d8c83c" stroke-width=".65"/><path d="M342.1 404.4h3.4V406.1l-.9 .9l.9 .9V409.9h-3.4V407.9l.9 -.9l-.9 -.9z" fill="#c870a0" fill-opacity=".28" stroke="#c870a0" stroke-width=".65"/><path d="M347.2 401h3.4V402.9l-.9 .9l.9 .9V406.5h-3.4V404.7l.9 -.9l-.9 -.9z" fill="#b8d048" fill-opacity=".28" stroke="#b8d048" stroke-width=".65"/><path d="M352.3 404.9h3.4V408l-.9 .9l.9 .9V412.4h-3.4V409.8l.9 -.9l-.9 -.9z" fill="#e08aa0" fill-opacity=".28" stroke="#e08aa0" stroke-width=".65"/><path d="M357.4 403.9h3.4V406.6l-.9 .9l.9 .9V411.5h-3.4V408.4l.9 -.9l-.9 -.9z" fill="#e07a98" fill-opacity=".28" stroke="#e07a98" stroke-width=".65"/><path d="M362.5 401.3h3.4V404.2l-.9 .9l.9 .9V407.9h-3.4V406l.9 -.9l-.9 -.9z" fill="#e06a8a" fill-opacity=".28" stroke="#e06a8a" stroke-width=".65"/><path d="M367.6 401.1h3.4V401.9l-.9 .9l.9 .9V404.5h-3.4V403.7l.9 -.9l-.9 -.9z" fill="#b02040" fill-opacity=".28" stroke="#b02040" stroke-width=".65"/><path d="M372.8 399.9h3.4V401l-.9 .9l.9 .9V404.2h-3.4V402.8l.9 -.9l-.9 -.9z" fill="#e8a048" fill-opacity=".28" stroke="#e8a048" stroke-width=".65"/><path d="M377.9 399.4h3.4V401.4l-.9 .9l.9 .9V405.4h-3.4V403.2l.9 -.9l-.9 -.9z" fill="#e0e040" fill-opacity=".28" stroke="#e0e040" stroke-width=".65"/><path d="M383 400.4h3.4V403.3l-.9 .9l.9 .9V407.3h-3.4V405.1l.9 -.9l-.9 -.9z" fill="#e890a8" fill-opacity=".28" stroke="#e890a8" stroke-width=".65"/><path d="M388.1 397.6h3.4V399.1l-.9 .9l.9 .9V402.7h-3.4V400.9l.9 -.9l-.9 -.9z" fill="#d8d840" fill-opacity=".28" stroke="#d8d840" stroke-width=".65"/><path d="M393.2 396h3.4V398l-.9 .9l.9 .9V402h-3.4V399.8l.9 -.9l-.9 -.9z" fill="#a868a0" fill-opacity=".28" stroke="#a868a0" stroke-width=".65"/><path d="M398.3 394.6h3.4V396.6l-.9 .9l.9 .9V400h-3.4V398.4l.9 -.9l-.9 -.9z" fill="#e0e050" fill-opacity=".28" stroke="#e0e050" stroke-width=".65"/><path d="M403.4 390.5h3.4V392.9l-.9 .9l.9 .9V397.2h-3.4V394.7l.9 -.9l-.9 -.9z" fill="#f09a60" fill-opacity=".28" stroke="#f09a60" stroke-width=".65"/><path d="M408.5 389.9h3.4V392.3l-.9 .9l.9 .9V396.2h-3.4V394.1l.9 -.9l-.9 -.9z" fill="#b8d850" fill-opacity=".28" stroke="#b8d850" stroke-width=".65"/><path d="M413.6 387.9h3.4V391l-.9 .9l.9 .9V395.2h-3.4V392.8l.9 -.9l-.9 -.9z" fill="#d8508a" fill-opacity=".28" stroke="#d8508a" stroke-width=".65"/><path d="M418.7 391.1h3.4V392.9l-.9 .9l.9 .9V396.2h-3.4V394.7l.9 -.9l-.9 -.9z" fill="#b8d850" fill-opacity=".28" stroke="#b8d850" stroke-width=".65"/><path d="M423.9 386.4h3.4V389.1l-.9 .9l.9 .9V393.5h-3.4V390.9l.9 -.9l-.9 -.9z" fill="#f0a060" fill-opacity=".28" stroke="#f0a060" stroke-width=".65"/><path d="M429 372.7h3.4V375.3l-.9 .9l.9 .9V379.2h-3.4V377.1l.9 -.9l-.9 -.9z" fill="#f09868" fill-opacity=".28" stroke="#f09868" stroke-width=".65"/><path d="M434.1 385.8h3.4V388.5l-.9 .9l.9 .9V392.6h-3.4V390.3l.9 -.9l-.9 -.9z" fill="#f0a060" fill-opacity=".28" stroke="#f0a060" stroke-width=".65"/><path d="M439.2 375.1h3.4V377.8l-.9 .9l.9 .9V382.9h-3.4V379.6l.9 -.9l-.9 -.9z" fill="#e8e040" fill-opacity=".28" stroke="#e8e040" stroke-width=".65"/><path d="M444.3 377.2h3.4V379.7l-.9 .9l.9 .9V383.9h-3.4V381.5l.9 -.9l-.9 -.9z" fill="#e0e048" fill-opacity=".28" stroke="#e0e048" stroke-width=".65"/><path d="M449.4 376.8h3.4V380.2l-.9 .9l.9 .9V384.5h-3.4V382l.9 -.9l-.9 -.9z" fill="#e0d840" fill-opacity=".28" stroke="#e0d840" stroke-width=".65"/><path d="M454.5 379.6h3.4V381.6l-.9 .9l.9 .9V386h-3.4V383.4l.9 -.9l-.9 -.9z" fill="#d05088" fill-opacity=".28" stroke="#d05088" stroke-width=".65"/><path d="M459.6 379.4h3.4V381.6l-.9 .9l.9 .9V385.3h-3.4V383.4l.9 -.9l-.9 -.9z" fill="#a82048" fill-opacity=".28" stroke="#a82048" stroke-width=".65"/><path d="M464.7 360.4h3.4V362.1l-.9 .9l.9 .9V366h-3.4V363.9l.9 -.9l-.9 -.9z" fill="#c0b070" fill-opacity=".28" stroke="#c0b070" stroke-width=".65"/><path d="M469.8 362.8h3.4V365.5l-.9 .9l.9 .9V369.6h-3.4V367.3l.9 -.9l-.9 -.9z" fill="#e0a878" fill-opacity=".28" stroke="#e0a878" stroke-width=".65"/><path d="M475 369.3h3.4V372.1l-.9 .9l.9 .9V376.2h-3.4V373.9l.9 -.9l-.9 -.9z" fill="#c8e060" fill-opacity=".28" stroke="#c8e060" stroke-width=".65"/><path d="M298.1 421.5h0m4.7 9.8h0m10.3-33.3h0m5.5 5.5h0m5.2 25.7h0m5-25.3h0m5.3 29.3h0m5.1-7.9h0m4.6-30.6h0m5.4-2.1h0m4.1-.7h0m6.1 28.7h0m5.5-27.5h0m5.1-3.7h0m9.4 5.4h0m10.9-10.2h0m4.1 22.9h0m5.5 .8h0m5.5-24.7h0m5.5-2.8h0m3.8-2.9h0m5.7 4.8h0m9.9 3.7h0m5 13.9h0m5.9-4.1h0m5-27.8h0m10.3 24.4h0m4.8 2.5h0m5.2-43.6h0m4.5-1.7h0m6 32.9h0" fill="none" stroke="#2f6f8a" stroke-width=".84" stroke-linecap="round"/></svg>
<div class="h" style="left:284.1px;top:471px;font-size:7.1px">References</div>
<div class="ln " style="left:284.30px;top:479px;width:6.00px;font-size:4.80px;line-height:8px">1.</div>
<div class="ln " style="left:284.30px;top:492px;width:6.00px;font-size:4.80px;line-height:8px">2.</div>
<div class="ln j " style="left:289.20px;top:479px;width:193.40px;font-size:4.80px;line-height:8px">Charmsaz S., <i>et al</i>. Novel Strategies for Cancer Treatment: Highlights From the 55th IACR</div>
<div class="ln " style="left:289.20px;top:485px;width:193.40px;font-size:4.80px;line-height:8px">Annual Conference. <i>Cancers</i> (Basel) 2019; 11(8).</div>
<div class="ln j " style="left:289.20px;top:492px;width:193.40px;font-size:4.80px;line-height:8px">Toki M.I., <i>et al</i>. High-plex predictive marker discovery for melanoma immunotherapy-</div>
<div class="ln " style="left:289.20px;top:498px;width:193.40px;font-size:4.80px;line-height:8px">treated patients using digital spatial profiling. <i>Clin. Cancer Res.</i> 2019;25:5503–5512.</div>
<div class="h" style="left:507.60px;top:115px">Results</div>
<div class="ln j " style="left:505.80px;top:124px;width:273.20px;font-size:5.60px;line-height:8px"><span class="cb">Figure 3: Anti-PD1 alters the expression levels of different immunologically relevant proteins in</span></div>
<div class="ln j " style="left:505.80px;top:132px;width:273.20px;font-size:5.60px;line-height:8px"><span class="cb">different segments.</span> Protein expression of markers in <b>A.</b> tumor-rich and <b>B.</b> immune-rich segments. Each dot</div>
<div class="ln j " style="left:505.80px;top:138px;width:273.20px;font-size:5.60px;line-height:8px">represents a single region of interest. Individual regions of interest were derived from each tumor from a total</div>
<div class="ln " style="left:505.80px;top:145px;width:273.20px;font-size:5.60px;line-height:8px">of n=4 MC38 syngeneic mouse tumors.</div>
<svg class="fg" style="left:0;top:0" width="875" height="583"><rect x="531.97" y="165.64" width="117.04" height="80.32" fill="#cdd1d4"/><text x="541.7" y="250.1" font-size="2.3" font-weight="bold" text-anchor="middle" fill="#222">Lbls3</text><text x="561.2" y="250.1" font-size="2.3" font-weight="bold" text-anchor="middle" fill="#222">B7-H3</text><text x="580.7" y="250.1" font-size="2.3" font-weight="bold" text-anchor="middle" fill="#222">OX40L</text><text x="600.2" y="250.1" font-size="2.3" font-weight="bold" text-anchor="middle" fill="#222">GITR</text><text x="619.7" y="250.1" font-size="2.3" font-weight="bold" text-anchor="middle" fill="#222">Tim-3</text><text x="639.3" y="250.1" font-size="2.3" font-weight="bold" text-anchor="middle" fill="#222">VISTA</text><path d="M541.7 165.6V246M561.2 165.6V246M580.7 165.6V246M600.2 165.6V246M619.7 165.6V246M639.3 165.6V246M532 179.4H649M532 192.8H649M532 206.1H649M532 219.9H649M532 233.6H649" stroke="#e2e5e7" stroke-width=".45" fill="none"/><path d="M529.6 179.4h0m0 13.4h0m0 13.3h0m0 13.8h0m0 13.7h0" fill="none" stroke="#222" stroke-width=".90" stroke-linecap="round"/><text x="515.8" y="165.1" font-size="5.3" font-weight="bold" fill="#111">A</text><text x="590.5" y="160" font-size="2.9" font-weight="bold" text-anchor="middle" fill="#111">Tumor-rich</text><text x="590.5" y="163.3" font-size="2.9" font-weight="bold" text-anchor="middle" fill="#111">Protein expression (IO Drug Target Module)</text><text transform="translate(526.7 211.8) rotate(-90)" font-size="2.4" font-weight="bold" text-anchor="middle" fill="#111">log2 Normalized count</text><path d="M540.5 185.5V215.1M537.5 194.1h6v9.8h-6zM537.5 198.3h6" fill="#cde5eb" stroke="#2b7b96" stroke-width=".5"/><path d="M547.3 191.9V210.8M544.3 194.8h6v10h-6zM544.3 201.3h6" fill="#fbe3d0" stroke="#f0a468" stroke-width=".5"/><path d="M559.4 172.2V195.3M556 177.3h6.9v8.9h-6.9zM556 181.1h6.9" fill="#cde5eb" stroke="#2b7b96" stroke-width=".5"/><path d="M566.8 179V196.2M563.5 182.1h6.5v5.5h-6.5zM563.5 185.4h6.5" fill="#fbe3d0" stroke="#f0a468" stroke-width=".5"/><path d="M578.9 187.6V208.2M576.1 191.4h5.7v16h-5.7zM576.1 199.3h5.7" fill="#cde5eb" stroke="#2b7b96" stroke-width=".5"/><path d="M585.7 193.6V215.9M582.4 201h6.5v7.6h-6.5zM582.4 204.6h6.5" fill="#fbe3d0" stroke="#f0a468" stroke-width=".5"/><path d="M597.1 200.5V227.1M594.1 210.8h6v14.6h-6zM594.1 218.6h6" fill="#cde5eb" stroke="#2b7b96" stroke-width=".5"/><path d="M604.8 207.3V242.5M601.8 213.3h6v18.5h-6zM601.8 222.9h6" fill="#fbe3d0" stroke="#f0a468" stroke-width=".5"/><path d="M616.5 190.2V221.9M613.5 200.5h6v8.6h-6zM613.5 204.2h6" fill="#cde5eb" stroke="#2b7b96" stroke-width=".5"/><path d="M623.4 195.3V218.5M620.2 202.2h6.5v12h-6.5zM620.2 206.8h6.5" fill="#fbe3d0" stroke="#f0a468" stroke-width=".5"/><path d="M635.5 168.7V183.8M632.2 175.6h6.5v6.9h-6.5zM632.2 179.3h6.5" fill="#cde5eb" stroke="#2b7b96" stroke-width=".5"/><path d="M643.3 173V194.5M640.1 181.1h6.3v8.2h-6.3zM640.1 184h6.3" fill="#fbe3d0" stroke="#f0a468" stroke-width=".5"/><path d="M540.8 196.5h0m.7 6.7h0m-3-10.7h0m1.7 8.3h0m-2.6 3.5h0m3 3.1h0m-3.7-10.9h0m-.2 5.3h0m6.8 4.8h0m-3.9-2.1h0m3.9-9h0m.7 2.9h0m-5.3-1.2h0m2.2 5.6h0m.8 10.2h0m15.7-30.7h0m-2.5-6.1h0m5.4 7.1h0m-1.4 .9h0m2.4-.4h0m2.1-.9h0m-5.8-2.7h0m2.5 4.7h0m-5.1 .5h0m2.5-8.1h0m-.6 6.8h0m-1.2 1.6h0m3-5.8h0m1.9-1.3h0m-4.8 6.8h0m25.1 14.6h0m.3-8.9h0m.8 13.1h0m-7.1-3.6h0m.3-.7h0m2.9-2.6h0m-3.2-5h0m.5 15.4h0m.1-11.8h0m2.1 .9h0m-1.3 3.6h0m4.1-7.1h0m-2.7 6.8h0m.1 4h0m.4-.9h0m20.7 13.1h0m-3.2 1.8h0m5-6.6h0m-6.5 7.4h0m4.1 1.6h0m1.8 1.9h0m.2-.5h0m-5.9-2.3h0m1-12.9h0m5.2 1.6h0m-4.4 5.7h0m-1.6 2h0m-.3 6.8h0m-.3-3h0m2.6 2.9h0m21.1-11.8h0m-3.3 3.2h0m3.3-9.4h0m-2.6 8.3h0m1.7-17h0m.5-.1h0m.2-1.8h0m-4.1 6.6h0m3.7 7.1h0m-1.2-7.9h0m2.1 7.6h0m-2.8 1.5h0m-2.6-1.2h0m2.5-2.6h0m3.4-3.8h0m12.9-26.4h0m4.2 7.6h0m1.3-11.8h0m-.8 11.9h0m1.2-8.8h0m1.7 7.6h0m-3.9-6.5h0m-2.4 5.9h0m2.9-5.8h0m-2 .6h0m.8-4.2h0m2.7 7.8h0m-1-3.1h0m1.6-.1h0m-4.9-.3h0" fill="none" stroke="#2b7b96" stroke-width=".96" stroke-linecap="round"/><path d="M548.7 195h0m2.4 7.5h0m-6.1-5.4h0m-1.2 10.9h0m.2-12.6h0m1.7 11h0m-2.1-3.8h0m2.4 5.9h0m1.4-14.1h0m.7 4.2h0m.1 5.9h0m-2.4 5.5h0m.5-8.4h0m1.8 .9h0m2.8 .1h0m13.2-18.8h0m3.9-2h0m-3 1.8h0m1.1 4.7h0m-2.2-9.2h0m6.2 9.5h0m.4-5.8h0m-.8 .3h0m-4.3 2.5h0m-.4 2.6h0m3.5 6.7h0m1.7-8h0m-6.2-2.7h0m3 1.9h0m.8 1.7h0m19.5 17.3h0m.1-1.1h0m1.5 4.9h0m-.7-8h0m.2 7.5h0m-.2 .1h0m-2-8.8h0m-3.6 .9h0m-.4-.7h0m6.4-3.6h0m-1.4 16h0m-.8-4.8h0m-.6-.2h0m3.6-1.9h0m-.9-3.2h0m16.2 30.5h0m-.7 .5h0m.6-6h0m1.6 13.9h0m-3.5-25.1h0m3.8 21.5h0m-3.7-16.5h0m3.9 8.7h0m-3.6-3.3h0m-2.3-4.1h0m1.7 5.6h0m1.4-10.1h0m2.3-6.5h0m1.9-.5h0m-4.3 23.7h0m17.7-22.2h0m3.9-5.3h0m.1 7.2h0m-1.3-10.5h0m-.5 .8h0m2.2-8.5h0m.9 13h0m-2.6 1h0m.8-7.7h0m-1.7 7h0m-4.1 3.9h0m4.2-9.5h0m.3 6.7h0m-.7-2h0m3.8-9.9h0m13.2-18.1h0m-.8 7h0m.3-7.4h0m7.7 4.9h0m-6.8-3.8h0m-.9 7.3h0m3.5-5.9h0m-1.7 8h0m.7-15.5h0m5.2 5h0m-7.4 .3h0m4.8 10.1h0m-1.5-.1h0m3.9-3.9h0m0 2.6h0" fill="none" stroke="#f0a468" stroke-width=".96" stroke-linecap="round"/><rect x="661.15" y="165.64" width="117.56" height="80.32" fill="#cdd1d4"/><text x="671" y="250.1" font-size="2.3" font-weight="bold" text-anchor="middle" fill="#222">Lbls3</text><text x="690.5" y="250.1" font-size="2.3" font-weight="bold" text-anchor="middle" fill="#222">B7-H3</text><text x="710.1" y="250.1" font-size="2.3" font-weight="bold" text-anchor="middle" fill="#222">OX40L</text><text x="729.7" y="250.1" font-size="2.3" font-weight="bold" text-anchor="middle" fill="#222">GITR</text><text x="749.3" y="250.1" font-size="2.3" font-weight="bold" text-anchor="middle" fill="#222">Tim-3</text><text x="768.9" y="250.1" font-size="2.3" font-weight="bold" text-anchor="middle" fill="#222">VISTA</text><path d="M671 165.6V246M690.5 165.6V246M710.1 165.6V246M729.7 165.6V246M749.3 165.6V246M768.9 165.6V246M661.2 173.9H778.7M661.2 197H778.7M661.2 220.2H778.7M661.2 243.4H778.7" stroke="#e2e5e7" stroke-width=".45" fill="none"/><path d="M658.8 173.9h0m0 23.1h0m0 23.2h0m0 23.2h0" fill="none" stroke="#222" stroke-width=".90" stroke-linecap="round"/><text x="651.9" y="165.1" font-size="5.3" font-weight="bold" fill="#111">B</text><text x="719.9" y="160" font-size="2.9" font-weight="bold" text-anchor="middle" fill="#111">Immune-rich</text><text x="719.9" y="163.3" font-size="2.9" font-weight="bold" text-anchor="middle" fill="#111">Protein expression (IO Drug Target Module)</text><text transform="translate(655.9 211.8) rotate(-90)" font-size="2.4" font-weight="bold" text-anchor="middle" fill="#111">log2 Normalized count</text><path d="M669.3 193.6V218.5M666.3 199.3h6v15.8h-6zM666.3 205.3h6" fill="#cde5eb" stroke="#2b7b96" stroke-width=".5"/><path d="M676.3 198.8V219.4M673.2 203.1h6.3v10.3h-6.3zM673.2 207.3h6.3" fill="#fbe3d0" stroke="#f0a468" stroke-width=".5"/><path d="M688.6 191.4V206.5M685.2 193.1h6.9v10.8h-6.9zM685.2 199.7h6.9" fill="#cde5eb" stroke="#2b7b96" stroke-width=".5"/><path d="M695.7 186.7V211.6M692.6 199.3h6.3v4.1h-6.3zM692.6 200.7h6.3" fill="#fbe3d0" stroke="#f0a468" stroke-width=".5"/><path d="M707.2 189V221.6M704.1 203.9h6.3v7.7h-6.3zM704.1 208.9h6.3" fill="#cde5eb" stroke="#2b7b96" stroke-width=".5"/><path d="M714.9 199.6V222.8M711.4 208.2h6.9v6.9h-6.9zM711.4 211.9h6.9" fill="#fbe3d0" stroke="#f0a468" stroke-width=".5"/><path d="M726.1 211.6V230.5M722.9 218.5h6.3v10.6h-6.3zM722.9 223.6h6.3" fill="#cde5eb" stroke="#2b7b96" stroke-width=".5"/><path d="M733.9 225.4V243.4M730.7 226.7h6.5v4.6h-6.5zM730.7 229.1h6.5" fill="#fbe3d0" stroke="#f0a468" stroke-width=".5"/><path d="M745 193.6V214.2M741.8 201.7h6.3v9.1h-6.3zM741.8 204.9h6.3" fill="#cde5eb" stroke="#2b7b96" stroke-width=".5"/><path d="M752.8 193.6V223.6M749.5 204.8h6.5v14.6h-6.5zM749.5 211.8h6.5" fill="#fbe3d0" stroke="#f0a468" stroke-width=".5"/><path d="M764.1 169.6V189.3M760.7 179h6.9v8.9h-6.9zM760.7 184.1h6.9" fill="#cde5eb" stroke="#2b7b96" stroke-width=".5"/><path d="M772.4 172.2V192.8M769.3 180.4h6.3v8.1h-6.3zM769.3 183.9h6.3" fill="#fbe3d0" stroke="#f0a468" stroke-width=".5"/><path d="M668.4 201.9h0m4.4-3.9h0m-1.6 17h0m-3-2.6h0m1-1.1h0m1-4.4h0m-3.7-.3h0m4.9-4.3h0m.7 7.3h0m.2-4.8h0m-1.1-5.6h0m-2.7 9.2h0m-2.3-12.8h0m1 14.3h0m2.8 5.9h0m23-15.2h0m-4.1-2.9h0m3.3 4.5h0m-4.4 4.2h0m-1-13.4h0m3.8 7.4h0m-6.1-2.8h0m2.7 5h0m-.5-5.3h0m-1.9-3.6h0m5.6 12.4h0m1.6-10.1h0m-3.7 .6h0m3.5 7.1h0m-.4-1h0m16.2 4.6h0m2.2-3.6h0m-5.5 3.1h0m5.9 9.2h0m-2-7.7h0m-1.1-10.2h0m3.6-5.8h0m-4.5 13.5h0m4.9 6.4h0m-6.5-10.7h0m1.1-3.7h0m5.3 7.7h0m-6.9-8.4h0m-.4 6.3h0m3.8 9.8h0m18.9 11.9h0m3.4 4.9h0m-.8-10.2h0m-6.6 9h0m.5-16.9h0m5.7 18.5h0m-2.3-6h0m-.7-10h0m-1 7h0m.3 1.6h0m4.9 4.9h0m-5.5-9.1h0m1.8 7h0m-1.8-2.3h0m2.1 4.6h0m21.4-23.2h0m-2.7-2.4h0m1.2 9.4h0m.3-2.7h0m2.5-3.2h0m-4.8 6h0m-.7-1.2h0m-1.1-2.9h0m-1.5-.8h0m.5 3.4h0m3.8-11h0m1 4.3h0m2.1 3.8h0m-4.6 1.8h0m4.2-8.4h0m14.7-22.1h0m1.7 5h0m3 .6h0m-.4 2h0m-2.4-10.9h0m3 4.7h0m-.5-2.5h0m-1.4 5.4h0m-1-8.7h0m0 9.6h0m-2.2-1.8h0m-1.1-3.4h0m-1.2 4.6h0m1 4.9h0m6.2-10h0" fill="none" stroke="#2b7b96" stroke-width=".96" stroke-linecap="round"/><path d="M676.9 207.4h0m.3-3.3h0m-3.6-3.7h0m-.5-1.1h0m.7 8.4h0m.2 8.1h0m3.5-1.4h0m-2.5-11.3h0m4.2 7.9h0m-5.3 .2h0m-1.1-8.6h0m4 7.5h0m.4 4.6h0m-2.2-10.2h0m-1.5 13.4h0m19.1-18.9h0m-.6-7.2h0m3.4 19.3h0m4.4-13.1h0m-4.6 3.7h0m-2.9 1.7h0m2.7-2.5h0m1.8 2.7h0m1.5-.5h0m-.1-3.7h0m-2-1.4h0m.7 11.1h0m-1.4-5.8h0m2.9-1.8h0m-5.4-10.2h0m24.7 24.8h0m-6.7-6.7h0m4.3 6.6h0m-3.6 .4h0m4.7-9h0m.8 7.3h0m1-13.9h0m-3 9.8h0m4-2.4h0m-7.7-.4h0m-.4-3.7h0m8.2 6.1h0m-.4 .7h0m-5.7 3.1h0m4.2-2h0m16 16.5h0m3.5 3.2h0m-4-4.8h0m1.4 4.9h0m1.4-2.7h0m-2.6 3h0m4-5.1h0m-4.3-1h0m-.4 3.3h0m5.1 5.7h0m-.8 5.5h0m-3.3-8.6h0m-.5 2h0m-.8-5.1h0m2.7-.8h0m16.4-28.6h0m-.8 18.9h0m-.9-11.2h0m.6 3h0m5.7 .3h0m-4-2.4h0m2.7-.8h0m-2.2 8.3h0m-1.9-1.7h0m-.4-1.1h0m3.6-8.3h0m1.7 9h0m-4.5 7.2h0m-.4-2.4h0m1.1-11.7h0m19.4-17.2h0m1.4 .1h0m-2.5-8.2h0m.3 11.3h0m4.3-5.9h0m.2 3h0m-3.6-3.4h0m-.5 2.2h0m4-5.9h0m-2.7 2.4h0m1.4-4h0m.4-4.4h0m-1.1 15.3h0m1.9-6.8h0m.1-4.3h0" fill="none" stroke="#f0a468" stroke-width=".96" stroke-linecap="round"/><text x="783.6" y="201.9" font-size="2.4" font-weight="bold" fill="#111">Treatment</text><rect x="784.4" y="204.2" width="3.6" height="3.6" fill="#cde5eb" stroke="#2b7b96" stroke-width="0.45"/><rect x="784.4" y="209" width="3.6" height="3.6" fill="#fbe3d0" stroke="#f0a468" stroke-width="0.45"/><text x="790" y="206.9" font-size="2.3" fill="#111">Anti-PD-1</text><text x="790" y="211.7" font-size="2.3" fill="#111">PBS</text></svg>
<div class="ln j " style="left:505.80px;top:256px;width:316.60px;font-size:5.60px;line-height:8px"><span class="cb">Figure 4: Spatial profiling of RNA in MC38 syngeneic model treated with anti-PD-1 using Whole Transcriptome Atlas</span></div>
<div class="ln j " style="left:505.80px;top:263px;width:316.60px;font-size:5.60px;line-height:8px"><span class="cb">panel.</span> Spatial profiling with GeoMx WTA generates a high transcriptional readout over 19,000 genes. <b>A.</b> Heatmap of the ROIs</div>
<div class="ln j " style="left:505.80px;top:270px;width:316.60px;font-size:5.60px;line-height:8px">clustering by high CV genes&nbsp; <b>B.</b> T-SNE, a non-orthogonally constrained projections, that cluster samples based on overall</div>
<div class="ln j " style="left:505.80px;top:276px;width:316.60px;font-size:5.60px;line-height:8px">gene expression. The volcano plot of significantly differentially expressed genes <b>C.</b> and functional pathways <b>D.</b> in tumor-rich</div>
<div class="ln " style="left:505.80px;top:283px;width:316.60px;font-size:5.60px;line-height:8px">and immune-rich.</div>
<svg class="fg" style="left:0;top:0" width="875" height="583"><text x="507" y="304.7" font-size="5.3" font-weight="bold" fill="#111">A</text><text x="649.7" y="304.7" font-size="5.3" font-weight="bold" fill="#111">C</text><text x="507" y="413.1" font-size="5.3" font-weight="bold" fill="#111">B</text><text x="649.7" y="413.1" font-size="5.3" font-weight="bold" fill="#111">D</text><path d="M545.48 317.5h1.5M543.98 320.56h3M543.98 322.09h1.5M612.98 322.09h3M615.98 323.62h1.5M543.98 325.15h1.5M612.98 325.15h4.5M543.98 328.21h1.5M612.98 328.21h3M615.98 329.75h1.5M543.98 331.27h1.5M615.98 331.27h1.5M615.98 334.33h1.5M615.98 335.87h1.5M543.98 337.39h3M543.98 340.45h3M612.98 340.45h1.5M615.98 340.45h1.5M612.98 341.98h1.5M615.98 345.04h1.5M545.48 348.1h1.5M614.48 348.1h1.5M615.98 349.63h1.5M612.98 351.16h4.5M543.98 352.69h1.5M612.98 352.69h1.5M545.48 354.22h1.5M612.98 354.22h1.5M543.98 357.28h3M615.98 357.28h1.5M543.98 358.81h1.5M612.98 358.81h1.5M545.48 361.88h1.5M543.98 366.46h1.5M612.98 366.46h1.5M615.98 366.46h1.5M543.98 369.52h1.5M615.98 369.52h1.5M612.98 371.05h1.5M615.98 371.05h1.5M545.48 372.58h1.5M612.98 372.58h1.5M615.98 374.12h1.5M543.98 375.64h1.5M543.98 377.17h3M612.98 377.17h1.5M543.98 378.7h1.5M612.98 378.7h1.5M612.98 380.24h1.5M615.98 380.24h1.5M543.98 381.76h3M612.98 381.76h1.5M615.98 381.76h1.5M545.48 386.35h1.5M543.98 390.94h3M543.98 394h1.5M543.98 395.53h1.5" stroke="#4575b4" stroke-width="1.59" fill="none"/><path d="M545.48 315.97h1.5M543.98 317.5h1.5M545.48 319.03h1.5M545.48 322.09h1.5M615.98 322.09h1.5M543.98 323.62h1.5M612.98 323.62h1.5M545.48 325.15h1.5M543.98 326.69h3M615.98 326.69h1.5M615.98 328.21h1.5M545.48 329.75h1.5M612.98 329.75h3M612.98 331.27h3M543.98 332.8h1.5M612.98 332.8h1.5M543.98 334.33h3M612.98 334.33h3M543.98 335.87h1.5M612.98 335.87h1.5M612.98 337.39h1.5M615.98 337.39h1.5M615.98 338.92h1.5M543.98 341.98h1.5M615.98 341.98h1.5M543.98 343.51h3M612.98 343.51h3M543.98 345.04h1.5M612.98 345.04h3M543.98 346.57h1.5M612.98 346.57h1.5M615.98 346.57h1.5M543.98 348.1h1.5M612.98 348.1h1.5M615.98 348.1h1.5M543.98 349.63h1.5M612.98 349.63h1.5M543.98 351.16h3M614.48 352.69h3M543.98 354.22h1.5M615.98 354.22h1.5M612.98 357.28h3M545.48 358.81h1.5M543.98 363.4h3M612.98 363.4h1.5M615.98 363.4h1.5M545.48 364.94h1.5M612.98 364.94h1.5M545.48 366.46h1.5M543.98 368h1.5M612.98 368h1.5M615.98 368h1.5M612.98 369.52h1.5M543.98 371.05h1.5M614.48 371.05h1.5M543.98 372.58h1.5M543.98 374.12h3M612.98 374.12h3M612.98 375.64h4.5M615.98 377.17h1.5M614.48 378.7h3M543.98 380.24h1.5M536.48 381.76h1.5M542.48 381.76h1.5M614.48 381.76h1.5M543.98 384.82h1.5M543.98 386.35h1.5M536.48 387.88h1.5M536.48 389.41h1.5M543.98 389.41h1.5M543.98 392.47h1.5M543.98 397.06h1.5" stroke="#6e9dc9" stroke-width="1.59" fill="none"/><path d="M543.98 315.97h1.5M543.98 319.03h1.5M593.48 320.56h1.5M599.48 320.56h1.5M545.48 323.62h1.5M612.98 326.69h3M545.48 328.21h1.5M543.98 329.75h1.5M545.48 331.27h1.5M599.48 331.27h1.5M545.48 332.8h1.5M614.48 332.8h1.5M614.48 337.39h1.5M543.98 338.92h3M612.98 338.92h1.5M614.48 340.45h1.5M545.48 341.98h1.5M614.48 341.98h1.5M615.98 343.51h1.5M614.48 346.57h1.5M545.48 349.63h1.5M614.48 349.63h1.5M545.48 352.69h1.5M543.98 355.75h3M612.98 355.75h3M581.48 358.81h1.5M599.48 358.81h1.5M614.48 358.81h3M614.48 360.34h3M543.98 361.88h1.5M612.98 361.88h4.5M614.48 363.4h1.5M543.98 364.94h1.5M615.98 364.94h1.5M614.48 366.46h1.5M545.48 368h1.5M614.48 368h1.5M545.48 369.52h1.5M545.48 371.05h1.5M579.98 372.58h1.5M614.48 372.58h3M545.48 375.64h1.5M599.48 375.64h1.5M545.48 378.7h1.5M614.48 380.24h1.5M534.98 381.76h1.5M536.48 383.29h1.5M542.48 383.29h1.5M545.48 383.29h1.5M612.98 383.29h1.5M531.98 386.35h1.5M534.98 386.35h1.5M615.98 386.35h1.5M612.98 387.88h3M539.48 389.41h1.5M542.48 389.41h1.5M545.48 389.41h1.5M545.48 392.47h1.5M545.48 394h1.5M545.48 395.53h1.5M545.48 397.06h1.5" stroke="#98c4de" stroke-width="1.59" fill="none"/><path d="M573.98 315.97h1.5M579.98 315.97h1.5M588.98 315.97h3M596.48 315.97h1.5M579.98 317.5h1.5M587.48 317.5h1.5M599.48 317.5h1.5M572.48 319.03h1.5M590.48 319.03h1.5M597.98 319.03h1.5M572.48 320.56h1.5M578.48 320.56h1.5M582.98 320.56h4.5M597.98 320.56h1.5M572.48 322.09h1.5M579.98 322.09h1.5M590.48 322.09h1.5M593.48 322.09h1.5M573.98 323.62h1.5M588.98 325.15h1.5M591.98 325.15h1.5M599.48 325.15h1.5M579.98 326.69h1.5M582.98 326.69h1.5M591.98 328.21h1.5M615.98 332.8h1.5M582.98 334.33h1.5M545.48 335.87h1.5M614.48 335.87h1.5M578.48 337.39h1.5M614.48 338.92h1.5M584.48 340.45h1.5M599.48 340.45h1.5M570.98 341.98h1.5M579.98 343.51h1.5M545.48 345.04h1.5M581.48 345.04h1.5M602.48 345.04h1.5M545.48 346.57h1.5M599.48 348.1h1.5M582.98 349.63h1.5M579.98 351.16h3M590.48 351.16h1.5M593.48 351.16h1.5M599.48 351.16h1.5M573.98 352.69h1.5M579.98 352.69h1.5M582.98 352.69h1.5M599.48 352.69h1.5M582.98 354.22h1.5M596.48 354.22h1.5M599.48 354.22h1.5M614.48 354.22h1.5M582.98 355.75h1.5M588.98 355.75h1.5M615.98 355.75h1.5M570.98 357.28h1.5M579.98 357.28h1.5M599.48 357.28h1.5M579.98 358.81h1.5M585.98 358.81h1.5M591.98 358.81h1.5M596.48 358.81h1.5M543.98 360.34h3M572.48 360.34h1.5M612.98 360.34h1.5M597.98 361.88h1.5M575.48 363.4h1.5M578.48 363.4h1.5M599.48 363.4h1.5M614.48 364.94h1.5M570.98 366.46h1.5M575.48 366.46h1.5M579.98 366.46h1.5M582.98 366.46h1.5M575.48 369.52h1.5M585.98 369.52h1.5M614.48 369.52h1.5M596.48 371.05h1.5M590.48 372.58h1.5M599.48 372.58h1.5M573.98 375.64h1.5M581.48 375.64h3M576.98 377.17h1.5M614.48 377.17h1.5M581.48 378.7h1.5M587.48 380.24h1.5M537.98 381.76h1.5M540.98 381.76h1.5M573.98 381.76h1.5M539.48 383.29h1.5M543.98 383.29h1.5M575.48 383.29h1.5M584.48 383.29h1.5M587.48 383.29h1.5M591.98 383.29h1.5M536.48 384.82h1.5M542.48 384.82h1.5M545.48 384.82h1.5M576.98 384.82h1.5M612.98 384.82h1.5M536.48 386.35h1.5M540.98 386.35h3M572.48 386.35h1.5M612.98 386.35h3M534.98 387.88h1.5M537.98 387.88h1.5M542.48 387.88h1.5M545.48 387.88h1.5M575.48 387.88h1.5M534.98 389.41h1.5M581.48 389.41h1.5M615.98 389.41h1.5M533.48 390.94h4.5M542.48 390.94h1.5M534.98 394h1.5M579.98 394h1.5M596.48 394h1.5M612.98 394h3M570.98 395.53h3M578.48 395.53h1.5M591.98 395.53h1.5M615.98 395.53h1.5M563.48 397.06h1.5M615.98 397.06h1.5" stroke="#c3e0ed" stroke-width="1.59" fill="none"/><path d="M570.98 315.97h1.5M599.48 315.97h1.5M611.48 315.97h1.5M581.48 317.5h1.5M593.48 317.5h1.5M596.48 317.5h1.5M578.48 319.03h1.5M582.98 319.03h3M587.48 319.03h1.5M591.98 319.03h1.5M599.48 319.03h1.5M551.48 320.56h3M570.98 320.56h1.5M575.48 320.56h1.5M579.98 320.56h3M587.48 320.56h4.5M594.98 320.56h3M600.98 320.56h1.5M611.48 320.56h1.5M534.98 322.09h1.5M582.98 322.09h1.5M600.98 322.09h1.5M593.48 323.62h1.5M597.98 323.62h1.5M614.48 323.62h1.5M563.48 325.15h1.5M570.98 325.15h1.5M581.48 325.15h3M585.98 325.15h1.5M572.48 326.69h1.5M584.48 326.69h1.5M596.48 326.69h1.5M599.48 326.69h1.5M582.98 328.21h1.5M593.48 328.21h1.5M599.48 328.21h3M590.48 329.75h1.5M599.48 329.75h1.5M582.98 331.27h1.5M596.48 331.27h1.5M599.48 332.8h3M572.48 334.33h3M579.98 334.33h1.5M572.48 335.87h1.5M579.98 335.87h1.5M587.48 337.39h3M599.48 337.39h3M597.98 338.92h3M579.98 340.45h1.5M588.98 340.45h4.5M596.48 340.45h1.5M603.98 340.45h1.5M587.48 341.98h1.5M599.48 341.98h1.5M554.48 343.51h1.5M587.48 343.51h1.5M597.98 343.51h1.5M572.48 345.04h1.5M588.98 345.04h1.5M593.48 345.04h1.5M599.48 345.04h1.5M572.48 346.57h1.5M582.98 346.57h1.5M585.98 349.63h1.5M590.48 349.63h1.5M599.48 349.63h1.5M585.98 352.69h1.5M590.48 352.69h1.5M596.48 352.69h3M576.98 354.22h1.5M587.48 354.22h4.5M620.48 354.22h1.5M590.48 357.28h4.5M596.48 357.28h1.5M563.48 358.81h1.5M578.48 358.81h1.5M582.98 358.81h1.5M590.48 358.81h1.5M602.48 358.81h1.5M599.48 361.88h1.5M608.48 361.88h1.5M579.98 363.4h1.5M590.48 363.4h1.5M596.48 363.4h1.5M600.98 363.4h1.5M572.48 366.46h1.5M590.48 366.46h1.5M599.48 366.46h1.5M563.48 368h1.5M579.98 368h1.5M582.98 368h1.5M599.48 368h3M572.48 369.52h1.5M599.48 369.52h1.5M572.48 371.05h1.5M582.98 371.05h1.5M588.98 371.05h3M599.48 371.05h1.5M599.48 374.12h1.5M593.48 375.64h1.5M599.48 377.17h1.5M572.48 378.7h1.5M579.98 378.7h1.5M584.48 378.7h1.5M599.48 378.7h3M545.48 380.24h1.5M539.48 381.76h1.5M572.48 381.76h1.5M533.48 383.29h3M537.98 383.29h1.5M540.98 383.29h1.5M563.48 383.29h1.5M615.98 383.29h1.5M531.98 384.82h1.5M537.98 384.82h3M614.48 384.82h3M533.48 386.35h1.5M537.98 386.35h3M531.98 387.88h1.5M540.98 387.88h1.5M543.98 387.88h1.5M615.98 387.88h1.5M531.98 389.41h1.5M540.98 389.41h1.5M572.48 389.41h1.5M612.98 389.41h1.5M531.98 390.94h1.5M537.98 390.94h1.5M614.48 390.94h3M563.48 394h1.5M582.98 394h1.5M612.98 395.53h1.5M534.98 397.06h3M567.98 397.06h1.5M612.98 397.06h1.5" stroke="#e6f5ee" stroke-width="1.59" fill="none"/><path d="M581.48 315.97h3M585.98 315.97h3M593.48 315.97h1.5M597.98 315.97h1.5M600.98 315.97h1.5M570.98 317.5h1.5M578.48 317.5h1.5M582.98 317.5h1.5M588.98 317.5h4.5M597.98 317.5h1.5M579.98 319.03h3M585.98 319.03h1.5M588.98 319.03h1.5M593.48 319.03h1.5M596.48 319.03h1.5M600.98 319.03h3M554.48 320.56h1.5M563.48 320.56h1.5M567.98 320.56h3M573.98 320.56h1.5M576.98 320.56h1.5M591.98 320.56h1.5M602.48 320.56h3M617.48 320.56h1.5M620.48 320.56h1.5M536.48 322.09h1.5M542.48 322.09h1.5M591.98 322.09h1.5M596.48 322.09h4.5M579.98 323.62h1.5M582.98 323.62h6M600.98 323.62h1.5M542.48 325.15h1.5M573.98 325.15h1.5M576.98 325.15h3M584.48 325.15h1.5M590.48 325.15h1.5M593.48 325.15h1.5M596.48 325.15h3M605.48 325.15h1.5M611.48 325.15h1.5M593.48 326.69h1.5M600.98 326.69h1.5M611.48 326.69h1.5M572.48 328.21h1.5M588.98 328.21h1.5M602.48 328.21h1.5M579.98 329.75h1.5M582.98 329.75h1.5M591.98 329.75h1.5M596.48 329.75h1.5M570.98 331.27h3M576.98 331.27h1.5M579.98 331.27h3M587.48 331.27h3M593.48 331.27h3M597.98 331.27h1.5M600.98 331.27h1.5M608.48 331.27h1.5M611.48 331.27h1.5M617.48 331.27h3M579.98 332.8h1.5M582.98 332.8h1.5M590.48 332.8h4.5M596.48 332.8h1.5M611.48 332.8h1.5M576.98 334.33h1.5M597.98 334.33h3M585.98 335.87h1.5M590.48 335.87h3M596.48 335.87h4.5M542.48 337.39h1.5M573.98 337.39h1.5M579.98 337.39h3M591.98 337.39h4.5M597.98 337.39h1.5M602.48 337.39h1.5M590.48 338.92h1.5M611.48 338.92h1.5M582.98 340.45h1.5M587.48 340.45h1.5M593.48 340.45h1.5M597.98 340.45h1.5M617.48 340.45h1.5M579.98 341.98h1.5M585.98 341.98h1.5M590.48 341.98h1.5M596.48 341.98h1.5M570.98 343.51h1.5M581.48 343.51h1.5M585.98 343.51h1.5M590.48 343.51h1.5M593.48 343.51h1.5M596.48 343.51h1.5M611.48 343.51h1.5M618.98 343.51h3M579.98 345.04h1.5M585.98 345.04h1.5M597.98 345.04h1.5M608.48 345.04h1.5M599.48 346.57h1.5M572.48 348.1h3M581.48 348.1h3M590.48 348.1h3M596.48 348.1h1.5M611.48 348.1h1.5M572.48 349.63h1.5M576.98 349.63h1.5M579.98 349.63h1.5M591.98 349.63h3M596.48 349.63h1.5M611.48 349.63h1.5M542.48 351.16h1.5M582.98 351.16h3M597.98 351.16h1.5M611.48 351.16h1.5M576.98 352.69h1.5M584.48 352.69h1.5M591.98 352.69h3M611.48 352.69h1.5M563.48 354.22h1.5M572.48 354.22h3M581.48 354.22h1.5M585.98 354.22h1.5M591.98 354.22h1.5M594.98 354.22h1.5M597.98 354.22h1.5M600.98 354.22h3M608.48 354.22h1.5M593.48 355.75h1.5M572.48 357.28h3M578.48 357.28h1.5M581.48 357.28h1.5M584.48 357.28h1.5M588.98 357.28h1.5M600.98 357.28h3M542.48 358.81h1.5M572.48 358.81h3M597.98 358.81h1.5M611.48 358.81h1.5M618.98 358.81h1.5M585.98 360.34h3M593.48 360.34h1.5M579.98 361.88h1.5M582.98 361.88h1.5M570.98 363.4h1.5M576.98 363.4h1.5M581.48 363.4h3M585.98 363.4h1.5M588.98 363.4h1.5M591.98 363.4h3M542.48 364.94h1.5M579.98 364.94h4.5M593.48 364.94h1.5M596.48 364.94h1.5M600.98 364.94h1.5M542.48 366.46h1.5M581.48 366.46h1.5M593.48 366.46h1.5M596.48 366.46h1.5M602.48 366.46h1.5M618.98 366.46h1.5M572.48 368h1.5M581.48 368h1.5M588.98 368h3M596.48 368h1.5M603.98 368h1.5M581.48 369.52h3M593.48 369.52h1.5M596.48 369.52h1.5M620.48 369.52h1.5M591.98 371.05h1.5M597.98 371.05h1.5M608.48 371.05h1.5M581.48 372.58h1.5M587.48 372.58h1.5M591.98 372.58h3M596.48 372.58h1.5M600.98 372.58h3M606.98 372.58h1.5M572.48 374.12h1.5M579.98 374.12h1.5M582.98 374.12h1.5M588.98 374.12h3M579.98 375.64h1.5M587.48 375.64h1.5M596.48 375.64h1.5M620.48 375.64h1.5M572.48 377.17h1.5M579.98 377.17h1.5M585.98 377.17h1.5M590.48 377.17h4.5M549.98 378.7h1.5M567.98 378.7h4.5M582.98 378.7h1.5M585.98 378.7h4.5M591.98 378.7h1.5M602.48 378.7h3M606.98 378.7h1.5M620.48 378.7h1.5M542.48 380.24h1.5M569.48 380.24h1.5M576.98 380.24h1.5M600.98 380.24h1.5M608.48 380.24h1.5M611.48 380.24h1.5M531.98 381.76h1.5M600.98 381.76h1.5M531.98 383.29h1.5M533.48 384.82h3M540.98 384.82h1.5M572.48 384.82h1.5M608.48 384.82h1.5M548.48 386.35h1.5M554.48 386.35h1.5M570.98 386.35h1.5M600.98 386.35h1.5M603.98 386.35h1.5M608.48 386.35h1.5M611.48 386.35h1.5M533.48 387.88h1.5M539.48 387.88h1.5M549.98 387.88h1.5M563.48 387.88h1.5M537.98 389.41h1.5M614.48 389.41h1.5M539.48 390.94h3M549.98 390.94h1.5M576.98 390.94h1.5M599.48 390.94h3M612.98 390.94h1.5M618.98 390.94h3M612.98 392.47h4.5M542.48 394h1.5M549.98 394h1.5M572.48 394h1.5M575.48 394h1.5M593.48 394h1.5M597.98 394h1.5M600.98 394h1.5M606.98 394h1.5M615.98 394h1.5M536.48 395.53h1.5M542.48 395.53h1.5M554.48 395.53h1.5M563.48 395.53h1.5M579.98 395.53h1.5M582.98 395.53h1.5M593.48 395.53h1.5M608.48 395.53h1.5M614.48 395.53h1.5M582.98 397.06h1.5M599.48 397.06h1.5M606.98 397.06h1.5M614.48 397.06h1.5" stroke="#f7fccf" stroke-width="1.59" fill="none"/><path d="M534.98 315.97h1.5M542.48 315.97h1.5M572.48 315.97h1.5M584.48 315.97h1.5M608.48 315.97h1.5M534.98 317.5h1.5M572.48 317.5h1.5M585.98 317.5h1.5M600.98 317.5h3M620.48 317.5h1.5M564.98 319.03h1.5M570.98 319.03h1.5M573.98 319.03h1.5M608.48 319.03h1.5M534.98 320.56h3M548.48 320.56h3M564.98 320.56h1.5M605.48 320.56h1.5M608.48 320.56h3M618.98 320.56h1.5M549.98 322.09h1.5M573.98 322.09h6M581.48 322.09h1.5M585.98 322.09h3M602.48 322.09h1.5M608.48 322.09h1.5M611.48 322.09h1.5M542.48 323.62h1.5M567.98 323.62h1.5M572.48 323.62h1.5M578.48 323.62h1.5M581.48 323.62h1.5M590.48 323.62h3M596.48 323.62h1.5M599.48 323.62h1.5M602.48 323.62h1.5M534.98 325.15h3M548.48 325.15h1.5M551.48 325.15h1.5M575.48 325.15h1.5M579.98 325.15h1.5M587.48 325.15h1.5M600.98 325.15h4.5M608.48 325.15h1.5M620.48 325.15h1.5M554.48 326.69h1.5M567.98 326.69h1.5M573.98 326.69h1.5M581.48 326.69h1.5M587.48 326.69h6M594.98 326.69h1.5M602.48 326.69h3M549.98 328.21h1.5M563.48 328.21h1.5M575.48 328.21h1.5M579.98 328.21h1.5M584.48 328.21h1.5M587.48 328.21h1.5M590.48 328.21h1.5M596.48 328.21h1.5M576.98 329.75h1.5M581.48 329.75h1.5M585.98 329.75h1.5M602.48 329.75h1.5M536.48 331.27h1.5M539.48 331.27h1.5M554.48 331.27h1.5M563.48 331.27h1.5M573.98 331.27h1.5M578.48 331.27h1.5M585.98 331.27h1.5M590.48 331.27h3M602.48 331.27h1.5M605.48 331.27h1.5M620.48 331.27h1.5M536.48 332.8h1.5M540.98 332.8h1.5M570.98 332.8h3M578.48 332.8h1.5M581.48 332.8h1.5M585.98 332.8h1.5M588.98 332.8h1.5M597.98 332.8h1.5M602.48 332.8h3M608.48 332.8h1.5M617.48 332.8h3M578.48 334.33h1.5M590.48 334.33h1.5M593.48 334.33h1.5M596.48 334.33h1.5M602.48 334.33h1.5M605.48 334.33h1.5M611.48 334.33h1.5M617.48 334.33h1.5M563.48 335.87h1.5M578.48 335.87h1.5M582.98 335.87h1.5M587.48 335.87h3M593.48 335.87h1.5M600.98 335.87h1.5M606.98 335.87h1.5M620.48 335.87h1.5M536.48 337.39h1.5M551.48 337.39h1.5M570.98 337.39h1.5M582.98 337.39h3M590.48 337.39h1.5M596.48 337.39h1.5M606.98 337.39h3M611.48 337.39h1.5M617.48 337.39h1.5M572.48 338.92h1.5M581.48 338.92h3M591.98 338.92h3M596.48 338.92h1.5M551.48 340.45h4.5M570.98 340.45h3M578.48 340.45h1.5M585.98 340.45h1.5M600.98 340.45h3M572.48 341.98h1.5M582.98 341.98h3M593.48 341.98h3M602.48 341.98h1.5M620.48 341.98h1.5M540.98 343.51h1.5M572.48 343.51h3M578.48 343.51h1.5M582.98 343.51h1.5M588.98 343.51h1.5M591.98 343.51h1.5M599.48 343.51h1.5M608.48 343.51h1.5M534.98 345.04h1.5M542.48 345.04h1.5M549.98 345.04h1.5M575.48 345.04h1.5M582.98 345.04h1.5M587.48 345.04h1.5M590.48 345.04h3M596.48 345.04h1.5M600.98 345.04h1.5M611.48 345.04h1.5M617.48 345.04h1.5M620.48 345.04h1.5M579.98 346.57h1.5M587.48 346.57h1.5M593.48 346.57h1.5M596.48 346.57h3M579.98 348.1h1.5M585.98 348.1h3M593.48 348.1h1.5M597.98 348.1h1.5M602.48 348.1h1.5M537.98 349.63h1.5M588.98 349.63h1.5M594.98 349.63h1.5M600.98 349.63h1.5M603.98 349.63h1.5M608.48 349.63h1.5M572.48 351.16h4.5M578.48 351.16h1.5M585.98 351.16h4.5M591.98 351.16h1.5M594.98 351.16h3M600.98 351.16h3M608.48 351.16h1.5M620.48 351.16h1.5M548.48 352.69h1.5M554.48 352.69h1.5M570.98 352.69h3M578.48 352.69h1.5M587.48 352.69h1.5M594.98 352.69h1.5M606.98 352.69h1.5M620.48 352.69h1.5M542.48 354.22h1.5M554.48 354.22h1.5M578.48 354.22h3M584.48 354.22h1.5M593.48 354.22h1.5M603.98 354.22h1.5M609.98 354.22h3M617.48 354.22h1.5M573.98 355.75h1.5M579.98 355.75h3M584.48 355.75h3M591.98 355.75h1.5M596.48 355.75h1.5M599.48 355.75h1.5M602.48 355.75h1.5M611.48 355.75h1.5M554.48 357.28h1.5M569.48 357.28h1.5M575.48 357.28h1.5M582.98 357.28h1.5M585.98 357.28h3M594.98 357.28h1.5M606.98 357.28h1.5M611.48 357.28h1.5M617.48 357.28h1.5M531.98 358.81h1.5M536.48 358.81h1.5M551.48 358.81h1.5M570.98 358.81h1.5M575.48 358.81h3M584.48 358.81h1.5M587.48 358.81h3M593.48 358.81h3M600.98 358.81h1.5M606.98 358.81h3M617.48 358.81h1.5M579.98 360.34h1.5M582.98 360.34h1.5M590.48 360.34h1.5M597.98 360.34h3M603.98 360.34h1.5M620.48 360.34h1.5M534.98 361.88h1.5M563.48 361.88h1.5M572.48 361.88h1.5M581.48 361.88h1.5M584.48 361.88h1.5M590.48 361.88h1.5M602.48 361.88h1.5M534.98 363.4h1.5M554.48 363.4h1.5M587.48 363.4h1.5M597.98 363.4h1.5M602.48 363.4h1.5M608.48 363.4h1.5M570.98 364.94h1.5M575.48 364.94h1.5M584.48 364.94h6M594.98 364.94h1.5M599.48 364.94h1.5M534.98 366.46h3M578.48 366.46h1.5M584.48 366.46h4.5M591.98 366.46h1.5M597.98 366.46h1.5M600.98 366.46h1.5M605.48 366.46h4.5M534.98 368h1.5M549.98 368h1.5M570.98 368h1.5M573.98 368h1.5M576.98 368h1.5M585.98 368h1.5M593.48 368h1.5M597.98 368h1.5M608.48 368h1.5M618.98 368h3M542.48 369.52h1.5M563.48 369.52h1.5M570.98 369.52h1.5M573.98 369.52h1.5M590.48 369.52h3M597.98 369.52h1.5M600.98 369.52h1.5M618.98 369.52h1.5M551.48 371.05h1.5M570.98 371.05h1.5M576.98 371.05h6M584.48 371.05h3M593.48 371.05h1.5M611.48 371.05h1.5M554.48 372.58h1.5M567.98 372.58h1.5M572.48 372.58h4.5M578.48 372.58h1.5M582.98 372.58h1.5M585.98 372.58h1.5M588.98 372.58h1.5M594.98 372.58h1.5M605.48 372.58h1.5M609.98 372.58h1.5M570.98 374.12h1.5M587.48 374.12h1.5M593.48 374.12h1.5M600.98 374.12h1.5M563.48 375.64h1.5M578.48 375.64h1.5M585.98 375.64h1.5M590.48 375.64h3M597.98 375.64h1.5M602.48 375.64h1.5M570.98 377.17h1.5M573.98 377.17h1.5M578.48 377.17h1.5M581.48 377.17h3M587.48 377.17h3M597.98 377.17h1.5M600.98 377.17h3M608.48 377.17h1.5M611.48 377.17h1.5M548.48 378.7h1.5M552.98 378.7h3M575.48 378.7h1.5M590.48 378.7h1.5M593.48 378.7h1.5M596.48 378.7h3M608.48 378.7h1.5M611.48 378.7h1.5M617.48 378.7h1.5M567.98 380.24h1.5M572.48 380.24h3M599.48 380.24h1.5M602.48 380.24h3M617.48 380.24h1.5M533.48 381.76h1.5M546.98 381.76h1.5M549.98 381.76h1.5M554.48 381.76h1.5M567.98 381.76h3M599.48 381.76h1.5M602.48 381.76h3M611.48 381.76h1.5M546.98 383.29h1.5M549.98 383.29h1.5M570.98 383.29h4.5M576.98 383.29h1.5M582.98 383.29h1.5M597.98 383.29h1.5M602.48 383.29h1.5M614.48 383.29h1.5M617.48 383.29h1.5M617.48 384.82h1.5M546.98 386.35h1.5M563.48 386.35h1.5M569.48 386.35h1.5M590.48 386.35h1.5M593.48 386.35h1.5M620.48 386.35h1.5M546.98 387.88h1.5M564.98 387.88h1.5M569.48 387.88h3M573.98 387.88h1.5M605.48 387.88h1.5M608.48 387.88h1.5M620.48 387.88h1.5M533.48 389.41h1.5M554.48 389.41h1.5M563.48 389.41h1.5M567.98 389.41h1.5M570.98 389.41h1.5M573.98 389.41h1.5M600.98 389.41h4.5M573.98 390.94h1.5M603.98 390.94h1.5M611.48 390.94h1.5M540.98 392.47h1.5M572.48 392.47h1.5M600.98 392.47h3M606.98 392.47h1.5M611.48 392.47h1.5M617.48 392.47h1.5M620.48 392.47h1.5M531.98 394h1.5M539.48 394h1.5M548.48 394h1.5M551.48 394h1.5M554.48 394h1.5M567.98 394h1.5M570.98 394h1.5M573.98 394h1.5M584.48 394h3M588.98 394h4.5M608.48 394h1.5M611.48 394h1.5M618.98 394h3M533.48 395.53h1.5M537.98 395.53h1.5M540.98 395.53h1.5M546.98 395.53h1.5M581.48 395.53h1.5M590.48 395.53h1.5M599.48 395.53h3M606.98 395.53h1.5M611.48 395.53h1.5M617.48 395.53h1.5M620.48 395.53h1.5M539.48 397.06h4.5M548.48 397.06h3M552.98 397.06h3M569.48 397.06h1.5M576.98 397.06h1.5M579.98 397.06h1.5M588.98 397.06h1.5M593.48 397.06h1.5M597.98 397.06h1.5M600.98 397.06h3M605.48 397.06h1.5M608.48 397.06h1.5M611.48 397.06h1.5M620.48 397.06h1.5" stroke="#fff7b2" stroke-width="1.59" fill="none"/><path d="M536.48 315.97h1.5M546.98 315.97h1.5M551.48 315.97h4.5M560.48 315.97h1.5M563.48 315.97h3M567.98 315.97h3M575.48 315.97h1.5M591.98 315.97h1.5M594.98 315.97h1.5M602.48 315.97h1.5M606.98 315.97h1.5M617.48 315.97h1.5M620.48 315.97h1.5M549.98 317.5h6M567.98 317.5h1.5M573.98 317.5h3M594.98 317.5h1.5M605.48 317.5h3M531.98 319.03h1.5M534.98 319.03h1.5M537.98 319.03h1.5M548.48 319.03h1.5M551.48 319.03h1.5M554.48 319.03h1.5M563.48 319.03h1.5M567.98 319.03h1.5M575.48 319.03h3M594.98 319.03h1.5M609.98 319.03h3M617.48 319.03h4.5M531.98 320.56h1.5M537.98 320.56h3M542.48 320.56h1.5M546.98 320.56h1.5M560.48 320.56h1.5M612.98 320.56h3M531.98 322.09h3M546.98 322.09h1.5M551.48 322.09h3M563.48 322.09h1.5M569.48 322.09h3M584.48 322.09h1.5M588.98 322.09h1.5M603.98 322.09h1.5M609.98 322.09h1.5M617.48 322.09h1.5M540.98 323.62h1.5M549.98 323.62h1.5M564.98 323.62h1.5M570.98 323.62h1.5M588.98 323.62h1.5M603.98 323.62h3M611.48 323.62h1.5M617.48 323.62h1.5M620.48 323.62h1.5M537.98 325.15h1.5M546.98 325.15h1.5M549.98 325.15h1.5M552.98 325.15h1.5M569.48 325.15h1.5M572.48 325.15h1.5M606.98 325.15h1.5M609.98 325.15h1.5M617.48 325.15h1.5M531.98 326.69h4.5M548.48 326.69h4.5M563.48 326.69h1.5M570.98 326.69h1.5M575.48 326.69h4.5M585.98 326.69h1.5M597.98 326.69h1.5M606.98 326.69h3M617.48 326.69h4.5M548.48 328.21h1.5M554.48 328.21h1.5M570.98 328.21h1.5M573.98 328.21h1.5M576.98 328.21h1.5M581.48 328.21h1.5M594.98 328.21h1.5M597.98 328.21h1.5M606.98 328.21h3M611.48 328.21h1.5M618.98 328.21h1.5M554.48 329.75h1.5M563.48 329.75h3M570.98 329.75h4.5M578.48 329.75h1.5M584.48 329.75h1.5M587.48 329.75h3M593.48 329.75h1.5M597.98 329.75h1.5M600.98 329.75h1.5M603.98 329.75h1.5M608.48 329.75h1.5M531.98 331.27h3M540.98 331.27h3M551.48 331.27h3M558.98 331.27h1.5M569.48 331.27h1.5M575.48 331.27h1.5M603.98 331.27h1.5M606.98 331.27h1.5M609.98 331.27h1.5M534.98 332.8h1.5M542.48 332.8h1.5M546.98 332.8h3M573.98 332.8h1.5M584.48 332.8h1.5M587.48 332.8h1.5M594.98 332.8h1.5M605.48 332.8h3M620.48 332.8h1.5M537.98 334.33h1.5M549.98 334.33h1.5M552.98 334.33h1.5M555.98 334.33h1.5M569.48 334.33h3M575.48 334.33h1.5M581.48 334.33h1.5M584.48 334.33h6M591.98 334.33h1.5M600.98 334.33h1.5M608.48 334.33h1.5M620.48 334.33h1.5M534.98 335.87h1.5M542.48 335.87h1.5M546.98 335.87h1.5M554.48 335.87h1.5M570.98 335.87h1.5M573.98 335.87h3M581.48 335.87h1.5M605.48 335.87h1.5M617.48 335.87h1.5M537.98 337.39h1.5M549.98 337.39h1.5M554.48 337.39h1.5M564.98 337.39h1.5M569.48 337.39h1.5M572.48 337.39h1.5M575.48 337.39h1.5M585.98 337.39h1.5M603.98 337.39h1.5M618.98 337.39h3M531.98 338.92h1.5M542.48 338.92h1.5M548.48 338.92h1.5M573.98 338.92h4.5M579.98 338.92h1.5M584.48 338.92h6M594.98 338.92h1.5M602.48 338.92h1.5M608.48 338.92h1.5M618.98 338.92h3M534.98 340.45h1.5M564.98 340.45h1.5M569.48 340.45h1.5M573.98 340.45h3M581.48 340.45h1.5M608.48 340.45h1.5M611.48 340.45h1.5M618.98 340.45h3M531.98 341.98h1.5M552.98 341.98h1.5M573.98 341.98h1.5M578.48 341.98h1.5M581.48 341.98h1.5M591.98 341.98h1.5M608.48 341.98h1.5M611.48 341.98h1.5M617.48 341.98h1.5M534.98 343.51h3M542.48 343.51h1.5M567.98 343.51h1.5M576.98 343.51h1.5M584.48 343.51h1.5M594.98 343.51h1.5M600.98 343.51h3M605.48 343.51h3M563.48 345.04h1.5M573.98 345.04h1.5M584.48 345.04h1.5M605.48 345.04h3M609.98 345.04h1.5M536.48 346.57h1.5M552.98 346.57h1.5M567.98 346.57h4.5M576.98 346.57h1.5M581.48 346.57h1.5M584.48 346.57h1.5M588.98 346.57h3M600.98 346.57h1.5M608.48 346.57h1.5M611.48 346.57h1.5M617.48 346.57h4.5M537.98 348.1h1.5M563.48 348.1h1.5M570.98 348.1h1.5M576.98 348.1h1.5M600.98 348.1h1.5M606.98 348.1h4.5M533.48 349.63h3M542.48 349.63h1.5M551.48 349.63h1.5M573.98 349.63h3M578.48 349.63h1.5M584.48 349.63h1.5M587.48 349.63h1.5M597.98 349.63h1.5M617.48 349.63h1.5M620.48 349.63h1.5M534.98 351.16h1.5M540.98 351.16h1.5M548.48 351.16h3M563.48 351.16h1.5M567.98 351.16h1.5M570.98 351.16h1.5M576.98 351.16h1.5M605.48 351.16h1.5M609.98 351.16h1.5M617.48 351.16h1.5M534.98 352.69h1.5M537.98 352.69h1.5M540.98 352.69h3M551.48 352.69h1.5M563.48 352.69h1.5M567.98 352.69h3M575.48 352.69h1.5M581.48 352.69h1.5M600.98 352.69h3M617.48 352.69h3M534.98 354.22h4.5M551.48 354.22h3M564.98 354.22h3M570.98 354.22h1.5M575.48 354.22h1.5M618.98 354.22h1.5M534.98 355.75h3M551.48 355.75h1.5M572.48 355.75h1.5M576.98 355.75h1.5M587.48 355.75h1.5M590.48 355.75h1.5M597.98 355.75h1.5M606.98 355.75h3M620.48 355.75h1.5M533.48 357.28h6M540.98 357.28h3M551.48 357.28h1.5M563.48 357.28h1.5M567.98 357.28h1.5M597.98 357.28h1.5M605.48 357.28h1.5M608.48 357.28h1.5M620.48 357.28h1.5M534.98 358.81h1.5M537.98 358.81h1.5M540.98 358.81h1.5M548.48 358.81h3M552.98 358.81h3M569.48 358.81h1.5M605.48 358.81h1.5M620.48 358.81h1.5M542.48 360.34h1.5M563.48 360.34h1.5M573.98 360.34h3M578.48 360.34h1.5M591.98 360.34h1.5M596.48 360.34h1.5M608.48 360.34h1.5M618.98 360.34h1.5M540.98 361.88h3M554.48 361.88h1.5M569.48 361.88h3M588.98 361.88h1.5M593.48 361.88h1.5M606.98 361.88h1.5M618.98 361.88h1.5M536.48 363.4h1.5M548.48 363.4h1.5M567.98 363.4h1.5M572.48 363.4h1.5M584.48 363.4h1.5M605.48 363.4h1.5M611.48 363.4h1.5M617.48 363.4h4.5M531.98 364.94h1.5M534.98 364.94h1.5M548.48 364.94h1.5M554.48 364.94h1.5M558.98 364.94h1.5M567.98 364.94h1.5M572.48 364.94h1.5M578.48 364.94h1.5M590.48 364.94h1.5M597.98 364.94h1.5M603.98 364.94h6M617.48 364.94h1.5M531.98 366.46h1.5M551.48 366.46h1.5M563.48 366.46h1.5M569.48 366.46h1.5M573.98 366.46h1.5M576.98 366.46h1.5M588.98 366.46h1.5M609.98 366.46h3M617.48 366.46h1.5M536.48 368h1.5M542.48 368h1.5M554.48 368h1.5M569.48 368h1.5M575.48 368h1.5M578.48 368h1.5M584.48 368h1.5M587.48 368h1.5M606.98 368h1.5M611.48 368h1.5M551.48 369.52h3M576.98 369.52h4.5M584.48 369.52h1.5M587.48 369.52h3M603.98 369.52h1.5M608.48 369.52h1.5M611.48 369.52h1.5M534.98 371.05h3M542.48 371.05h1.5M554.48 371.05h1.5M573.98 371.05h3M587.48 371.05h1.5M600.98 371.05h3M534.98 372.58h3M576.98 372.58h1.5M584.48 372.58h1.5M597.98 372.58h1.5M608.48 372.58h1.5M611.48 372.58h1.5M620.48 372.58h1.5M585.98 374.12h1.5M591.98 374.12h1.5M594.98 374.12h4.5M602.48 374.12h1.5M611.48 374.12h1.5M618.98 374.12h3M534.98 375.64h1.5M540.98 375.64h3M549.98 375.64h1.5M554.48 375.64h1.5M567.98 375.64h1.5M572.48 375.64h1.5M576.98 375.64h1.5M584.48 375.64h1.5M588.98 375.64h1.5M594.98 375.64h1.5M600.98 375.64h1.5M605.48 375.64h1.5M608.48 375.64h1.5M611.48 375.64h1.5M617.48 375.64h1.5M542.48 377.17h1.5M563.48 377.17h1.5M575.48 377.17h1.5M594.98 377.17h3M605.48 377.17h1.5M617.48 377.17h4.5M536.48 378.7h1.5M542.48 378.7h1.5M551.48 378.7h1.5M557.48 378.7h3M573.98 378.7h1.5M576.98 378.7h3M540.98 380.24h1.5M548.48 380.24h3M552.98 380.24h3M563.48 380.24h3M579.98 380.24h1.5M606.98 380.24h1.5M548.48 381.76h1.5M551.48 381.76h1.5M557.48 381.76h3M563.48 381.76h1.5M570.98 381.76h1.5M575.48 381.76h1.5M582.98 381.76h1.5M593.48 381.76h1.5M606.98 381.76h3M617.48 381.76h4.5M548.48 383.29h1.5M554.48 383.29h1.5M557.48 383.29h3M564.98 383.29h1.5M567.98 383.29h1.5M579.98 383.29h1.5M585.98 383.29h1.5M588.98 383.29h1.5M603.98 383.29h1.5M608.48 383.29h1.5M611.48 383.29h1.5M618.98 383.29h1.5M548.48 384.82h3M558.98 384.82h1.5M564.98 384.82h1.5M569.48 384.82h1.5M573.98 384.82h3M599.48 384.82h3M603.98 384.82h4.5M611.48 384.82h1.5M618.98 384.82h3M549.98 386.35h4.5M555.98 386.35h1.5M558.98 386.35h1.5M567.98 386.35h1.5M573.98 386.35h4.5M579.98 386.35h1.5M587.48 386.35h1.5M596.48 386.35h1.5M599.48 386.35h1.5M602.48 386.35h1.5M605.48 386.35h3M617.48 386.35h1.5M554.48 387.88h1.5M567.98 387.88h1.5M572.48 387.88h1.5M576.98 387.88h1.5M579.98 387.88h1.5M585.98 387.88h1.5M590.48 387.88h1.5M600.98 387.88h3M606.98 387.88h1.5M611.48 387.88h1.5M546.98 389.41h1.5M552.98 389.41h1.5M564.98 389.41h1.5M576.98 389.41h1.5M599.48 389.41h1.5M606.98 389.41h3M617.48 389.41h4.5M548.48 390.94h1.5M554.48 390.94h1.5M558.98 390.94h1.5M563.48 390.94h3M567.98 390.94h6M575.48 390.94h1.5M585.98 390.94h1.5M590.48 390.94h1.5M593.48 390.94h1.5M602.48 390.94h1.5M606.98 390.94h1.5M617.48 390.94h1.5M534.98 392.47h3M549.98 392.47h1.5M563.48 392.47h1.5M576.98 392.47h1.5M533.48 394h1.5M536.48 394h3M540.98 394h1.5M546.98 394h1.5M558.98 394h1.5M561.98 394h1.5M564.98 394h1.5M569.48 394h1.5M581.48 394h1.5M594.98 394h1.5M599.48 394h1.5M602.48 394h4.5M617.48 394h1.5M531.98 395.53h1.5M534.98 395.53h1.5M539.48 395.53h1.5M548.48 395.53h1.5M551.48 395.53h1.5M566.48 395.53h1.5M569.48 395.53h1.5M588.98 395.53h1.5M596.48 395.53h3M603.98 395.53h3M609.98 395.53h1.5M618.98 395.53h1.5M531.98 397.06h1.5M537.98 397.06h1.5M546.98 397.06h1.5M551.48 397.06h1.5M572.48 397.06h4.5M581.48 397.06h1.5M584.48 397.06h3M590.48 397.06h3M594.98 397.06h3M603.98 397.06h1.5M609.98 397.06h1.5M617.48 397.06h1.5" stroke="#fee699" stroke-width="1.59" fill="none"/><path d="M548.48 315.97h3M558.98 315.97h1.5M566.48 315.97h1.5M576.98 315.97h3M603.98 315.97h3M609.98 315.97h1.5M612.98 315.97h1.5M615.98 315.97h1.5M542.48 317.5h1.5M546.98 317.5h3M563.48 317.5h1.5M566.48 317.5h1.5M569.48 317.5h1.5M576.98 317.5h1.5M584.48 317.5h1.5M611.48 317.5h1.5M615.98 317.5h4.5M536.48 319.03h1.5M549.98 319.03h1.5M569.48 319.03h1.5M603.98 319.03h4.5M612.98 319.03h3M540.98 320.56h1.5M557.48 320.56h1.5M606.98 320.56h1.5M615.98 320.56h1.5M537.98 322.09h1.5M540.98 322.09h1.5M554.48 322.09h3M560.48 322.09h1.5M566.48 322.09h3M594.98 322.09h1.5M606.98 322.09h1.5M618.98 322.09h3M531.98 323.62h1.5M534.98 323.62h3M546.98 323.62h3M563.48 323.62h1.5M569.48 323.62h1.5M575.48 323.62h3M594.98 323.62h1.5M606.98 323.62h4.5M618.98 323.62h1.5M533.48 325.15h1.5M539.48 325.15h3M558.98 325.15h3M567.98 325.15h1.5M594.98 325.15h1.5M618.98 325.15h1.5M542.48 326.69h1.5M605.48 326.69h1.5M609.98 326.69h1.5M531.98 328.21h1.5M534.98 328.21h3M542.48 328.21h1.5M551.48 328.21h3M558.98 328.21h1.5M569.48 328.21h1.5M585.98 328.21h1.5M605.48 328.21h1.5M609.98 328.21h1.5M617.48 328.21h1.5M620.48 328.21h1.5M548.48 329.75h1.5M567.98 329.75h1.5M575.48 329.75h1.5M594.98 329.75h1.5M606.98 329.75h1.5M609.98 329.75h3M617.48 329.75h1.5M620.48 329.75h1.5M534.98 331.27h1.5M537.98 331.27h1.5M549.98 331.27h1.5M537.98 332.8h3M549.98 332.8h1.5M552.98 332.8h4.5M558.98 332.8h3M563.48 332.8h3M567.98 332.8h3M534.98 334.33h3M542.48 334.33h1.5M554.48 334.33h1.5M563.48 334.33h1.5M594.98 334.33h1.5M603.98 334.33h1.5M609.98 334.33h1.5M536.48 335.87h3M540.98 335.87h1.5M552.98 335.87h1.5M567.98 335.87h1.5M576.98 335.87h1.5M584.48 335.87h1.5M594.98 335.87h1.5M602.48 335.87h3M608.48 335.87h1.5M611.48 335.87h1.5M533.48 337.39h3M548.48 337.39h1.5M552.98 337.39h1.5M563.48 337.39h1.5M567.98 337.39h1.5M605.48 337.39h1.5M540.98 338.92h1.5M549.98 338.92h3M563.48 338.92h1.5M570.98 338.92h1.5M578.48 338.92h1.5M600.98 338.92h1.5M606.98 338.92h1.5M617.48 338.92h1.5M531.98 340.45h3M540.98 340.45h1.5M558.98 340.45h1.5M594.98 340.45h1.5M605.48 340.45h3M609.98 340.45h1.5M534.98 341.98h4.5M542.48 341.98h1.5M551.48 341.98h1.5M554.48 341.98h1.5M567.98 341.98h1.5M576.98 341.98h1.5M603.98 341.98h1.5M606.98 341.98h1.5M531.98 343.51h1.5M548.48 343.51h3M552.98 343.51h1.5M569.48 343.51h1.5M575.48 343.51h1.5M603.98 343.51h1.5M609.98 343.51h1.5M617.48 343.51h1.5M531.98 345.04h1.5M536.48 345.04h4.5M548.48 345.04h1.5M552.98 345.04h3M569.48 345.04h3M578.48 345.04h1.5M594.98 345.04h1.5M603.98 345.04h1.5M618.98 345.04h1.5M537.98 346.57h1.5M542.48 346.57h1.5M549.98 346.57h3M555.98 346.57h1.5M573.98 346.57h1.5M585.98 346.57h1.5M591.98 346.57h1.5M602.48 346.57h1.5M606.98 346.57h1.5M536.48 348.1h1.5M542.48 348.1h1.5M554.48 348.1h1.5M564.98 348.1h1.5M567.98 348.1h1.5M575.48 348.1h1.5M578.48 348.1h1.5M584.48 348.1h1.5M588.98 348.1h1.5M594.98 348.1h1.5M617.48 348.1h4.5M539.48 349.63h3M548.48 349.63h3M554.48 349.63h3M563.48 349.63h1.5M570.98 349.63h1.5M581.48 349.63h1.5M602.48 349.63h1.5M605.48 349.63h3M618.98 349.63h1.5M536.48 351.16h3M546.98 351.16h1.5M551.48 351.16h1.5M554.48 351.16h1.5M569.48 351.16h1.5M606.98 351.16h1.5M618.98 351.16h1.5M531.98 352.69h1.5M536.48 352.69h1.5M549.98 352.69h1.5M552.98 352.69h1.5M564.98 352.69h1.5M588.98 352.69h1.5M603.98 352.69h3M608.48 352.69h1.5M531.98 354.22h1.5M540.98 354.22h1.5M548.48 354.22h3M557.48 354.22h1.5M567.98 354.22h3M605.48 354.22h3M531.98 355.75h1.5M537.98 355.75h1.5M542.48 355.75h1.5M569.48 355.75h3M575.48 355.75h1.5M578.48 355.75h1.5M594.98 355.75h1.5M603.98 355.75h1.5M617.48 355.75h1.5M531.98 357.28h1.5M539.48 357.28h1.5M546.98 357.28h1.5M549.98 357.28h1.5M558.98 357.28h3M564.98 357.28h1.5M576.98 357.28h1.5M603.98 357.28h1.5M609.98 357.28h1.5M618.98 357.28h1.5M539.48 358.81h1.5M560.48 358.81h3M567.98 358.81h1.5M603.98 358.81h1.5M609.98 358.81h1.5M534.98 360.34h3M540.98 360.34h1.5M551.48 360.34h1.5M567.98 360.34h1.5M570.98 360.34h1.5M576.98 360.34h1.5M581.48 360.34h1.5M584.48 360.34h1.5M588.98 360.34h1.5M600.98 360.34h3M609.98 360.34h1.5M617.48 360.34h1.5M551.48 361.88h1.5M560.48 361.88h1.5M567.98 361.88h1.5M573.98 361.88h3M578.48 361.88h1.5M585.98 361.88h3M591.98 361.88h1.5M594.98 361.88h3M600.98 361.88h1.5M605.48 361.88h1.5M611.48 361.88h1.5M620.48 361.88h1.5M531.98 363.4h1.5M537.98 363.4h6M549.98 363.4h3M569.48 363.4h1.5M573.98 363.4h1.5M594.98 363.4h1.5M606.98 363.4h1.5M609.98 363.4h1.5M540.98 364.94h1.5M549.98 364.94h1.5M552.98 364.94h1.5M563.48 364.94h1.5M573.98 364.94h1.5M576.98 364.94h1.5M591.98 364.94h1.5M602.48 364.94h1.5M611.48 364.94h1.5M620.48 364.94h1.5M549.98 366.46h1.5M552.98 366.46h1.5M557.48 366.46h3M567.98 366.46h1.5M594.98 366.46h1.5M603.98 366.46h1.5M620.48 366.46h1.5M531.98 368h1.5M540.98 368h1.5M548.48 368h1.5M551.48 368h3M591.98 368h1.5M594.98 368h1.5M602.48 368h1.5M605.48 368h1.5M609.98 368h1.5M531.98 369.52h1.5M534.98 369.52h3M540.98 369.52h1.5M554.48 369.52h1.5M567.98 369.52h3M602.48 369.52h1.5M606.98 369.52h1.5M531.98 371.05h1.5M563.48 371.05h1.5M569.48 371.05h1.5M594.98 371.05h1.5M605.48 371.05h3M537.98 372.58h3M551.48 372.58h3M558.98 372.58h1.5M563.48 372.58h3M569.48 372.58h3M603.98 372.58h1.5M617.48 372.58h1.5M534.98 374.12h1.5M537.98 374.12h1.5M554.48 374.12h1.5M563.48 374.12h1.5M567.98 374.12h1.5M575.48 374.12h4.5M581.48 374.12h1.5M603.98 374.12h6M617.48 374.12h1.5M548.48 375.64h1.5M560.48 375.64h1.5M564.98 375.64h1.5M569.48 375.64h3M606.98 375.64h1.5M618.98 375.64h1.5M534.98 377.17h1.5M537.98 377.17h1.5M540.98 377.17h1.5M554.48 377.17h1.5M557.48 377.17h4.5M564.98 377.17h1.5M567.98 377.17h1.5M584.48 377.17h1.5M606.98 377.17h1.5M533.48 378.7h1.5M537.98 378.7h1.5M540.98 378.7h1.5M555.98 378.7h1.5M563.48 378.7h1.5M594.98 378.7h1.5M605.48 378.7h1.5M534.98 380.24h4.5M546.98 380.24h1.5M551.48 380.24h1.5M558.98 380.24h3M570.98 380.24h1.5M575.48 380.24h1.5M581.48 380.24h3M588.98 380.24h4.5M596.48 380.24h1.5M605.48 380.24h1.5M618.98 380.24h3M552.98 381.76h1.5M555.98 381.76h1.5M560.48 381.76h1.5M566.48 381.76h1.5M579.98 381.76h3M585.98 381.76h1.5M590.48 381.76h1.5M609.98 381.76h1.5M552.98 383.29h1.5M555.98 383.29h1.5M569.48 383.29h1.5M581.48 383.29h1.5M593.48 383.29h1.5M596.48 383.29h1.5M599.48 383.29h3M606.98 383.29h1.5M620.48 383.29h1.5M546.98 384.82h1.5M552.98 384.82h3M560.48 384.82h1.5M563.48 384.82h1.5M566.48 384.82h3M570.98 384.82h1.5M585.98 384.82h3M591.98 384.82h1.5M597.98 384.82h1.5M602.48 384.82h1.5M609.98 384.82h1.5M564.98 386.35h1.5M581.48 386.35h1.5M585.98 386.35h1.5M594.98 386.35h1.5M609.98 386.35h1.5M548.48 387.88h1.5M551.48 387.88h3M557.48 387.88h3M582.98 387.88h1.5M596.48 387.88h1.5M599.48 387.88h1.5M603.98 387.88h1.5M548.48 389.41h1.5M557.48 389.41h3M596.48 389.41h1.5M605.48 389.41h1.5M609.98 389.41h3M546.98 390.94h1.5M551.48 390.94h3M579.98 390.94h1.5M582.98 390.94h1.5M605.48 390.94h1.5M608.48 390.94h3M537.98 392.47h1.5M542.48 392.47h1.5M546.98 392.47h3M551.48 392.47h1.5M554.48 392.47h1.5M567.98 392.47h1.5M570.98 392.47h1.5M575.48 392.47h1.5M585.98 392.47h1.5M603.98 392.47h3M608.48 392.47h3M552.98 394h1.5M566.48 394h1.5M576.98 394h3M587.48 394h1.5M609.98 394h1.5M549.98 395.53h1.5M552.98 395.53h1.5M558.98 395.53h1.5M561.98 395.53h1.5M564.98 395.53h1.5M567.98 395.53h1.5M573.98 395.53h1.5M576.98 395.53h1.5M585.98 395.53h1.5M594.98 395.53h1.5M602.48 395.53h1.5M533.48 397.06h1.5M555.98 397.06h3M561.98 397.06h1.5M564.98 397.06h3M578.48 397.06h1.5M587.48 397.06h1.5M618.98 397.06h1.5" stroke="#fdc27c" stroke-width="1.59" fill="none"/><path d="M531.98 315.97h1.5M537.98 315.97h1.5M540.98 315.97h1.5M618.98 315.97h1.5M533.48 317.5h1.5M537.98 317.5h1.5M555.98 317.5h1.5M564.98 317.5h1.5M603.98 317.5h1.5M608.48 317.5h3M612.98 317.5h1.5M533.48 319.03h1.5M540.98 319.03h3M546.98 319.03h1.5M552.98 319.03h1.5M555.98 319.03h3M560.48 319.03h1.5M533.48 320.56h1.5M555.98 320.56h1.5M561.98 320.56h1.5M566.48 320.56h1.5M548.48 322.09h1.5M557.48 322.09h1.5M564.98 322.09h1.5M605.48 322.09h1.5M537.98 323.62h1.5M551.48 323.62h4.5M558.98 323.62h1.5M566.48 323.62h1.5M531.98 325.15h1.5M554.48 325.15h1.5M557.48 325.15h1.5M561.98 325.15h1.5M564.98 325.15h3M536.48 326.69h6M546.98 326.69h1.5M552.98 326.69h1.5M555.98 326.69h6M564.98 326.69h1.5M569.48 326.69h1.5M537.98 328.21h1.5M540.98 328.21h1.5M555.98 328.21h3M561.98 328.21h1.5M564.98 328.21h1.5M567.98 328.21h1.5M578.48 328.21h1.5M603.98 328.21h1.5M531.98 329.75h1.5M534.98 329.75h6M542.48 329.75h1.5M549.98 329.75h4.5M618.98 329.75h1.5M546.98 331.27h3M557.48 331.27h1.5M560.48 331.27h1.5M564.98 331.27h3M584.48 331.27h1.5M531.98 332.8h3M551.48 332.8h1.5M575.48 332.8h3M609.98 332.8h1.5M531.98 334.33h3M540.98 334.33h1.5M551.48 334.33h1.5M560.48 334.33h3M564.98 334.33h1.5M567.98 334.33h1.5M606.98 334.33h1.5M618.98 334.33h1.5M531.98 335.87h1.5M539.48 335.87h1.5M560.48 335.87h1.5M569.48 335.87h1.5M609.98 335.87h1.5M618.98 335.87h1.5M531.98 337.39h1.5M546.98 337.39h1.5M566.48 337.39h1.5M576.98 337.39h1.5M533.48 338.92h4.5M554.48 338.92h1.5M567.98 338.92h3M605.48 338.92h1.5M609.98 338.92h1.5M536.48 340.45h1.5M539.48 340.45h1.5M542.48 340.45h1.5M546.98 340.45h1.5M549.98 340.45h1.5M557.48 340.45h1.5M561.98 340.45h3M566.48 340.45h3M576.98 340.45h1.5M539.48 341.98h3M548.48 341.98h3M560.48 341.98h1.5M563.48 341.98h1.5M569.48 341.98h1.5M575.48 341.98h1.5M588.98 341.98h1.5M597.98 341.98h1.5M600.98 341.98h1.5M605.48 341.98h1.5M609.98 341.98h1.5M618.98 341.98h1.5M537.98 343.51h3M551.48 343.51h1.5M560.48 343.51h1.5M563.48 343.51h4.5M533.48 345.04h1.5M540.98 345.04h1.5M546.98 345.04h1.5M551.48 345.04h1.5M557.48 345.04h1.5M567.98 345.04h1.5M576.98 345.04h1.5M534.98 346.57h1.5M546.98 346.57h3M554.48 346.57h1.5M563.48 346.57h3M575.48 346.57h1.5M578.48 346.57h1.5M594.98 346.57h1.5M603.98 346.57h3M531.98 348.1h4.5M539.48 348.1h3M546.98 348.1h3M551.48 348.1h3M558.98 348.1h1.5M569.48 348.1h1.5M603.98 348.1h3M536.48 349.63h1.5M546.98 349.63h1.5M558.98 349.63h1.5M564.98 349.63h6M531.98 351.16h1.5M539.48 351.16h1.5M552.98 351.16h1.5M564.98 351.16h1.5M603.98 351.16h1.5M539.48 352.69h1.5M546.98 352.69h1.5M555.98 352.69h3M560.48 352.69h1.5M609.98 352.69h1.5M533.48 354.22h1.5M546.98 354.22h1.5M558.98 354.22h3M540.98 355.75h1.5M546.98 355.75h4.5M552.98 355.75h4.5M560.48 355.75h1.5M564.98 355.75h1.5M600.98 355.75h1.5M605.48 355.75h1.5M609.98 355.75h1.5M548.48 357.28h1.5M552.98 357.28h1.5M555.98 357.28h1.5M566.48 357.28h1.5M533.48 358.81h1.5M546.98 358.81h1.5M555.98 358.81h1.5M558.98 358.81h1.5M564.98 358.81h3M531.98 360.34h1.5M537.98 360.34h1.5M546.98 360.34h4.5M552.98 360.34h4.5M564.98 360.34h1.5M594.98 360.34h1.5M605.48 360.34h3M531.98 361.88h3M536.48 361.88h3M546.98 361.88h1.5M549.98 361.88h1.5M552.98 361.88h1.5M555.98 361.88h1.5M576.98 361.88h1.5M603.98 361.88h1.5M609.98 361.88h1.5M617.48 361.88h1.5M546.98 363.4h1.5M552.98 363.4h1.5M563.48 363.4h4.5M603.98 363.4h1.5M536.48 364.94h4.5M551.48 364.94h1.5M561.98 364.94h1.5M569.48 364.94h1.5M618.98 364.94h1.5M533.48 366.46h1.5M537.98 366.46h4.5M546.98 366.46h3M554.48 366.46h1.5M560.48 366.46h3M564.98 366.46h1.5M533.48 368h1.5M537.98 368h1.5M546.98 368h1.5M557.48 368h1.5M564.98 368h1.5M567.98 368h1.5M617.48 368h1.5M537.98 369.52h1.5M548.48 369.52h3M557.48 369.52h1.5M561.98 369.52h1.5M594.98 369.52h1.5M605.48 369.52h1.5M617.48 369.52h1.5M540.98 371.05h1.5M548.48 371.05h3M552.98 371.05h1.5M558.98 371.05h1.5M567.98 371.05h1.5M603.98 371.05h1.5M609.98 371.05h1.5M617.48 371.05h4.5M531.98 372.58h1.5M542.48 372.58h1.5M548.48 372.58h1.5M557.48 372.58h1.5M566.48 372.58h1.5M531.98 374.12h3M536.48 374.12h1.5M542.48 374.12h1.5M548.48 374.12h1.5M551.48 374.12h3M569.48 374.12h1.5M573.98 374.12h1.5M584.48 374.12h1.5M609.98 374.12h1.5M536.48 375.64h4.5M551.48 375.64h1.5M575.48 375.64h1.5M609.98 375.64h1.5M531.98 377.17h3M536.48 377.17h1.5M539.48 377.17h1.5M546.98 377.17h3M551.48 377.17h1.5M555.98 377.17h1.5M569.48 377.17h1.5M603.98 377.17h1.5M609.98 377.17h1.5M531.98 378.7h1.5M534.98 378.7h1.5M546.98 378.7h1.5M560.48 378.7h3M566.48 378.7h1.5M609.98 378.7h1.5M618.98 378.7h1.5M539.48 380.24h1.5M566.48 380.24h1.5M578.48 380.24h1.5M584.48 380.24h1.5M594.98 380.24h1.5M597.98 380.24h1.5M609.98 380.24h1.5M564.98 381.76h1.5M576.98 381.76h1.5M584.48 381.76h1.5M587.48 381.76h3M596.48 381.76h3M605.48 381.76h1.5M551.48 383.29h1.5M560.48 383.29h3M566.48 383.29h1.5M590.48 383.29h1.5M605.48 383.29h1.5M609.98 383.29h1.5M551.48 384.82h1.5M555.98 384.82h3M579.98 384.82h1.5M582.98 384.82h1.5M588.98 384.82h3M596.48 384.82h1.5M560.48 386.35h1.5M578.48 386.35h1.5M582.98 386.35h1.5M588.98 386.35h1.5M591.98 386.35h1.5M618.98 386.35h1.5M555.98 387.88h1.5M560.48 387.88h1.5M566.48 387.88h1.5M587.48 387.88h3M591.98 387.88h3M609.98 387.88h1.5M617.48 387.88h3M549.98 389.41h3M555.98 389.41h1.5M561.98 389.41h1.5M566.48 389.41h1.5M569.48 389.41h1.5M575.48 389.41h1.5M579.98 389.41h1.5M582.98 389.41h1.5M587.48 389.41h3M591.98 389.41h3M597.98 389.41h1.5M560.48 390.94h1.5M566.48 390.94h1.5M581.48 390.94h1.5M587.48 390.94h1.5M596.48 390.94h3M552.98 392.47h1.5M557.48 392.47h1.5M560.48 392.47h1.5M564.98 392.47h3M569.48 392.47h1.5M573.98 392.47h1.5M590.48 392.47h1.5M593.48 392.47h1.5M597.98 392.47h3M618.98 392.47h1.5M557.48 394h1.5M560.48 394h1.5M555.98 395.53h3M560.48 395.53h1.5M575.48 395.53h1.5M584.48 395.53h1.5M587.48 395.53h1.5M560.48 397.06h1.5M570.98 397.06h1.5" stroke="#fc955e" stroke-width="1.59" fill="none"/><path d="M539.48 315.97h1.5M555.98 315.97h3M531.98 317.5h1.5M536.48 317.5h1.5M539.48 317.5h3M557.48 317.5h6M539.48 319.03h1.5M558.98 319.03h1.5M566.48 319.03h1.5M615.98 319.03h1.5M558.98 320.56h1.5M539.48 322.09h1.5M558.98 322.09h1.5M561.98 322.09h1.5M533.48 323.62h1.5M539.48 323.62h1.5M555.98 323.62h3M555.98 325.15h1.5M533.48 328.21h1.5M539.48 328.21h1.5M546.98 328.21h1.5M560.48 328.21h1.5M546.98 329.75h1.5M569.48 329.75h1.5M605.48 329.75h1.5M561.98 331.27h1.5M567.98 331.27h1.5M557.48 332.8h1.5M566.48 332.8h1.5M539.48 334.33h1.5M546.98 334.33h3M557.48 334.33h3M566.48 334.33h1.5M533.48 335.87h1.5M548.48 335.87h4.5M558.98 335.87h1.5M539.48 337.39h3M555.98 337.39h6M609.98 337.39h1.5M537.98 338.92h3M546.98 338.92h1.5M552.98 338.92h1.5M564.98 338.92h1.5M603.98 338.92h1.5M537.98 340.45h1.5M548.48 340.45h1.5M546.98 341.98h1.5M558.98 341.98h1.5M566.48 341.98h1.5M533.48 343.51h1.5M546.98 343.51h1.5M555.98 343.51h1.5M558.98 343.51h1.5M558.98 345.04h1.5M564.98 345.04h3M531.98 346.57h1.5M557.48 346.57h3M549.98 348.1h1.5M555.98 348.1h1.5M560.48 348.1h3M566.48 348.1h1.5M552.98 349.63h1.5M560.48 349.63h1.5M609.98 349.63h1.5M533.48 351.16h1.5M558.98 351.16h4.5M566.48 351.16h1.5M558.98 352.69h1.5M566.48 352.69h1.5M539.48 354.22h1.5M555.98 354.22h1.5M561.98 354.22h1.5M533.48 355.75h1.5M561.98 355.75h3M567.98 355.75h1.5M618.98 355.75h1.5M557.48 357.28h1.5M533.48 360.34h1.5M539.48 360.34h1.5M558.98 360.34h1.5M569.48 360.34h1.5M611.48 360.34h1.5M548.48 361.88h1.5M564.98 361.88h3M533.48 363.4h1.5M555.98 363.4h1.5M558.98 363.4h3M533.48 364.94h1.5M546.98 364.94h1.5M564.98 364.94h1.5M609.98 364.94h1.5M555.98 366.46h1.5M566.48 366.46h1.5M539.48 368h1.5M555.98 368h1.5M558.98 368h1.5M561.98 368h1.5M555.98 369.52h1.5M564.98 369.52h3M609.98 369.52h1.5M533.48 371.05h1.5M546.98 371.05h1.5M560.48 371.05h1.5M564.98 371.05h3M546.98 372.58h1.5M549.98 372.58h1.5M560.48 372.58h3M618.98 372.58h1.5M539.48 374.12h3M546.98 374.12h1.5M558.98 374.12h1.5M564.98 374.12h3M531.98 375.64h3M546.98 375.64h1.5M552.98 375.64h1.5M557.48 375.64h3M566.48 375.64h1.5M603.98 375.64h1.5M549.98 377.17h1.5M552.98 377.17h1.5M566.48 377.17h1.5M539.48 378.7h1.5M564.98 378.7h1.5M531.98 380.24h3M555.98 380.24h3M585.98 380.24h1.5M593.48 380.24h1.5M594.98 381.76h1.5M578.48 383.29h1.5M594.98 383.29h1.5M581.48 384.82h1.5M593.48 384.82h1.5M561.98 386.35h1.5M584.48 386.35h1.5M597.98 386.35h1.5M561.98 387.88h1.5M578.48 387.88h1.5M581.48 387.88h1.5M584.48 387.88h1.5M594.98 387.88h1.5M597.98 387.88h1.5M560.48 389.41h1.5M584.48 389.41h3M590.48 389.41h1.5M594.98 389.41h1.5M561.98 390.94h1.5M578.48 390.94h1.5M588.98 390.94h1.5M591.98 390.94h1.5M594.98 390.94h1.5M531.98 392.47h3M539.48 392.47h1.5M555.98 392.47h1.5M579.98 392.47h6M587.48 392.47h3M596.48 392.47h1.5M555.98 394h1.5M558.98 397.06h1.5" stroke="#eb6342" stroke-width="1.59" fill="none"/><path d="M533.48 315.97h1.5M561.98 315.97h1.5M614.48 315.97h1.5M614.48 317.5h1.5M561.98 319.03h1.5M560.48 323.62h3M561.98 326.69h1.5M566.48 326.69h1.5M566.48 328.21h1.5M533.48 329.75h1.5M540.98 329.75h1.5M555.98 329.75h7.5M566.48 329.75h1.5M555.98 331.27h1.5M561.98 332.8h1.5M555.98 335.87h3M561.98 335.87h1.5M564.98 335.87h3M561.98 337.39h1.5M555.98 338.92h7.5M566.48 338.92h1.5M555.98 340.45h1.5M560.48 340.45h1.5M533.48 341.98h1.5M555.98 341.98h3M561.98 341.98h1.5M564.98 341.98h1.5M557.48 343.51h1.5M561.98 343.51h1.5M555.98 345.04h1.5M560.48 345.04h3M533.48 346.57h1.5M539.48 346.57h3M560.48 346.57h3M566.48 346.57h1.5M609.98 346.57h1.5M557.48 348.1h1.5M531.98 349.63h1.5M557.48 349.63h1.5M561.98 349.63h1.5M555.98 351.16h3M533.48 352.69h1.5M561.98 352.69h1.5M539.48 355.75h1.5M557.48 355.75h3M566.48 355.75h1.5M561.98 357.28h1.5M557.48 358.81h1.5M557.48 360.34h1.5M560.48 360.34h3M566.48 360.34h1.5M539.48 361.88h1.5M557.48 361.88h3M561.98 361.88h1.5M557.48 363.4h1.5M561.98 363.4h1.5M555.98 364.94h3M560.48 364.94h1.5M566.48 364.94h1.5M560.48 368h1.5M566.48 368h1.5M533.48 369.52h1.5M539.48 369.52h1.5M546.98 369.52h1.5M558.98 369.52h3M537.98 371.05h3M555.98 371.05h3M561.98 371.05h1.5M533.48 372.58h1.5M540.98 372.58h1.5M555.98 372.58h1.5M549.98 374.12h1.5M555.98 374.12h3M560.48 374.12h3M555.98 375.64h1.5M561.98 375.64h1.5M561.98 377.17h1.5M561.98 380.24h1.5M561.98 381.76h1.5M578.48 381.76h1.5M591.98 381.76h1.5M561.98 384.82h1.5M578.48 384.82h1.5M584.48 384.82h1.5M594.98 384.82h1.5M557.48 386.35h1.5M566.48 386.35h1.5M578.48 389.41h1.5M555.98 390.94h3M584.48 390.94h1.5M558.98 392.47h1.5M561.98 392.47h1.5M578.48 392.47h1.5M591.98 392.47h1.5M594.98 392.47h1.5" stroke="#d73027" stroke-width="1.59" fill="none"/><rect x="531.98" y="309.4" width="90.28" height="2.75" fill="#6cc7d6"/><rect x="551.6" y="309.4" width="2.26" height="2.75" fill="#c58be0"/><rect x="560.09" y="309.4" width="2.64" height="2.75" fill="#c58be0"/><rect x="571.42" y="309.4" width="5.66" height="2.75" fill="#c58be0"/><rect x="580.28" y="309.4" width="1.51" height="2.75" fill="#c58be0"/><rect x="596.89" y="309.4" width="2.26" height="2.75" fill="#c58be0"/><rect x="605.38" y="309.4" width="1.89" height="2.75" fill="#c58be0"/><rect x="531.98" y="312.1" width="90.28" height="2.9" fill="#f08c80"/><rect x="563.87" y="312.1" width="51.89" height="2.9" fill="#8cc449"/><path d="M549.2 302.2V298.9H594.4V302.2M543.4 305.8V302.2H560.6V304.7M536.4 308.2V305.8H547.8V307.9M534.4 309.2V308.2H538.8V309.2M533.3 309.2V309.2H535.7V309.2M532.4 309.2V309.2H533.7V309.2M535.3 309.2V309.2H536.4V309.2M537.9 309.2V309.2H539.9V309.2M537.2 309.2V309.2H538.2V309.2M539.6 309.2V309.2H540.6V309.2M543.4 309.2V307.9H550.3V309.2M542 309.2V309.2H544.5V309.2M541.5 309.2V309.2H542.6V309.2M543.7 309.2V309.2H545.1V309.2M548.7 309.2V309.2H553.2V309.2M546.8 309.2V309.2H549.6V309.2M552.2 309.2V309.2H553.8V309.2M558.5 308.1V304.7H564.4V306.4M556.3 309.2V308.1H560.1V309.2M555.3 309.2V309.2H556.8V309.2M556.2 309.2V309.2H557.2V309.2M558.6 309.2V309.2H560.8V309.2M560.3 309.2V309.2H561.8V309.2M563.1 307.9V306.4H565.1V308.7M564.5 309.2V308.7H565.9V309.2M575.6 304.5V302.2H603.5V304.8M571.1 307.7V304.5H580.3V306.8M568.1 309.2V307.7H572.7V309.2M567 309.2V309.2H568.6V309.2M567.9 309.2V309.2H569V309.2M571.4 309.2V309.2H574.4V309.2M570.6 309.2V309.2H572.3V309.2M573.7 309.2V309.2H575.1V309.2M577.3 308.6V306.8H581.8V308.1M576.3 309.2V308.6H577.9V309.2M577.3 309.2V309.2H578.3V309.2M580.6 309.2V308.1H583.5V309.2M579.6 309.2V309.2H581.3V309.2M583.1 309.2V309.2H584.3V309.2M595.9 306V304.8H614.6V307.1M589.6 307.9V306H600.7V309.2M587.6 309.2V307.9H592.4V309.2M586.2 309.2V309.2H589V309.2M591.5 309.2V309.2H593.5V309.2M597.4 309.2V309.2H603.7V309.2M596.1 309.2V309.2H599.1V309.2M601.4 309.2V309.2H604.7V309.2M609.8 309.2V307.1H617.4V309.2M608 309.2V309.2H610.8V309.2M607.4 309.2V309.2H608.4V309.2M610.2 309.2V309.2H612V309.2M614.7 309.2V309.2H619.5V309.2M614 309.2V309.2H616.1V309.2M618.4 309.2V309.2H621.2V309.2M523 333H521V374.3H522.5M524.7 322.9H523V340.7H525.2M527 319.1H524.7V326.8H526.8M528 317.7H527V321.6H530M530.8 316H528V318.5H530.4M531.4 317.8H530.4V319.5H531.4M531.4 320.8H530V322.2H531.4M528.6 324.3H526.8V328.1H529.1M530 323.4H528.6V324.8H530.5M530.7 326.5H529.1V329H530.1M531.4 327.9H530.1V329.6H531.1M526.6 335.8H525.2V345.9H527.6M529 332.6H526.6V337.8H529.3M530.5 331.6H529V333.6H530.1M531.4 331.2H530.5V332.2H531.4M531.1 332.9H530.1V334H531.4M531.1 336.5H529.3V339.6H531.4M531.4 335.5H531.1V337.4H531.4M531.4 338.8H531.4V340.1H531.4M529.9 342.4H527.6V347.4H529.9M531.4 341.6H529.9V343.1H531.4M531.4 345H529.9V348.4H531.2M531.4 344.4H531.4V345.4H531.4M531.4 347.6H531.2V350H531.4M524.7 366.8H522.5V390.2H525.4M526.5 360.9H524.7V376.9H527.1M529 357.6H526.5V367.6H527.7M531.3 353.2H529V359.9H530.7M531.4 352.1H531.3V354.5H531.4M531.4 357H530.7V361.4H531.4M530.6 366.3H527.7V369.6H529.8M531.4 365.4H530.6V367.4H531.4M531.4 368.8H529.8V370.2H531.4M528.6 374.7H527.1V380.5H529.4M530.3 372.2H528.6V375.9H529.7M531.4 371.8H530.3V373H531.4M531.4 375.1H529.7V377.6H531M531.4 379.4H529.4V381.6H530.7M531.4 379H531.4V380.1H531.4M531.4 381H530.7V382.2H531.4M528.4 386.2H525.4V393.7H527.3M531.2 384.5H528.4V388H530.4M531.4 383.5H531.2V385.2H531.4M531.4 384.8H531.4V385.8H531.4M531.4 387.3H530.4V389H531.4M531.4 386.9H531.4V387.9H531.4M528.6 391.7H527.3V395.8H528.5M530.9 390.8H528.6V392.8H531.4M531.4 390.1H530.9V391.1H531.4M531.4 392.4H531.4V393.4H531.4M531.4 394.5H528.5V396.4H530.6M531.4 395.8H530.6V397.1H531.4" fill="none" stroke="#555" stroke-width="0.32"/><defs><linearGradient id="cbar" x1="0" y1="0" x2="0" y2="1"><stop offset="0" stop-color="#d73027"/><stop offset=".33" stop-color="#fee090"/><stop offset=".5" stop-color="#ffffbf"/><stop offset=".75" stop-color="#91bfdb"/><stop offset="1" stop-color="#4575b4"/></linearGradient></defs><rect x="623.5" y="321" width="2.2" height="26.7" fill="url(#cbar)"/><text x="626.3" y="323.2" font-size="1.8" fill="#222">4</text><text x="626.3" y="329.2" font-size="1.8" fill="#222">2</text><text x="626.3" y="335.2" font-size="1.8" fill="#222">0</text><text x="626.3" y="341.2" font-size="1.8" fill="#222">-2</text><text x="626.3" y="347.2" font-size="1.8" fill="#222">-4</text><text x="622.8" y="311.5" font-size="1.9" font-weight="bold" fill="#111">segment</text><text x="622.8" y="314.3" font-size="1.9" font-weight="bold" fill="#111">Treatment</text><text x="628.6" y="317.25" font-size="1.9" font-weight="bold" fill="#111">segment</text><rect x="628.6" y="318.05" width="2.4" height="2.5" fill="#6cc7d6"/><text x="631.6" y="319.95" font-size="1.9" fill="#222">CD45</text><rect x="628.6" y="321.15" width="2.4" height="2.5" fill="#c58be0"/><text x="631.6" y="323.05" font-size="1.9" fill="#222">PanCK</text><text x="628.6" y="327.05" font-size="1.9" font-weight="bold" fill="#111">Treatment</text><rect x="628.6" y="327.85" width="2.4" height="2.5" fill="#8cc449"/><text x="631.6" y="329.75" font-size="1.9" fill="#222">Anti-PD-1</text><rect x="628.6" y="330.95" width="2.4" height="2.5" fill="#f08c80"/><text x="631.6" y="332.85" font-size="1.9" fill="#222">PBS</text><rect x="539.57" y="416.77" width="70.19" height="80.67" fill="#fff" stroke="#8a8a8a" stroke-width="0.4"/><path d="M545.42 416.77V497.44M551.27 416.77V497.44M557.12 416.77V497.44M562.97 416.77V497.44M568.82 416.77V497.44M574.67 416.77V497.44M580.52 416.77V497.44M586.36 416.77V497.44M592.21 416.77V497.44M598.06 416.77V497.44M603.91 416.77V497.44M539.57 422.97H609.76M539.57 429.18H609.76M539.57 435.38H609.76M539.57 441.59H609.76M539.57 447.8H609.76M539.57 454H609.76M539.57 460.21H609.76M539.57 466.41H609.76M539.57 472.62H609.76M539.57 478.82H609.76M539.57 485.03H609.76M539.57 491.23H609.76" stroke="#e6e6e6" stroke-width="0.3" fill="none"/><text x="571.88" y="413.65" font-size="2.9" font-weight="bold" text-anchor="middle" fill="#111">T-SNE plot (Treatment, Segment)</text><text x="574.11" y="503.9" font-size="2.4" font-weight="bold" text-anchor="middle" fill="#111">tSNE1</text><text transform="translate(530.88 456.88) rotate(-90)" font-size="2.4" font-weight="bold" text-anchor="middle" fill="#111">tSNE2</text><text x="546.7" y="500.33" font-size="2.1" text-anchor="middle" fill="#333">-10</text><text x="559.07" y="500.33" font-size="2.1" text-anchor="middle" fill="#333">-5</text><text x="571.43" y="500.33" font-size="2.1" text-anchor="middle" fill="#333">0</text><text x="583.8" y="500.33" font-size="2.1" text-anchor="middle" fill="#333">5</text><text x="596.17" y="500.33" font-size="2.1" text-anchor="middle" fill="#333">10</text><text x="608.54" y="500.33" font-size="2.1" text-anchor="middle" fill="#333">15</text><text x="538.01" y="435.3" font-size="2.1" text-anchor="end" fill="#333">10</text><text x="538.01" y="460.25" font-size="2.1" text-anchor="end" fill="#333">0</text><text x="538.01" y="485.44" font-size="2.1" text-anchor="end" fill="#333">-10</text><path d="M576.3 420.8h0m2.9 1.5h0m3.8 1.2h0m-10 2.2h0m2.7 1.5h0m4-.8h0m-5.6 3.1h0m3.8 .6h0m-17.2 .7h0m-.6 3.4h0m-3.2-.7h0m15.6-1.1h0m2.7 2.2h0m4-1.1h0m-11.8 1.5h0m-.6 2.5h0m5.1-1.8h0m5.1 2.7h0m4.9-.9h0m-4 2.7h0m-28.3-1.1h0m.4 3.3h0m13 .7h0m1.5 1.5h0m-8.2 1.6h0m.4 2.9h0m-6.4 0h0m-2.9 2.2h0m5.1-.4h0m13.4-1.8h0m2.6 2.7h0m-12.9 1.7h0m4-1.1h0m.7 2.9h0m16.7-2.9h0m1.6 2.9h0m-.7 2.2h0m1.3 2.3h0m-17.3 .9h0m-14.1 2.9h0m11.8 0h0m2.3 1.1h0m-3.8 1.1h0m-5.2 2.2h0m5.6 2.3h0m3.4 1.1h0m-19 .4h0m2.2 .7h0m2.3 1.5h0m4.4-1.5h0m1.8 2.9h0m2.7 .9h0m3.3-.9h0m-12.2 1.5h0m1.1 4.5h0m4.9 0h0m2.2-3.3h0m2.9 2.2h0m-3.8-6.7h0" fill="none" stroke="#2b6c80" stroke-width="2.1" stroke-linecap="round"/><path d="M586.8 469.1h0m.7 2.3h0m6.7-2.3h0m1.5 2.7h0m7.4-.9h0m2.7 2.7h0m-12.7 0h0m3.3 1.8h0m2.2 .9h0m1.6-1.6h0m1.8 2.7h0m2.6-.5h0m-18.2 0h0m-7.8 1.2h0m12.2 1.1h0m3.4 1.1h0m2.9-.7h0m2.6 1.8h0m2.9-.7h0m-26.3 1.8h0m2.9 1.1h0m-6.2 .7h0m2.7 1.5h0m2.2 2.3h0m3.6-1.6h0m2.6 .5h0m-3.8 2.6h0m12.1-7.1h0m2.9 1.8h0m-2.2 2.2h0m3.3 .9h0m-16.7 5.8h0m3.3-2.2h0" fill="none" stroke="#e8894a" stroke-width="2.1" stroke-linecap="round"/><text x="615.33" y="440.84" font-size="2.1" font-weight="bold" fill="#111">Treatment</text><circle cx="616.89" cy="446.18" r="0.8" fill="#222"/><path d="M616.89 449.74l0.9 1.6h-1.8z" fill="#222"/><text x="620.24" y="446.85" font-size="2" fill="#222">Anti-PD-1</text><text x="620.24" y="451.31" font-size="2" fill="#222">PBS</text><text x="615.33" y="462.67" font-size="2.1" font-weight="bold" fill="#111">segment</text><circle cx="616.89" cy="467.58" r="0.85" fill="#2b6c80"/><circle cx="616.89" cy="472.03" r="0.85" fill="#e8894a"/><text x="620.24" y="468.25" font-size="2" fill="#222">CD45</text><text x="620.24" y="472.7" font-size="2" fill="#222">PanCK</text><text x="702.2" y="301" font-size="3.2" font-weight="bold" text-anchor="middle" fill="#111">Immune-rich</text><text x="771.5" y="300.6" font-size="3.2" font-weight="bold" text-anchor="middle" fill="#111">Tumor-rich</text><text x="701" y="407.5" font-size="3.2" font-weight="bold" text-anchor="middle" fill="#111">Immune-rich</text><text x="773.5" y="407.1" font-size="3.2" font-weight="bold" text-anchor="middle" fill="#111">Tumor-rich</text><rect x="666.3" y="305.4" width="71" height="3.9" fill="#d0d0d0" stroke="#8a8a8a" stroke-width="0.3"/><text x="701.8" y="308.2" font-size="1.9" text-anchor="middle" fill="#333">CD45</text><rect x="666.3" y="309.3" width="71" height="73.8" fill="#fff" stroke="#8a8a8a" stroke-width="0.3"/><path d="M678.13 309.3V383.1M689.97 309.3V383.1M701.8 309.3V383.1M713.63 309.3V383.1M725.47 309.3V383.1M666.3 318.53H737.3M666.3 327.75H737.3M666.3 336.98H737.3M666.3 346.2H737.3M666.3 355.43H737.3M666.3 364.65H737.3M666.3 373.88H737.3" stroke="#ececec" stroke-width="0.3" fill="none"/><path d="M666.3 376.01H737.3" stroke="#999" stroke-width="0.25" stroke-dasharray="0.8 0.6" fill="none"/><path d="M709.4 374.7h0m-5.6 2.8h0m-10-3.2h0m13.2-.1h0m1.8-1.2h0m-3.9 5h0m-6.2 1.3h0m-1.8-.5h0m3.1 1.7h0m-3.1-2.1h0m-2.5-4.1h0m13.2-1.1h0m2.4-.4h0m-13.4 5.3h0m7.1-1.1h0m-2.3 3.3h0m3.2-4.8h0m-3.2 4.6h0m-5.5-6.4h0m-5.4-1.2h0m13 5.7h0m-4 3.5h0m8-8.3h0m-1.8 1.1h0m-.9 4.1h0m.2-3.7h0m-3.8 6.6h0m-2.8-2.5h0m-6.6-5.1h0m12.3 3.1h0m-9.4-.2h0m14.5-3.3h0m-17 .3h0m3.5 2.9h0m-2-1.7h0m6.9 6.6h0m-3.3-3.5h0m4.9 3.5h0m4.9-6.2h0m1.5-1.1h0m1.6-.9h0m-9.8 8.5h0m-9.7-8.9h0m3.4 1.9h0m15.3-.3h0m-3.1 1.9h0m-13.7-2.3h0m2.6 2.7h0m2.9 1.4h0m-5.7-4.3h0m4.9 4.8h0m-1-1.3h0m12.5-4.4h0m-14.2 .1h0m2.4 4.3h0m-5.3-3.7h0m11.8 4.2h0m-10.4-3.9h0m17.9-1.2h0m-11.7 6.4h0m6.1-3.7h0m-1 1.7h0m3.6-1.6h0m-6.7 4.8h0m-4-2.6h0m6.9 1.3h0m.7-3h0m2.1 1h0m-11.5-2.8h0m-2-1.7h0m2.5 3.2h0m.8 2.5h0m8.1 0h0m-1.5-1.1h0m-.2 .3h0m-2.9 3.7h0m-3.5-3.7h0m1.5 1.9h0m-2.2-5.8h0m13.3 .5h0m-3.9 1.5h0m-1.1 0h0m-8.3 0h0m-.5 .9h0m2.9 1.5h0m5.9 1.4h0m-6.1-.4h0m13.3-5.9h0m-7.5 5.5h0m-9.6-3h0m2-.6h0m6.3 2.9h0m-6.7-3.9h0m5.7 8h0m3.7-7.1h0m-1.8 1.5h0m-1.9 2.4h0m1.4-.5h0m4.1-4h0m-7 5.6h0m-2.1-.6h0m5.5 .2h0m-7.2-2.4h0m-4.9-4.2h0m.3-.2h0m-.4 0h0m5.5 3h0m.5 1.1h0m-1.4 .1h0m2.2 3h0m-.7-1.4h0m-6.1-5.5h0m2.2 .2h0m14 0h0m-7.4 6.6h0m9.4-6.6h0m-15.6 1.1h0m4.8 4.6h0m3.1 2.7h0m-5.1-5.5h0m8.9-.6h0m-5.5 5.5h0m7.6-8.5h0m-5.3 8.2h0m-9.3-7h0m8 7.5h0m.3-.5h0m-1.3 1.3h0m-.7-2.1h0m5.5-3.9h0m-7.3 2.4h0m8.7-4.3h0m-8.5 5.4h0m8-2h0m-2.6 1.9h0m-3.6 1.3h0m1.3 1.4h0m-7.5-8.4h0m10.3 4.4h0m-5.7 .7h0m10.5-4.1h0m2.4-1.5h0m-17.5 1.7h0m12 1.1h0m-2.7 2.9h0m-3.8-.7h0m-.5 1.6h0m.2-1.4h0m-2.8-3.7h0m7.4 2.5h0m-10.8-4.4h0m8.9 7.7h0m2.3-2.8h0m3.2-2.4h0m1.7 0h0m-12.8-2.1h0m9.3 5h0m-6.6-.1h0m5.5 .8h0m-3.1 1.9h0m7.4-8.3h0m-4.8 7.2h0m.8-2.9h0m-8-.1h0m3.6 3.4h0m-6.6-6.5h0m6.2 6.6h0m3.1-.3h0m-7.5-6.2h0m10.5 3.8h0m-5.3 2.5h0m-4.7-6.2h0m.4 1.5h0m-3.7-2.4h0m1.1 2.5h0m5.6 4.4h0m-2.1-3.5h0m-2.2-3.5h0m10.2 4h0m4.4-4.5h0m-1.5 1.1h0m-2.7 5.6h0m-1.2-1.1h0m1.1-1.7h0m-6.6 3.3h0m8.3-3.8h0m-9 3.2h0m6.3-.5h0m6.5-5h0m-16.7-.3h0m9.4 3.8h0m-5.6 2.1h0m7.5-2.3h0m5.3-3.7h0m-3 1.9h0m-5.9 6.3h0m-5.6-6.8h0m7.9 2.3h0m3.5-3.4h0m-4 3.9h0m1.7-2.6h0m-6.3 4.4h0m-.4-.8h0m-6.1-3.7h0m7.4 6.9h0m1.6 .5h0m.5 .3h0m-6.6-8.7h0m9.3 1.9h0m-13-2.7h0m7 5.1h0m10-1.9h0m-12.2-.2h0m7.8 4.5h0m-1.5 .7h0m-4.6-3.9h0m-.3 .5h0m-1.4-3.2h0m-.3 3.1h0m-.5 0h0m5.6 4.4h0m.3-1.1h0m6.3-5.8h0m-13.5 .2h0m14-1h0m.3-.3h0m-11.6 2.2h0m2.8 3.4h0m-4.6-2.9h0m7.2 3.9h0m-6.7-6.7h0m-1.7 .3h0m3.4 5.4h0m-2.4-4h0m8.9 4.9h0m-.6-2.2h0m-2.6 3.8h0m9.3-7.5h0m-4.2 1.9h0m.2 1.1h0m-1.2-.6h0m-6.9-1.2h0m-1.8-.2h0m4.8 5.8h0m2-2.6h0m2.5-2.1h0m-9.6 1.1h0m11.3-2.9h0m-3.6 5.8h0m7.5-8.2h0m-2.7 2.8h0m-12.4-1.4h0m2 4.2h0m3.3 3.6h0m5.8-6.9h0m.8-1.9h0m-1.5 3.1h0m-3.3 4.9h0m1.1-2.5h0m-7.1 .1h0m7.3-.7h0m2.5-2.1h0m-5.9 6.3h0m6.9-6.9h0m-6.8 5.5h0m-8.3-6.6h0m17.9-.7h0m-4.5 3.4h0m-8.5 .8h0m-1.2-.7h0m2 3.3h0m5.9-2.4h0m2-1.6h0m-7.6 2.4h0m7.7-1.8h0m.8 1h0m-1.9 .5h0m-.2-.2h0m-10.8-1.9h0m6.9 5.8h0m-2.3-2.1h0m-1.9-2.2h0m6.4 2.1h0m-5.2-.2h0m-1-3.6h0m4 5.6h0m-5.3-6.4h0m4.3 7.6h0m-7.3-7.8h0m3.6 .2h0m1.9 3.6h0m.6 .8h0m-.1-.2h0m-3.8-5.2h0m-.4 .1h0m11.7-.8h0m-1.5 3.5h0m-.3 2.1h0m1.2-1.8h0m1.3-.9h0m-9.2 .2h0m.1 1.3h0m10.4-2.3h0m-3.2 1.3h0m-3.9 3.8h0m.6 0h0m-.2 .4h0m-6.2-7.5h0m11.7 3.4h0m-11 .5h0m-3.4-3h0m1-.2h0m15.3 .7h0m-9.6 4.2h0m-1-.7h0m-2.5-2.9h0m-1.4-1.5h0m1.9 3.6h0m-.8-4.8h0m-2.4 .8h0m2.7-.6h0m4.1 7.1h0m8.2-3.9h0m-12.7-.9h0m.4 1h0m10.5-2.6h0m-1.7 2.4h0m-2.7 4.9h0m1.2-1.9h0m-12.3-5.7h0m4.7 2.7h0m3.2 1.3h0m4.2 1.2h0m-10.6-4.1h0m9.7 7.3h0m-.8-.4h0m-7.3-6.6h0m5.6 6h0m-6.9-7.2h0m11.6 5.7h0m-6.2-.4h0m-.1-.3h0m1.2 2.4h0m9.2-5.8h0m1-2.3h0m-5.1 2.9h0m1.3 1.8h0m-6.3 .4h0m5-1.6h0m-4.5 4.5h0m-5.2-5h0m12.8-.1h0m-8.2 4.3h0m2.9 .9h0m-3.3-1.9h0m7.5-3.8h0m-13.4-2h0m12.4 2.1h0m3.3-.1h0m-15.2-.1h0m17.2-2.2h0m-12.5 5.4h0m8.2-1.1h0m1.4-3.2h0m1.9-.3h0m-4.4 4h0m-7.6 1.2h0m-2.2-1.4h0m7.4 1.6h0m.3-.4h0m3.2-.8h0m1.6-5.1h0m.3-.3h0m.4 2.8h0m-4.8 4.1h0m-8.9-5h0m7.6 5.1h0m1-.8h0m.8 .2h0m.4-2.5h0m-8 2.8h0m9.3-4.1h0m-8.3 4.1h0m-2.7-4.2h0m.8 1h0m-.7 .4h0m5 4.7h0m7.2-4.9h0m-10.3 2.1h0m8.2-2.2h0m-7.1 2.3h0m-2.7-4.9h0m-1.6 .7h0m-.5 .2h0m7.8 6.3h0m2.4-.1h0m-5-1.9h0m-1.2-1.5h0m8.1-1.3h0m-9.6 2.3h0m11.7-2.8h0m3.9-3.5h0m-3.9 4.3h0m-6.4 4.9h0m6.2-6.1h0m1.3 .2h0m.2-1.2h0m-4.6 4.7h0m-1.8 1.7h0m-2.5-1.4h0m3.2 .8h0m-5.5-2.1h0m-6.6-5h0m9.4 8.2h0m-6.1-6.6h0m12.5-.3h0m-14.5 0h0m13.9 1.2h0m-10.1-1.1h0m-3.3-1.4h0m3.1 5.1h0m6.7 2.1h0m-7.4-4.8h0m.3-2.7h0m-1.4 .3h0m14.9 2.5h0m-11.1 2.8h0m1.1 1h0m-5.2-4.4h0m1.2 2.2h0m9.9 .9h0m-7.1-.1h0m6.2 2h0m5.8-5.9h0m-3 .5h0m-11.6 1.7h0m-2.4-2.7h0m10.3 7h0m7.1-6.8h0m-11.2 6.3h0m.2 2.3h0m2.6-2.3h0m5.1-4.7h0m-8.1 5.9h0m-1.2-5.2h0m-3.2-2.5h0m13 2.1h0m-13.3 .5h0m2.4 2h0m0-4h0m10.5 1.9h0m-9.6-.4h0m.3 .9h0m-4.9-1.1h0m15.3 .1h0m-12.3 .2h0m6.1 4.7h0m-9-7.9h0m3 2.5h0m1.9 3.1h0m-2.5-.9h0m4.6 3.6h0m-5.5-8.1h0m5 7.5h0m-4.2-4.9h0m1.6 .9h0m7.6 1.5h0m2-.8h0m-2.4 .2h0m-7.8-.8h0m8.4 1h0m-7.4 1.6h0m6.1 .2h0m-6-.3h0m-4.8-3.5h0m9 6.2h0m-4.3-2.3h0m-1.5-1.5h0m.6-2h0m-3.4-.8h0m-2.5-2h0m6.2 3.8h0m14.4-3.6h0m-17.8 .5h0m1.2 1.8h0m-.3-.2h0m13 .9h0m-9.1 3.8h0m1.1-.4h0m-4.4-6.1h0m11.2 1.8h0m-.1 1.1h0m-8.5 3.2h0m.4-3.5h0m11.6-2.4h0m-3.5 .6h0m-10.6 3.3h0m11.1-1.7h0m-5.7 5.6h0m2.9-2.1h0m-.9 2.1h0m1.9-3.1h0m-6.3-.6h0m1.6 3h0m-.4-1.5h0m-1 .2h0m2.3 2.5h0m8.2-6.9h0m-3.9 4.5h0m2.7-5.3h0m-10.5 2.4h0m10.6-.2h0m.1-1.3h0m.1-.1h0m-10.3 1.7h0m5.9 2h0m-1.2 1.1h0m0 .9h0m-4.2-3h0m4.4 3h0m-.8 .2h0m-3.3-1.2h0m2.8 0h0m.6 .3h0m-1.8-1h0m1.3 2.6h0m.1 .6h0m-.8-.5h0m1-3.4h0m-.5 1.5h0m1.4-.3h0m-4 2.7h0m1.9-2.5h0m1.7-1.2h0m-3 .5h0m2.2 2.4h0m-1.2-2.6h0m.5-.5h0m-2.3 2.9h0m1.8 .2h0m-.7-.5h0m1-.1h0m.2-1h0m-.9 1.4h0m1.6-1.3h0m-.3-1.7h0m-2.3 3.4h0m2.3-2.3h0m.8 1.9h0m.2-1h0m-3.6 1.5h0m.8 .3h0m2-3.6h0m1.1 3.6h0m-3.1-2.1h0m1 .3h0m-.3 1.8h0m1.2-3.3h0m-2.8 0h0m.5 2.4h0m1.2 1.1h0m-.9-3.3h0m.5 2.5h0m2.7-.3h0m-3.6-2.2h0m3.9 .4h0m-4.4-.4h0m2.2 .6h0m.6-1.1h0m-1.1 1h0m2.5 3h0m-1.4-3h0m1.3-.4h0m-.6 2.9h0m-1-3h0m.2 2.5h0m-2.5-1.3h0m2.9-2h0m-2.1 1.8h0m2.5 .3h0m-.4-.3h0m.7 .4h0m-.2-1.7h0m.7 .7h0m.4 .1h0m-.2-.9h0m-2.8 .2h0m1.4 3h0m1 .2h0m.5-2.5h0m-2 1.1h0m-1.8 1.8h0m3.7-2.8h0m-2.6-.6h0m.3 3.4h0m-.1-1.6h0m2.2 1.3h0m-.9-.4h0m-.2-1.6h0m-3 1.9h0" fill="none" stroke="#b9b9b9" stroke-width=".90" stroke-linecap="round"/><path d="M690.7 372h0m3.6-2.3h0m-3.9 5.7h0m.3-1.3h0m1.2-.8h0m-3.2 .9h0m3.8-.2h0m-3.1-2.2h0m-1.5 1.7h0m3.5-.7h0m-3.9-.1h0m-2.1-1.4h0m6.3 2.7h0m5.4-4.9h0m-7.1 4.6h0m.3-4.9h0m2.8 2.8h0m3.9 .4h0m-4.4 1.5h0m.3-1.8h0m-2.6-1.2h0m-.2 3.6h0m2.9-1.1h0m4-1h0m-2.9-.5h0m-2.9-.2h0m-3 .6h0m4.9 2.1h0m2.6-3.2h0m-5.1-.5h0m2.8 .4h0m.8 4.4h0m1.6-3.4h0m-8-.7h0m3.5 2.7h0m-.5-1.6h0m-3.4 .2h0m5.3-1.6h0m3.6 4.8h0m-1.8-5.6h0m-4.3 2.3h0m1.9 .1h0m1.2-1.1h0m-4.9 .7h0m-3.3 .4h0m5.1-.2h0m-1.4 2.7h0m-3-1.4h0m3.9-.9h0m-1.5-2.7h0m-1.3 .4h0m2.5 .9h0m-.1-.5h0m2.1 .9h0m-4.6-.8h0m1.6 .6h0m4.6 1.6h0m-1.2-1.9h0m1.9 1.2h0m-5.8 .8h0m-1.1 1.5h0m9.4-1.4h0m-.6 1.1h0m-2.7-.1h0m.5-1.9h0m-1.6 .9h0m.8-1.8h0m-3.6 2.9h0m-.3-4.3h0m0 3.3h0m-.1-.3h0m.1 .3h0m1.3-1h0m3.7 .8h0m-4.2-.4h0m2.1-3.3h0m3 2.6h0m-1.4 1.7h0m-1.4-.7h0m5.2-.9h0m-6.6-2.3h0m1.4 2.7h0m-3.3-2.3h0m7.7-1.7h0m1.1 6.4h0m-7.5-2.6h0m-1.2 1.7h0m1-3.7h0m-4.5 1.9h0m7.4-1.5h0m-4 3.9h0m6.4-1.7h0m-2.8 1.9h0m-5.7-.7h0m5.8-2.6h0m.2-1.6h0m-1.9 4.3h0m6.7-2.1h0m-3.8-1.3h0m9.4 4.4h0m-7.3-2.4h0m-3.4-2.1h0m1.3 3.6h0m.5-1.1h0m14.8-1h0m1.8 1h0m-4.6 1.5h0m3.6-5h0m4.5 3.5h0m-5.8 1.6h0m1.6-3.3h0m-.2 2.3h0m-.9-3.4h0m-4.3 5h0m9.7-4.5h0m-4.9 4.5h0m6-4.4h0m-8 3.6h0m.1-1.5h0m2.6 1.2h0m-2.9-2.7h0m1 3.9h0m10-1.6h0m-5.4 .2h0m-6.8-1.5h0m5.2-2.3h0m.9 4.4h0m-1.4-4.3h0m7.5 3.5h0m-9.8-.1h0m-1.8-.8h0m4.9-1.6h0m-1.7 1.5h0m2.7-2.1h0m-.5 .3h0m-2.7 .1h0m2.8 .4h0m2.1 2.1h0m-12.5-5.1h0m9.5 3.1h0m1.5-.2h0m-1.3 .7h0m-3.6 1h0m5-3.4h0m-3.9-.1h0m-.7 3.6h0m3.4-1.5h0m-1.1 1.2h0m-.9-1.9h0m-8.5 1.2h0m12.8 .4h0m6.3-4h0m-6.6 6.2h0m4.4-.9h0m1.6 .7h0m-11.5-3.6h0m3.3 3.3h0m-3.7-5h0m4.3 1.6h0m1.9 .5h0m-5.9 .5h0m-.3 1.8h0m.5-2.5h0m6.1-.7h0m-3.5 .4h0m4.2 .5h0m-3.7 .4h0m-2 1.7h0m8.7-1.4h0m-4.8-1.6h0m-.6 2.1h0m1.8-2.8h0m-1.8 3.5h0m-6.8-2.7h0m3.6 4.4h0m1.7-1.9h0m-4.4-.8h0m-1 .4h0m6 .6h0m2.5-3.1h0m-5.6 1.2h0m-5.2 1.8h0m7.1-2.6h0m-.7 .9h0m1.2-.8h0m-7 3.6h0m6-2.1h0m-3.7-.6h0m2.1 1.7h0m5.8-4.1h0m-8.9 3.7h0m4.4-1.2h0m8.2 3.7h0m-13.7-2.3h0m1.6 .1h0m11.6-1.5h0m-7.4 1h0m-1.1-.8h0m7.7 2h0m-3.1 .2h0m-7.7 .6h0m8.4-2.8h0m-1.1-.2h0m-4.3-2h0m9.9-.4h0m-3.9 2.6h0m-2.4 .7h0m-3.3-1.3h0m3.5-1.5h0m-.3 5.7h0m-3.1-5.1h0m2.4 1h0m-.1 .6h0m-1.7 2.2h0m3.3 .5h0m-6.9-2.4h0m4.4 1h0m-.9-.4h0m1.1-3.1h0m2.5 1h0m-3.2 1.9h0m4 2h0m.3-3.2h0m.9 1.3h0m-2.2-.6h0m-23.2 3.3h0m-5.4-2.6h0m2.7-1.1h0m-3.1 2.6h0m2.2-2.4h0m3.8 1.8h0m-10.9-.3h0m9 .7h0m-1.4-.7h0m.2 0h0m-4.1 1h0m3.4-.2h0m-2-.8h0m-.4 2.1h0m5.2-1.9h0m-1.1-.6h0m-3.7 2.6h0m-4.7-2.8h0m-.9 .9h0m5.1 .4h0m39.1-.8h0m-2.4 1h0m.8-1.4h0m-2.7 .8h0m.3 1h0m4.2-2.3h0m2.8-.3h0m-5.7 1.1h0m-.2-1.1h0m7 .7h0m-5.9 1.5h0m4.5-.8h0m-5-1.5h0m-1.4 1.2h0m3.3 2.4h0m-2.8-1.6h0m3.6-2.2h0m.4 .3h0m-2.4 1.9h0" fill="none" stroke="#f0a22e" stroke-width=".80" stroke-linecap="round"/><text class="nl" x="697.3" y="312.7" font-size="1.9" text-anchor="middle" fill="#111">Cxcl9</text><text class="nl" x="695.9" y="334.4" font-size="1.9" text-anchor="middle" fill="#111">Gzmb</text><text class="nl" x="715.7" y="356.5" font-size="1.9" text-anchor="middle" fill="#111">Cxcl10</text><text class="nl" x="710.1" y="348.2" font-size="1.9" text-anchor="middle" fill="#111">Spp1</text><text class="nl" x="674.8" y="361.4" font-size="1.9" text-anchor="middle" fill="#111">Gzmb</text><text class="nl" x="711.6" y="346.8" font-size="1.9" text-anchor="middle" fill="#111">Ccnb1</text><text class="nl" x="698.7" y="346.9" font-size="1.9" text-anchor="middle" fill="#111">Irf7</text><text class="nl" x="709.9" y="360.7" font-size="1.9" text-anchor="middle" fill="#111">Top2a</text><text class="nl" x="700.5" y="342.8" font-size="1.9" text-anchor="middle" fill="#111">Psmb9</text><text class="nl" x="721.6" y="366.8" font-size="1.9" text-anchor="middle" fill="#111">Tap1</text><text class="nl" x="700.7" y="369.3" font-size="1.9" text-anchor="middle" fill="#111">Nkg7</text><text class="nl" x="681.6" y="349.7" font-size="1.9" text-anchor="middle" fill="#111">Irf1</text><text class="nl" x="680.2" y="348.9" font-size="1.9" text-anchor="middle" fill="#111">Pcna</text><text class="nl" x="704.8" y="360.7" font-size="1.9" text-anchor="middle" fill="#111">Ccnb1</text><text class="nl" x="724.3" y="366.8" font-size="1.9" text-anchor="middle" fill="#111">Gzmb</text><text class="nl" x="702.3" y="353.3" font-size="1.9" text-anchor="middle" fill="#111">Ifi47</text><text class="nl" x="698" y="339.7" font-size="1.9" text-anchor="middle" fill="#111">Col1a1</text><text class="nl" x="721.2" y="365.4" font-size="1.9" text-anchor="middle" fill="#111">Ly6a</text><text class="nl" x="689" y="342.1" font-size="1.9" text-anchor="middle" fill="#111">Ly6a</text><text class="nl" x="690.8" y="356.7" font-size="1.9" text-anchor="middle" fill="#111">Gbp5</text><text class="nl" x="691.7" y="340.2" font-size="1.9" text-anchor="middle" fill="#111">Fn1</text><text class="nl" x="700.7" y="367.4" font-size="1.9" text-anchor="middle" fill="#111">Psmb9</text><text class="nl" x="690.8" y="346.8" font-size="1.9" text-anchor="middle" fill="#111">Ifi47</text><text class="nl" x="691.1" y="349.3" font-size="1.9" text-anchor="middle" fill="#111">Mmp9</text><text class="nl" x="685.3" y="358.5" font-size="1.9" text-anchor="middle" fill="#111">Cxcl9</text><text class="nl" x="713.5" y="339.7" font-size="1.9" text-anchor="middle" fill="#111">Gzmb</text><text class="nl" x="686.7" y="354.5" font-size="1.9" text-anchor="middle" fill="#111">Stat1</text><text class="nl" x="687" y="363.8" font-size="1.9" text-anchor="middle" fill="#111">Irf1</text><text class="nl" x="711.8" y="364.5" font-size="1.9" text-anchor="middle" fill="#111">Mcm2</text><text class="nl" x="700.5" y="338.7" font-size="1.9" text-anchor="middle" fill="#111">Psmb9</text><text class="nl" x="710.1" y="352.3" font-size="1.9" text-anchor="middle" fill="#111">Col1a1</text><text class="nl" x="679.3" y="366.9" font-size="1.9" text-anchor="middle" fill="#111">Iigp1</text><text class="nl" x="709.4" y="372.1" font-size="1.9" text-anchor="middle" fill="#111">Nkg7</text><text class="nl" x="713" y="339.7" font-size="1.9" text-anchor="middle" fill="#111">Oasl2</text><text class="nl" x="724.4" y="366.5" font-size="1.9" text-anchor="middle" fill="#111">Irf7</text><text class="nl" x="711.6" y="339.7" font-size="1.9" text-anchor="middle" fill="#111">Gbp2</text><text class="nl" x="687.2" y="362.5" font-size="1.9" text-anchor="middle" fill="#111">Iigp1</text><text class="nl" x="692.8" y="361.3" font-size="1.9" text-anchor="middle" fill="#111">Irf1</text><text class="nl" x="701.1" y="357.2" font-size="1.9" text-anchor="middle" fill="#111">Ly6a</text><text class="nl" x="716.8" y="345.9" font-size="1.9" text-anchor="middle" fill="#111">Mmp9</text><text class="nl" x="691.2" y="343.7" font-size="1.9" text-anchor="middle" fill="#111">Mcm2</text><text class="nl" x="717.8" y="358.8" font-size="1.9" text-anchor="middle" fill="#111">Cd8a</text><text class="nl" x="699.6" y="357.6" font-size="1.9" text-anchor="middle" fill="#111">Myc</text><text class="nl" x="697.4" y="340.7" font-size="1.9" text-anchor="middle" fill="#111">Nkg7</text><text class="nl" x="691.4" y="346.1" font-size="1.9" text-anchor="middle" fill="#111">Ccl5</text><text class="nl" x="704.7" y="372.4" font-size="1.9" text-anchor="middle" fill="#111">Mmp9</text><text class="nl" x="694.2" y="358.1" font-size="1.9" text-anchor="middle" fill="#111">Usp18</text><text class="nl" x="678.4" y="372.2" font-size="1.9" text-anchor="middle" fill="#111">Arg1</text><text class="nl" x="691.2" y="346.2" font-size="1.9" text-anchor="middle" fill="#111">B2m</text><text class="nl" x="714.2" y="373.4" font-size="1.9" text-anchor="middle" fill="#111">Oasl2</text><text class="nl" x="696.1" y="353.4" font-size="1.9" text-anchor="middle" fill="#111">Gbp2</text><text class="nl" x="700" y="356.4" font-size="1.9" text-anchor="middle" fill="#111">Ccl5</text><text class="nl" x="723" y="371.4" font-size="1.9" text-anchor="middle" fill="#111">Arg1</text><text class="nl" x="695.6" y="365.1" font-size="1.9" text-anchor="middle" fill="#111">Myc</text><text class="nl" x="676.5" y="368.3" font-size="1.9" text-anchor="middle" fill="#111">Arg1</text><text class="nl" x="672.8" y="354.8" font-size="1.9" text-anchor="middle" fill="#111">Iigp1</text><text class="nl" x="680.2" y="344.5" font-size="1.9" text-anchor="middle" fill="#111">E2f1</text><text class="nl" x="690.8" y="349.9" font-size="1.9" text-anchor="middle" fill="#111">Stat1</text><text class="nl" x="699.4" y="347.4" font-size="1.9" text-anchor="middle" fill="#111">Cxcl9</text><text class="nl" x="697.8" y="338.9" font-size="1.9" text-anchor="middle" fill="#111">Oasl2</text><text class="nl" x="728.5" y="359.7" font-size="1.9" text-anchor="middle" fill="#111">Ifit1</text><text class="nl" x="718.2" y="365.6" font-size="1.9" text-anchor="middle" fill="#111">Gzmb</text><text class="nl" x="715.4" y="354.1" font-size="1.9" text-anchor="middle" fill="#111">Cd8a</text><text class="nl" x="669.9" y="368.7" font-size="1.9" text-anchor="middle" fill="#111">Top2a</text><text class="nl" x="694.3" y="366.1" font-size="1.9" text-anchor="middle" fill="#111">Stat1</text><text class="nl" x="671.7" y="364.2" font-size="1.9" text-anchor="middle" fill="#111">Spp1</text><text class="nl" x="692.7" y="347.3" font-size="1.9" text-anchor="middle" fill="#111">Spp1</text><text class="nl" x="728" y="358.6" font-size="1.9" text-anchor="middle" fill="#111">Ccnb1</text><text class="nl" x="674.3" y="352.3" font-size="1.9" text-anchor="middle" fill="#111">Usp18</text><text class="nl" x="706.6" y="340.8" font-size="1.9" text-anchor="middle" fill="#111">Cd274</text><text class="nl" x="721" y="360.2" font-size="1.9" text-anchor="middle" fill="#111">Irf7</text><text class="nl" x="691.2" y="349.4" font-size="1.9" text-anchor="middle" fill="#111">Spp1</text><text class="nl" x="724.6" y="367.7" font-size="1.9" text-anchor="middle" fill="#111">Zbp1</text><text class="nl" x="686.1" y="353.7" font-size="1.9" text-anchor="middle" fill="#111">Irf1</text><text class="nl" x="687.1" y="362.1" font-size="1.9" text-anchor="middle" fill="#111">Ccl5</text><text class="nl" x="678.8" y="355.1" font-size="1.9" text-anchor="middle" fill="#111">Saa3</text><text class="nl" x="716.2" y="372.9" font-size="1.9" text-anchor="middle" fill="#111">Tap1</text><text class="nl" x="673.2" y="365.8" font-size="1.9" text-anchor="middle" fill="#111">Myc</text><text class="nl" x="692.4" y="356.7" font-size="1.9" text-anchor="middle" fill="#111">Lcn2</text><text class="nl" x="722.7" y="359.4" font-size="1.9" text-anchor="middle" fill="#111">Arg1</text><text class="nl" x="701.7" y="343" font-size="1.9" text-anchor="middle" fill="#111">Irf7</text><text class="nl" x="718.8" y="355.5" font-size="1.9" text-anchor="middle" fill="#111">Zbp1</text><text class="nl" x="693" y="371.9" font-size="1.9" text-anchor="middle" fill="#111">Vim</text><text class="nl" x="714.9" y="346.3" font-size="1.9" text-anchor="middle" fill="#111">Tap1</text><text class="nl" x="694.2" y="365.6" font-size="1.9" text-anchor="middle" fill="#111">Irf7</text><text class="nl" x="695.4" y="357.1" font-size="1.9" text-anchor="middle" fill="#111">Saa3</text><text class="nl" x="685.7" y="366.3" font-size="1.9" text-anchor="middle" fill="#111">Ly6a</text><text class="nl" x="698.8" y="355.5" font-size="1.9" text-anchor="middle" fill="#111">Cxcl10</text><text class="nl" x="688.1" y="338.2" font-size="1.9" text-anchor="middle" fill="#111">Mcm2</text><text class="nl" x="685.5" y="340.7" font-size="1.9" text-anchor="middle" fill="#111">Saa3</text><text class="nl" x="682.9" y="351.4" font-size="1.9" text-anchor="middle" fill="#111">Zbp1</text><text class="nl" x="693.6" y="340.5" font-size="1.9" text-anchor="middle" fill="#111">E2f1</text><text class="nl" x="719.5" y="349.4" font-size="1.9" text-anchor="middle" fill="#111">Gbp5</text><text class="nl" x="714.7" y="348.9" font-size="1.9" text-anchor="middle" fill="#111">Mmp9</text><text class="nl" x="679" y="356.2" font-size="1.9" text-anchor="middle" fill="#111">Ifit1</text><text class="nl" x="714.2" y="371.6" font-size="1.9" text-anchor="middle" fill="#111">Iigp1</text><text class="nl" x="687.1" y="346.4" font-size="1.9" text-anchor="middle" fill="#111">Cxcl10</text><text class="nl" x="694.8" y="367.7" font-size="1.9" text-anchor="middle" fill="#111">Gbp5</text><text class="nl" x="686.9" y="371.5" font-size="1.9" text-anchor="middle" fill="#111">Nkg7</text><text class="nl" x="668.8" y="369.2" font-size="1.9" text-anchor="middle" fill="#111">Mmp9</text><text class="nl" x="690" y="358.6" font-size="1.9" text-anchor="middle" fill="#111">Mcm2</text><text class="nl" x="704.1" y="352.3" font-size="1.9" text-anchor="middle" fill="#111">Oasl2</text><text class="nl" x="712.7" y="353.9" font-size="1.9" text-anchor="middle" fill="#111">H2-K1</text><text class="nl" x="681.1" y="364.6" font-size="1.9" text-anchor="middle" fill="#111">Nkg7</text><text class="nl" x="713.2" y="368.3" font-size="1.9" text-anchor="middle" fill="#111">Ccl5</text><text class="nl" x="704" y="346.1" font-size="1.9" text-anchor="middle" fill="#111">Mki67</text><text class="nl" x="703.7" y="340.5" font-size="1.9" text-anchor="middle" fill="#111">Ifi47</text><rect x="741.7" y="305.4" width="69.7" height="3.9" fill="#d0d0d0" stroke="#8a8a8a" stroke-width="0.3"/><text x="776.55" y="308.2" font-size="1.9" text-anchor="middle" fill="#333">PanCK</text><rect x="741.7" y="309.3" width="69.7" height="73.8" fill="#fff" stroke="#8a8a8a" stroke-width="0.3"/><path d="M753.32 309.3V383.1M764.93 309.3V383.1M776.55 309.3V383.1M788.17 309.3V383.1M799.78 309.3V383.1M741.7 318.53H811.4M741.7 327.75H811.4M741.7 336.98H811.4M741.7 346.2H811.4M741.7 355.43H811.4M741.7 364.65H811.4M741.7 373.88H811.4" stroke="#ececec" stroke-width="0.3" fill="none"/><path d="M741.7 376.01H811.4" stroke="#999" stroke-width="0.25" stroke-dasharray="0.8 0.6" fill="none"/><path d="M775.5 376.7h0m3.2-20.6h0m2.3 1.5h0m-11.2 3.3h0m1.7-6.3h0m10.4 5.5h0m-10.3 1.7h0m-2.8-1.6h0m-1.4-5.2h0m3.5 5.1h0m5.2 18.5h0m2.8-22.5h0m-.5 9.8h0m-1.3 14.9h0m-3.5-8.4h0m2.6 5.3h0m-.1 .7h0m-6.6-17.5h0m10.1-7.6h0m1.3 3.6h0m-12.5-.4h0m2.7 1.9h0m8.1 .3h0m-.3 9.3h0m.7 4.3h0m.5-13.8h0m-1.7 5.3h0m2.2 4h0m-6.7-2h0m1.5 13.2h0m4.3-15.8h0m-.5-9.4h0m-3.9 25h0m-2.9-19h0m7.3-4.5h0m-2.3 13.5h0m-4.9-2h0m-1.4-1.4h0m8.6-4.4h0m-9.5-7.9h0m-.7 6.7h0m2.8 3.4h0m5.8 6.5h0m-6-7.4h0m5.3 7.3h0m-4.9-3.6h0m9.9-11.7h0m-10.2 4.6h0m7.6 1.4h0m-1-4.7h0m-.5 2.2h0m-1.6 19.1h0m-3.2-12.3h0m.9 4.6h0m-4.6-7h0m5.1 8.3h0m2.9 .5h0m-5.9-13.4h0m5.5 7.8h0m-.9 7h0m.8 1.9h0m.1 .4h0m-.7 4.4h0m2.1-10.1h0m-5.2-4.8h0m2.9 13.6h0m-7.8-22.5h0m10.4 8h0m-2.5 17.9h0m-5.6-15.2h0m2.1 7h0m9.2-14.7h0m.4-.6h0m-1.9 4.1h0m-3.9 14.7h0m-3.9-9.2h0m-2.3-.2h0m2.1 7.8h0m6.1-5.3h0m-3 5.9h0m2.4 .7h0m-9-18.8h0m1.7 9.5h0m10.8-7.2h0m-3.6 3h0m-.4 13.2h0m1.8-5.8h0m1.6-11.5h0m-5 21.3h0m-.5-1.4h0m.2-3.2h0m1.3-2.8h0m-.9 7.7h0m-3.1-14.5h0m-.1 2h0m4.8-1.8h0m1.8 4.2h0m-1.7 2.8h0m-5.8-13.5h0m0 3.3h0m6.9-2.5h0m.3-4.2h0m-1.6 21.1h0m-5.8-16.4h0m-1.5 3h0m6.2 17.9h0m-2.8-18.4h0m-.3 10.3h0m6.2-2.9h0m-4.2 9h0m5.8-17.7h0m-2.1 11.3h0m.2-.6h0m-7.9-12.6h0m7.9 12.9h0m-1.6-6.1h0m-1.9 14.2h0m2.8-12.1h0m-6-2.2h0m.8 9.9h0m3-1.5h0m-7.7-14.5h0m8.2 12h0m1 3.5h0m.4-16.8h0m-7.9-2.1h0m-2.8-.1h0m8.6 15.4h0m2.7-3.2h0m-9.8-16.4h0m10.6 19.1h0m-9.8-14.3h0m9.3 13.7h0m-6.3-1.5h0m.2-4h0m-1-9.3h0m5.7 12.4h0m-7.4-10h0m8.1 8.8h0m-4.1 11.5h0m2.6-12.6h0m-2 10.1h0m5.8-14.8h0m1.7-8.6h0m-3.7 1.9h0m3.8-2.9h0m-6.8 22.6h0m7.2-19.6h0m-5.7 23.5h0m-6.5-16.7h0m1.6 .8h0m1-1.6h0m6.5 .8h0m-1.6 5.3h0m-6.1-5.9h0m5 17.7h0m-6.1-15.3h0m6.9-2h0m-5.5 4.6h0m1-3.1h0m-2.2 1.2h0m3.3 9.5h0m4.6-13.8h0m4-6.6h0m-4.6 6.8h0m2.7-2.7h0m-10.5 1h0m8.9 10.1h0m-7.8 2.1h0m-1.5-11.4h0m-1.6-4.9h0m5.8 18.4h0m1.5 .1h0m4.8-8h0m-.3 1.7h0m-2.1-1.1h0m-.2 6.7h0m-9.6-19.9h0m6.5 23.5h0m4.5-4.8h0m-6.6 3.4h0m-2.7-10.7h0m7.1 12.4h0m-6.9-10.6h0m8.3-11.2h0m-6.6 12.1h0m6-.9h0m-9.2-7h0m11.5 7.8h0m-1.8-4.7h0m-3.7 19.9h0m6.9-28.9h0m-7.9 18.4h0m-4-8h0m-.9-5.5h0m2.5 4h0m6.2 14h0m3.7-14h0m-9.7 8.2h0m6.5-13.5h0m.1 15.4h0m-3.1 10.1h0m2.4-9.7h0m.8-12.6h0m-3.2 22h0m5.8-27.7h0m-.6 10h0m-.1 2.6h0m-7.7 5.3h0m-4.7-15h0m11.3-2.2h0m-4.2 20.7h0m-.6 .5h0m-2.2-17.4h0m5.1 4.1h0m-4.7 2.9h0m4.2-.3h0m1.5 5.1h0m-5.3-9.3h0m-.8 4.1h0m6.7 1.2h0m-6.8 .7h0m9.6-12.5h0m-8.3 14.7h0m-2.6-16.6h0m4.7 26.8h0m-7.1-22.6h0m12.8 8.1h0m-9.4-.4h0m3.2 8.6h0m-.2 6.8h0m-6.5-22.8h0m9.7 4.3h0m-1.1 14.4h0m-9.6-22.4h0m6.2 14.3h0m6.6-3.9h0m1.1-7.6h0m-11.6 3.2h0m7.8 3.2h0m4.1-4.5h0m-4.8 10.8h0m-8.5-10.3h0m3.2 1.8h0m4.4 13.7h0m-2-3h0m-1.6-2.6h0m8.8-7.7h0m-.6-4.6h0m-.5 3h0m-2.9 5.5h0m0 4.4h0m-.7 3.5h0m-1.9 1.7h0m4.6-12.1h0m-9.1 3.2h0m5.6 12.7h0m2.6-22.8h0m-4.2 11.7h0m-6.6-14h0m6.2 18.6h0m1.6 2.1h0m6.1-16.5h0m-7.4 17.2h0m-2.6-16.5h0m6.7 1.4h0m3.5 .7h0m-8 2.3h0m7.7-6h0m-2.6 18h0m-.7-11.1h0m2.1-9.8h0m-.9 9h0m1.3-5.3h0m-10.3 9.1h0m10.3 .1h0m.1-2.3h0m.6-8.4h0m-10.6 5.2h0m7.4 14.8h0m0-4.5h0m-5.8-7h0m10-3.8h0m-6.9 17.9h0m7-25.2h0m-9.1 10.9h0m5.2-4.9h0m-1 16.9h0m3-15.4h0m-2.7 8.9h0m-4.6 3.7h0m4.6-8.9h0m-6.3-4.5h0m9.4-.2h0m-8.6-2.1h0m.8 6.8h0m2.9 11.3h0m-.4 4.8h0m1.7-17.9h0m-5 7.6h0m7.5-2.1h0m-1.8 1.1h0m2.2-4.4h0m-7.5 5.4h0m-.7-2h0m-4.1-12.3h0m5.3 12.2h0m-3.5-9h0m-.3-5.8h0m10.3 19.1h0m-.1-8.9h0m-.7-.4h0m.8-4.5h0m-.5 6.2h0m1.8-4.5h0m-9.4 .1h0m6.2-.3h0m2-5.2h0m-6.1 14.4h0m7.5-8.5h0m-5.7 15.7h0m4.6-22.8h0m-3.6 27h0m-1.2-5.6h0m-5.8-19.3h0m10.1 8.3h0m1.2-5.3h0m-12.3-5h0m2.6 8.1h0m1.3 5.2h0m-1.1-.3h0m10.2-11.9h0m-7.4 17.5h0m-3.1-16.7h0m1.9 5.8h0m-3 2.3h0m10-2.6h0m-3.4 18h0m-.4-4.2h0m5.7-18.6h0m-.6-1.8h0m-6.6 16.5h0m3 7.5h0m.4-20.2h0m-3.3 17.8h0m-1.5-14h0m9-2.8h0m-10.1 .9h0m3.6 18.2h0m-5.5-16.7h0m4.2 8.2h0m3.9-12.4h0m-6.3 1.5h0m3.6 16.3h0m-3.5-3.7h0m5 3.5h0m.1 4.5h0m-4.7-19.7h0m5.8 13.2h0m-7.2-16.5h0m-3.5-3h0m3.7 2h0m.2 14.4h0m9.4-12.1h0m-14.1-4h0m10.9 8.7h0m-5.1 10.3h0m4.5 3.8h0m2.4-21.5h0m-6.6 17.8h0m1.1 .1h0m.2-1.1h0m-.9-6.2h0m3 6.8h0m.3-3.2h0m.4 1.1h0m-5.5-17.3h0m4.5 24.8h0m-2.4-.4h0m-5.1-22.5h0m2.8-1.7h0m2.3 14.4h0m-1.5-8.3h0m6.5 6.8h0m-2.8 13.6h0m1.1 1.6h0m.7-15.7h0m-5.4-8.3h0m1.1 17.6h0m-4.1-13.5h0m13.7-6.1h0m-7.2 23.6h0m-5.9-15.3h0m2 3.9h0m6.1 3.8h0m-5.6-2.4h0m9.9-8.2h0m-9.2 8.3h0m8.3-12.2h0m-10.3-4h0m1.6 12.2h0m-.2-3.3h0m5.2 8.4h0m4.1-9.5h0m-11.3-5.7h0m6.3 19h0m2.8-9.3h0m-6.8 1.4h0m4.5 7.5h0m-4.2-1h0m8.5-18.4h0m-11.8 4.5h0m1-.6h0m-.2 2.4h0m1.9-3.7h0m5.1 15.7h0m-8.6-11.7h0m13.7-1.7h0m-6.5 17.5h0m-3.6-20.1h0m8.1 3.1h0m-9 6.3h0m6.9-9.2h0m-5.6 17.2h0m-3.5-15h0m4.1 15h0m4.2-1.5h0m5-17.8h0m-3.6 4.6h0m-2.5 15.3h0m-5.5-7h0m13.1-14.2h0m-4.4 5.2h0m-11.2 .9h0m6.3 22.5h0m6.6-21.2h0m-1.3 .5h0m.4 7.5h0m-1.4-15.2h0m-4.3 24.8h0m-6.5-21.2h0m9.8 12.2h0m-6.4-3.7h0m10.2-10.6h0m-7.3 22.1h0m-6.6-22.1h0m12.5 6h0m-7.5 13.4h0m3.5-4.5h0m-.8 11.3h0m-1.5-5.7h0m2 4.8h0m-1.8-6.4h0m.8 7.4h0m4.3-16.1h0m-3.9 10.4h0m3.5-11.5h0m.5 3h0m-1.9 8.4h0m-7.4-12.7h0m4.8 13.4h0m2.3-.5h0m.8-13.7h0m.9 1.9h0m-6.9-5.5h0m3.8 18h0m.3 2.1h0m-3.2-4.5h0m.9-3.4h0m-.3-2.2h0m-1.6-4.2h0m1.2 8.9h0m2 7.3h0m4.2-22.5h0m-1.7 8.6h0m2-4.6h0m-1.3-5.5h0m-2.9 20.1h0m-.7 4.4h0m-2.7-9.8h0m3.9 9.9h0m1.1 .6h0m-4.9-17.5h0m-1.5-1.9h0m0-5.5h0m.2 .6h0m-2.1-.5h0m12.7-2.6h0m-10.2 12.4h0m9.6-3.5h0m-6.4 9h0m0 3.3h0m3.4-1.6h0m0-1.8h0m2.6-7.6h0m-6.5 8.7h0m-.1-2.2h0m5.4-7h0m-9.7-6h0m5.3 13.5h0m5.3-5.9h0m-10-7.6h0m8.4 9.2h0m-7.9-.7h0m8.8-2.6h0m-10.9-3.4h0m9.1 13.5h0m-6.4-13.1h0m7.5 13.3h0m-9.3-15.8h0m10.4 .9h0m-1.1-4.9h0m-6.9 7.9h0m1.7 1.3h0m6.1 .3h0m-.6 3h0m.6-7.9h0m-2 11.7h0m-5-9.1h0m-.9-2.5h0m2.2 20.8h0m3.9 .8h0m-4.5-1.8h0m2.7 3.7h0m.4-4.2h0m-.1 .2h0m-.9 4.1h0m-1.8-3.4h0m.1 1.5h0m4.1-.2h0m-.9 1.7h0m-.5-1.5h0m-2.3 .3h0m2.7 .4h0m-2.8-2.2h0m2.7-.3h0m-3.3 1h0m2.2 .6h0m-.6 1.9h0m2.1-2.7h0m-3.9-.7h0m0 1.9h0m3.9-1.1h0m-3.6-.7h0m2.9 .7h0m-.6 1.1h0m1.4 .1h0m-.3-2.1h0m-2.7 2.4h0m-.8-1.6h0m0 2.2h0m.3-1.3h0m4-.2h0m-3.6 .3h0m2.8-2h0m-3.1 1.1h0m-.6 1.4h0m5.1-2.3h0m-1.6 .3h0m-3.5 .9h0m3.5 .2h0m-2.2 .7h0m3.2-.7h0m-.1-1.6h0m.1 .3h0m-1.9 1.2h0m-.4 1.9h0m1.7-.9h0m-2-1.1h0m1.4 1.5h0m.1 .8h0m.4-2h0m-1.1 .6h0m.7-.6h0m1.6 .2h0m-5-.3h0m4.4 1.8h0m-3.7-.7h0m2.1 .9h0m1.3-1.9h0m-3.1-1.7h0m.5 2.8h0m1.8-1.2h0m-2.3 .3h0m-.1-.2h0m.9-2.1h0m-1.5 .8h0m2.3 3.2h0m-1.1-3h0m3.5 3h0m-1.8 .3h0m-1.7-.9h0m-.6-2.3h0m3.8 1.4h0m.2-2h0m.1 2.9h0m-3.8-1.3h0m3-.3h0m-.7 .5h0m-.3 .4h0" fill="none" stroke="#b9b9b9" stroke-width=".90" stroke-linecap="round"/><path d="M763.6 368.3h0m-2.2 5.7h0m3.2-5.4h0m1.7-4.2h0m-.6-3.8h0m-.7 1.2h0m-2.2 2.1h0m.4 4.8h0m4.6 2.4h0m-2.2-7.6h0m1.5 1.9h0m1 2.8h0m-3.2-1.8h0m.5 7.4h0m-1.6-4.2h0m1.8-7.7h0m-.9 .1h0m-6.1 3.6h0m7.8-3.2h0m1.5 6.5h0m-2.8-4.5h0m-.5 1.4h0m3.7 9h0m-7.6-9.4h0m1.9-8.5h0m1.1 7.1h0m.3-2h0m5.2 10.8h0m-8.9-10.9h0m6.4-1.9h0m-6.5 10.2h0m2.8-9.3h0m-4 9.1h0m7.3-5.8h0m-.1-9.1h0m6.2 18h0m-11.4-11.5h0m2.5-2.6h0m-2.3-3.9h0m5.7 1.6h0m-5.8 13.8h0m4.2 2.5h0m1.6-6.3h0m-5 1.8h0m1.6-6.7h0m.9-2h0m5.3 6.3h0m-3-1.5h0m-3.1 10.7h0m1.2-7.7h0m-1.2 5.2h0m.7-4.9h0m4.7-11.1h0m-3 13.1h0m2.3-7.3h0m-6.3 1.6h0m-3.5 1.9h0m2.9-14h0m2.7 14h0m-2.8 0h0m4.2-1.9h0m-1.3 7.2h0m-1.6-7.2h0m2.4 3.1h0m-4-7.8h0m10-.1h0m-5.3 .4h0m-3.2 7.8h0m-1.7-3.2h0m5.4 .5h0m-1.6-3.3h0m-3.4 8.8h0m1.2-2.4h0m3.7 3.4h0m-.2-10.9h0m.2 6.2h0m-1.9 3.8h0m1.6-6.5h0m-.7-4.1h0m3.2 5.7h0m-1 4.1h0m-5.1 4.7h0m1.5-6.3h0m.9 5.6h0m.1-1.1h0m-.6-10.7h0m-2.1 5.5h0m-.4 0h0m3-10.2h0m-1.4 13h0m-.9-10h0m2.9 9.5h0m-4.2-6h0m5.8 2.3h0m-2.2-.6h0m2.9-1.5h0m-.9 3.7h0m-2.8-3.5h0m1.3-1.2h0m2.7-11.8h0m-6.6 7.3h0m4.1 5.8h0m-1.1-.5h0m-.3-4.7h0m3.2 .4h0m-2.3 4h0m-2.2-.5h0m.6 2.8h0m1.9-4.8h0m-2.1 8.5h0m-3-1.8h0m1.5 2.2h0m5.4 1.9h0m4.8-2.9h0m-4.9 2.6h0m-3.7-3.7h0m3.5-1.3h0m-2.8-3.1h0m-.6-1.1h0m1.4-2.5h0m2.3 .3h0m1.9 .1h0m-5.2 4.5h0m2.7-1.6h0m.5-.3h0m-1.7-2.5h0m-3.2 6.6h0m2.5-5h0m1.1 .6h0m1.3 10.7h0m-5.6-6.8h0m2.7-3.5h0m5.4 4.7h0m-3.7 .1h0m2.2-1.1h0m.4 1.6h0m2.6 .7h0m-9.8-5.7h0m4.6 1h0m-3.5 8.5h0m5.1 1.3h0m2.6-8.7h0m-.9 6.5h0m-2.2-3.3h0m-2.9-8.8h0m-.7 4.5h0m-1.9-.3h0m1.7 4.2h0m-1.9 1.8h0m6.3-2.6h0m-2.5 .4h0m2.3 7h0m-.6-6.1h0m-2.9-12.5h0m.1 14h0m2-13.9h0m-.6 5.3h0m-3.9 4.4h0m-2.1 3.9h0m2.6 1.7h0m3.1-12.4h0m1 2h0m-.7 6.1h0m-4.7 3.9h0m7.2-5.2h0m-7.9 3.9h0m3.3-5.2h0m-1.2 2.4h0m.9 2.7h0m3.8-4.3h0m-4.5 .7h0m6.7-.9h0m-2.1-4.4h0m-1.1-1.2h0m-3.6 10.3h0m-4.5-1.7h0m9.1-8.4h0m-1.1 6.3h0m-1.2-2.6h0m-1.3 2.7h0m-.7-4.1h0m8.2 5.3h0m.1-6.3h0m-11 6.1h0m-2.8-7.9h0m6.2 5.9h0m.5-2.3h0m-.8 2.6h0m25.7 4.1h0m-3.5-6.4h0m5.1 7.4h0m-.1-10.3h0m-.4 .3h0m.6 1.8h0m1.2-1.9h0m.1 2.3h0m-4.2 5.7h0m4.6-5.3h0m-8.7-.8h0m.8 5.5h0m6.4-9.4h0m-1.2 12.5h0m1.1-5.5h0m-2.3-.8h0m1.9-5.6h0m-1.5 1.7h0m6.9 10.1h0m-4.4-5.4h0m-1.5 9.3h0m-5.2-4.6h0m0-9.5h0m5 12.5h0m-.7-3.3h0m.5-4.3h0m.6-2.9h0m2.8 2.8h0m-8.2 3.7h0m4.8-6.9h0m-2.7-.3h0m2.6-.2h0m.5 7.7h0m-1.5-6.6h0m2.1 11.4h0m-1.5-4.3h0m3.9-4.3h0m-4.5-7.1h0m-3.6 9.2h0m6.9-12.4h0m-8.5 .7h0m8.4 14.3h0m-3.9 4.6h0m2.2-13.1h0m1.2-6.4h0m-6.8 3.4h0m9.4 6.2h0m-.7 .6h0m.1 .3h0m-4.4 .2h0m-2.7-1.4h0m6.9-.1h0m0 .4h0m-3.7-2.2h0m-.5-9.6h0m1.1 19.7h0m.5-4h0m2.5-3.2h0m-7.8-2.5h0m5.4 9.6h0m-2.7-4.2h0m4.2 3.2h0m-4.3-4.7h0m2.4-2h0m0 5.9h0m-3.2-6.6h0m1 1.7h0m-3.4 3.6h0m4.1-14.7h0m-.5 5.2h0m1.6 6.3h0m-1 4.3h0m-1.7-1.7h0m2.9-11.4h0m2.5 6.3h0m-4.1 7.4h0m-5-5h0m5.2 1.4h0m-1.1-2.7h0m-1.2-.8h0m1.9-13.7h0m-5.4 15.3h0m6.6-.3h0m-2.1 3.4h0m2.6 .2h0m-2.1-6.1h0m.9 2.2h0m-4.2-2.1h0m4.4 .7h0m1.1 4.4h0m-8.4-6.8h0m7.9 2.9h0m-4.8-5.2h0m4.1-1.7h0m1.1 7.5h0m.7-3.5h0m1.8 9.7h0m-5.1-1.7h0m-.1-6.6h0m.7 6h0m1.9-.7h0m1.2-1.2h0m.8-1.5h0m-1.5-6.6h0m-7.5 9.2h0m8.2-2.6h0m4.4 3h0m-10.6-1.8h0m2.7-1.8h0m1.5 7.1h0m1.1-3.7h0m-7.9-9.1h0m5.9 5.7h0m3.8-2.4h0m2.3 8.9h0m-4.2-8.2h0m-3.4 3h0m-1.2-10.2h0m10.9 3.8h0m-5.2 9.5h0m-3.3-1.9h0m1-.8h0m-6.3 2.9h0m3 .3h0m3.4-3.4h0m-.8 7.6h0m.6-11.9h0m2.5 3.3h0m-1.4 0h0m-2.8 6.1h0m1.5-3.9h0m-.8-3.1h0m-2.1 4.7h0m-.9-6h0m5.3-6.6h0m-2 14.1h0m-4-7.2h0m10.8-4h0m-7.4 11.6h0m.8-10h0m.9-9.4h0m-.7 2.9h0m3.4 18.2h0m-4.3-10.4h0m2.5 3h0m-.6 6.9h0m-2.7-15.6h0m.3 3.6h0m1.4 8.2h0m-.7-4.6h0m-3.4 2h0m-.1 6.7h0m4.9-7.4h0m-6.2 10.3h0m6.2-9.4h0m-.2-2.7h0m5.2-4.3h0m-8.2 10h0m4-1.4h0m1.3-.9h0m-4.5-2.4h0m3.8 .5h0m-2.2-.2h0m4.6-.2h0m-.5 3.1h0m-6.6 2.4h0m-26.2 2h0m-4.4-5.5h0m2.6 1.3h0m-5 .9h0m1.1 .2h0m4.9-.7h0m.8-.4h0m-4.6-2.3h0m.6-.4h0m4.6 1.4h0m-.3-.6h0m-6.7 1.4h0m8-1.1h0m-.1-2h0m-.4 1.1h0m-3 5.2h0m-4.1-.8h0m8.3-1.1h0m.5-1.1h0m-3.8 3.7h0m1-.1h0m-.5-3.2h0m-2.9-2.6h0m8.6 3.2h0m-10.4 1.8h0m4-2.4h0m-2.5-.1h0m4.3 3.7h0m1.8-4.1h0m-5.5 2.1h0m36.6 2.6h0m3.5-3.3h0m2-2.9h0m-2.1 4.7h0m3-1.1h0m-2.3 .7h0m4.3-2.4h0m-2.5-1.1h0m-4.7 4.6h0m3.1-6.5h0m-1.5 4.9h0m1.9-2.3h0m-1.3 2.3h0m1.5-.8h0m-3.9 1.6h0m-.5 1.3h0m2.8-4.4h0m-.6 4.3h0m3.2-4.6h0m-8.2 1.7h0m6.9 4.6h0m-8.4-8.3h0m8.6 4.1h0m-1.1 .3h0m3.9 1.5h0" fill="none" stroke="#f0a22e" stroke-width=".80" stroke-linecap="round"/><text class="nl" x="783.1" y="315.3" font-size="1.9" text-anchor="middle" fill="#111">Cxcl9</text><text class="nl" x="767.3" y="323.2" font-size="1.9" text-anchor="middle" fill="#111">Spp1</text><text class="nl" x="763.4" y="331.4" font-size="1.9" text-anchor="middle" fill="#111">Arg1</text><text class="nl" x="769.3" y="334.4" font-size="1.9" text-anchor="middle" fill="#111">Mmp9</text><text class="nl" x="787" y="333" font-size="1.9" text-anchor="middle" fill="#111">Gbp2</text><text class="nl" x="748.6" y="339.9" font-size="1.9" text-anchor="middle" fill="#111">Col1a1</text><text class="nl" x="764.4" y="338.5" font-size="1.9" text-anchor="middle" fill="#111">Fn1</text><text class="nl" x="770.3" y="340.9" font-size="1.9" text-anchor="middle" fill="#111">Saa3</text><text class="nl" x="779.1" y="337.9" font-size="1.9" text-anchor="middle" fill="#111">Irf1</text><text class="nl" x="783.7" y="337.4" font-size="1.9" text-anchor="middle" fill="#111">Stat1</text><text class="nl" x="783.1" y="342.3" font-size="1.9" text-anchor="middle" fill="#111">Psmb9</text><text class="nl" x="792" y="341.5" font-size="1.9" text-anchor="middle" fill="#111">Tap1</text><text class="nl" x="763.4" y="344.3" font-size="1.9" text-anchor="middle" fill="#111">Lcn2</text><text class="nl" x="775.2" y="343.9" font-size="1.9" text-anchor="middle" fill="#111">Ccl5</text><text class="nl" x="783.1" y="344.3" font-size="1.9" text-anchor="middle" fill="#111">B2m</text><text class="nl" x="791" y="344.9" font-size="1.9" text-anchor="middle" fill="#111">Isg15</text><text class="nl" x="761.4" y="347.8" font-size="1.9" text-anchor="middle" fill="#111">Mki67</text><text class="nl" x="769.3" y="347.8" font-size="1.9" text-anchor="middle" fill="#111">Top2a</text><text class="nl" x="777.2" y="348.2" font-size="1.9" text-anchor="middle" fill="#111">Cd274</text><text class="nl" x="783.7" y="347.8" font-size="1.9" text-anchor="middle" fill="#111">Gbp5</text><text class="nl" x="763.4" y="350.4" font-size="1.9" text-anchor="middle" fill="#111">Cdk1</text><text class="nl" x="770.3" y="351.4" font-size="1.9" text-anchor="middle" fill="#111">Pcna</text><text class="nl" x="779.1" y="350.8" font-size="1.9" text-anchor="middle" fill="#111">Zbp1</text><text class="nl" x="787.4" y="350.8" font-size="1.9" text-anchor="middle" fill="#111">Irf7</text><text x="738.2" y="391.1" font-size="2.85" font-weight="bold" text-anchor="middle" fill="#111">Higher expression in PBS &lt;- log2(FC) -&gt; Higher expression in Anti-PD-1</text><text x="688.87" y="399.1" font-size="2.7" font-weight="bold" fill="#111">Significance</text><circle cx="708.87" cy="398.2" r="0.8" fill="#b4b4b4"/><text x="711.27" y="399" font-size="2.3" fill="#222">NS or FC &lt; 0.5</text><circle cx="732.55" cy="398.2" r="0.8" fill="#f0a22e"/><text x="734.95" y="399" font-size="2.3" fill="#222">P &lt; 0.05</text><circle cx="748.91" cy="398.2" r="0.8" fill="#c8ccd0"/><text x="751.31" y="399" font-size="2.3" fill="#222">FDR &lt; 0.05</text><circle cx="767.71" cy="398.2" r="0.8" fill="#2f7fc0"/><text x="770.11" y="399" font-size="2.3" fill="#222">FDR &lt; 0.001</text><text transform="translate(661.3 347.2) rotate(-90)" font-size="2.4" font-weight="bold" text-anchor="middle" fill="#111">Significance: -log10(P)</text><text transform="translate(661.3 455) rotate(-90)" font-size="2.4" font-weight="bold" text-anchor="middle" fill="#111">Significance: -log10(P)</text><text x="675.5" y="386.3" font-size="1.9" text-anchor="middle" fill="#333">-2</text><text x="688.65" y="386.3" font-size="1.9" text-anchor="middle" fill="#333">-1</text><text x="701.8" y="386.3" font-size="1.9" text-anchor="middle" fill="#333">0</text><text x="714.95" y="386.3" font-size="1.9" text-anchor="middle" fill="#333">1</text><text x="728.1" y="386.3" font-size="1.9" text-anchor="middle" fill="#333">2</text><text x="750.74" y="386.3" font-size="1.9" text-anchor="middle" fill="#333">-2</text><text x="763.64" y="386.3" font-size="1.9" text-anchor="middle" fill="#333">-1</text><text x="776.55" y="386.3" font-size="1.9" text-anchor="middle" fill="#333">0</text><text x="789.46" y="386.3" font-size="1.9" text-anchor="middle" fill="#333">1</text><text x="802.36" y="386.3" font-size="1.9" text-anchor="middle" fill="#333">2</text><text x="665.3" y="311.5" font-size="1.9" text-anchor="end" fill="#333">8</text><text x="665.3" y="329.8" font-size="1.9" text-anchor="end" fill="#333">6</text><text x="665.3" y="348.1" font-size="1.9" text-anchor="end" fill="#333">4</text><text x="665.3" y="366.4" font-size="1.9" text-anchor="end" fill="#333">2</text><text x="740.8" y="316" font-size="1.9" text-anchor="end" fill="#333">40</text><text x="740.8" y="333" font-size="1.9" text-anchor="end" fill="#333">30</text><text x="740.8" y="350" font-size="1.9" text-anchor="end" fill="#333">20</text><text x="740.8" y="367" font-size="1.9" text-anchor="end" fill="#333">10</text><rect x="666.3" y="413.3" width="70.1" height="3.9" fill="#d0d0d0" stroke="#8a8a8a" stroke-width="0.3"/><text x="701.35" y="416.1" font-size="1.9" text-anchor="middle" fill="#333">CD45</text><rect x="666.3" y="417.2" width="70.1" height="74.9" fill="#fff" stroke="#8a8a8a" stroke-width="0.3"/><path d="M677.98 417.2V492.1M689.67 417.2V492.1M701.35 417.2V492.1M713.03 417.2V492.1M724.72 417.2V492.1M666.3 426.56H736.4M666.3 435.93H736.4M666.3 445.29H736.4M666.3 454.65H736.4M666.3 464.01H736.4M666.3 473.38H736.4M666.3 482.74H736.4" stroke="#ececec" stroke-width="0.3" fill="none"/><rect x="742.1" y="413.3" width="69.3" height="3.9" fill="#d0d0d0" stroke="#8a8a8a" stroke-width="0.3"/><text x="776.75" y="416.1" font-size="1.9" text-anchor="middle" fill="#333">PanCK</text><rect x="742.1" y="417.2" width="69.3" height="74.9" fill="#fff" stroke="#8a8a8a" stroke-width="0.3"/><path d="M753.65 417.2V492.1M765.2 417.2V492.1M776.75 417.2V492.1M788.3 417.2V492.1M799.85 417.2V492.1M742.1 426.56H811.4M742.1 435.93H811.4M742.1 445.29H811.4M742.1 454.65H811.4M742.1 464.01H811.4M742.1 473.38H811.4M742.1 482.74H811.4" stroke="#ececec" stroke-width="0.3" fill="none"/><path d="M688.43 417.2V492.1 M699.4 417.2V492.1 M763.4 417.2V492.1 M775.74 417.2V492.1" stroke="#888" stroke-width="0.3" fill="none"/><path d="M666.3 489.17H736.4 M742.1 489.17H811.4" stroke="#999" stroke-width="0.25" fill="none"/><path d="M670.14 489.17 Q688.43 493.74 699.86 491 T734.14 489.63" stroke="#bbb" stroke-width="0.3" fill="none"/><text class="nl" x="713.57" y="422.57" font-size="1.75" text-anchor="middle" fill="#111">INTERFERON_GAMMA_RESPONSE</text><text class="nl" x="722.03" y="444.74" font-size="1.75" text-anchor="middle" fill="#111">ALLOGRAFT_REJECTION</text><text class="nl" x="726.14" y="448.17" font-size="1.75" text-anchor="middle" fill="#111">IL6_JAK_STAT3</text><text class="nl" x="715.86" y="452.74" font-size="1.75" text-anchor="middle" fill="#111">IL2_STAT5_SIGNALING</text><text class="nl" x="709.46" y="461.2" font-size="1.75" text-anchor="middle" fill="#111">INTERFERON_ALPHA_RESPONSE</text><text class="nl" x="674.71" y="469.2" font-size="1.75" text-anchor="middle" fill="#111">MYOGENESIS</text><text class="nl" x="717" y="474.46" font-size="1.75" text-anchor="middle" fill="#111">MYC_TARGETS_V1</text><text class="nl" x="704.89" y="477.2" font-size="1.75" text-anchor="middle" fill="#111">MITOTIC_SPINDLE</text><text class="nl" x="725" y="478.34" font-size="1.75" text-anchor="middle" fill="#111">MYC_TARGETS_V2</text><text class="nl" x="725.46" y="480.63" font-size="1.75" text-anchor="middle" fill="#111">E2F_TARGETS</text><text class="nl" x="697.11" y="481.77" font-size="1.75" text-anchor="middle" fill="#111">INFLAMMATORY_RESPONSE</text><text class="nl" x="674.26" y="482.91" font-size="1.75" text-anchor="middle" fill="#111">GLYCOLYSIS</text><text class="nl" x="711.29" y="486.34" font-size="1.75" text-anchor="middle" fill="#111">G2M_CHECKPOINT</text><text class="nl" x="675.17" y="487.03" font-size="1.75" text-anchor="middle" fill="#111">ADIPOGENESIS</text><text class="nl" x="788.54" y="422.57" font-size="1.75" text-anchor="middle" fill="#111">INTERFERON_GAMMA_RESPONSE</text><text class="nl" x="803.17" y="439.03" font-size="1.75" text-anchor="middle" fill="#111">IL6_JAK_STAT3</text><text class="nl" x="799.97" y="444.06" font-size="1.75" text-anchor="middle" fill="#111">IL2_STAT5_SIGNALING</text><text class="nl" x="788.54" y="448.17" font-size="1.75" text-anchor="middle" fill="#111">INTERFERON_ALPHA_RESPONSE</text><text class="nl" x="799.97" y="456.17" font-size="1.75" text-anchor="middle" fill="#111">MYC_TARGETS_V1</text><text class="nl" x="797.69" y="460.29" font-size="1.75" text-anchor="middle" fill="#111">ALLOGRAFT_REJECTION</text><text class="nl" x="800.43" y="474" font-size="1.75" text-anchor="middle" fill="#111">MYC_TARGETS_V2</text><text class="nl" x="778.26" y="476.06" font-size="1.75" text-anchor="middle" fill="#111">MITOTIC_SPINDLE</text><text class="nl" x="799.97" y="478.34" font-size="1.75" text-anchor="middle" fill="#111">E2F_TARGETS</text><text class="nl" x="763.86" y="479.49" font-size="1.75" text-anchor="middle" fill="#111">EPITHELIAL_MESENCHYMAL_TRANSITION</text><text class="nl" x="788.54" y="482.46" font-size="1.75" text-anchor="middle" fill="#111">INFLAMMATORY_RESPONSE</text><text class="nl" x="774.83" y="485.89" font-size="1.75" text-anchor="middle" fill="#111">G2M_CHECKPOINT</text><text class="nl" x="794.71" y="486.57" font-size="1.75" text-anchor="middle" fill="#111">KRAS_SIGNALING</text><text class="nl" x="782.14" y="479.71" font-size="1.75" text-anchor="middle" fill="#111">HYPOXIA</text><text x="665.2" y="419.6" font-size="1.9" text-anchor="end" fill="#333">4</text><text x="665.2" y="437.89" font-size="1.9" text-anchor="end" fill="#333">3</text><text x="665.2" y="456.17" font-size="1.9" text-anchor="end" fill="#333">2</text><text x="665.2" y="474.46" font-size="1.9" text-anchor="end" fill="#333">1</text><text x="741" y="432.17" font-size="1.9" text-anchor="end" fill="#333">3</text><text x="741" y="452.74" font-size="1.9" text-anchor="end" fill="#333">2</text><text x="741" y="472.63" font-size="1.9" text-anchor="end" fill="#333">1</text><text x="672.43" y="495" font-size="1.9" text-anchor="middle" fill="#333">-2</text><text x="716.31" y="495" font-size="1.9" text-anchor="middle" fill="#333">2</text><text x="769.57" y="495" font-size="1.9" text-anchor="middle" fill="#333">-2</text><text x="790.83" y="495" font-size="1.9" text-anchor="middle" fill="#333">2</text><text x="739.3" y="498.2" font-size="2.9" font-weight="bold" text-anchor="middle" fill="#111">Enriched in PBS &lt;- normalized enrichment score -&gt; Enriched in Anti-PD-1</text><text x="689.87" y="507.2" font-size="2.7" font-weight="bold" fill="#111">Significance</text><circle cx="709.87" cy="506.3" r="0.8" fill="#b4b4b4"/><text x="712.27" y="507.1" font-size="2.3" fill="#222">NS or FC &lt; 0.5</text><circle cx="733.55" cy="506.3" r="0.8" fill="#f0a22e"/><text x="735.95" y="507.1" font-size="2.3" fill="#222">P &lt; 0.05</text><circle cx="749.91" cy="506.3" r="0.8" fill="#c8ccd0"/><text x="752.31" y="507.1" font-size="2.3" fill="#222">FDR &lt; 0.05</text><circle cx="768.71" cy="506.3" r="0.8" fill="#2f7fc0"/><text x="771.11" y="507.1" font-size="2.3" fill="#222">FDR &lt; 0.001</text></svg>
<svg style="left:0;top:0" width="875" height="583"><defs><linearGradient id="swg" gradientUnits="userSpaceOnUse" x1="636" y1="29" x2="836" y2="152"><stop offset="0" stop-color="#f4cf3a"/><stop offset=".3" stop-color="#f3a227"/><stop offset=".68" stop-color="#ea6a2a"/><stop offset="1" stop-color="#bf2a35"/></linearGradient><linearGradient id="e8g" gradientUnits="userSpaceOnUse" x1="720" y1="46" x2="740" y2="73"><stop offset="0" stop-color="#f6cf35"/><stop offset=".5" stop-color="#f08e2a"/><stop offset="1" stop-color="#cf4030"/></linearGradient></defs><path d="M636.6 29 C638.6 37 642 45.5 648.5 55 C657 67 668 75 682.7 83.2 C700 92 724 98.5 745 105 C772 113.5 792 122 808 131.5 C820.5 138.8 829.5 144.8 836.5 150.7 L836.5 29 Z" fill="#2d697c"/><path d="M636.6 29 C638.6 37 642 45.5 648.5 55 C657 67 668 75 682.7 83.2 C700 92 724 98.5 745 105 C772 113.5 792 122 808 131.5 C820.5 138.8 829.5 144.8 836.5 150.7 L836.5 153.6 C829 147.2 820 141.6 806.6 134.6 C790.6 125.5 771 117.2 743.9 108.7 C722.5 102 698.5 95.6 680.7 86.4 C665.6 78.4 654 69.8 645.6 57 C639.2 47 636.3 38 634.9 29 Z" fill="url(#swg)"/><text transform="translate(691.12 58.05) scale(0.845 1)" font-size="18.1" font-family="Liberation Sans,sans-serif" font-weight="bold" fill="#fff" stroke="#fff" stroke-width="1.5" stroke-linejoin="round">C</text><text transform="translate(703.94 58.05) scale(1.079 1)" font-size="18.1" font-family="Liberation Sans,sans-serif" font-weight="bold" fill="#fff" stroke="#fff" stroke-width="1.5" stroke-linejoin="round">R</text><text transform="translate(734.03 58.05) scale(1.132 1)" font-size="18.1" font-family="Liberation Sans,sans-serif" font-weight="bold" fill="#fff" stroke="#fff" stroke-width="1.5" stroke-linejoin="round">W</text><text transform="translate(756.4 58.05) scale(1.118 1)" font-size="18.1" font-family="Liberation Sans,sans-serif" font-weight="bold" fill="#fff" stroke="#fff" stroke-width="1.5" stroke-linejoin="round">N</text><text transform="translate(705.94 74.15) scale(0.915 1)" font-size="18.1" font-family="Liberation Sans,sans-serif" font-weight="bold" fill="#fff" stroke="#fff" stroke-width="1.5" stroke-linejoin="round">B</text><text transform="translate(720.04 74.15) scale(0.998 1)" font-size="18.1" font-family="Liberation Sans,sans-serif" font-weight="bold" fill="#fff" stroke="#fff" stroke-width="1.5" stroke-linejoin="round">I</text><text transform="translate(742.38 74.15) scale(0.904 1)" font-size="18.1" font-family="Liberation Sans,sans-serif" font-weight="bold" fill="#fff" stroke="#fff" stroke-width="1.5" stroke-linejoin="round">S</text><text transform="translate(755.03 74.15) scale(0.837 1)" font-size="18.1" font-family="Liberation Sans,sans-serif" font-weight="bold" fill="#fff" stroke="#fff" stroke-width="1.5" stroke-linejoin="round">C</text><text transform="translate(767.77 74.15) scale(0.806 1)" font-size="18.1" font-family="Liberation Sans,sans-serif" font-weight="bold" fill="#fff" stroke="#fff" stroke-width="1.5" stroke-linejoin="round">I</text><text transform="translate(773.06 74.15) scale(0.739 1)" font-size="18.1" font-family="Liberation Sans,sans-serif" font-weight="bold" fill="#fff" stroke="#fff" stroke-width="1.5" stroke-linejoin="round">E</text><text transform="translate(783.68 74.15) scale(1.128 1)" font-size="18.1" font-family="Liberation Sans,sans-serif" font-weight="bold" fill="#fff" stroke="#fff" stroke-width="1.5" stroke-linejoin="round">N</text><text transform="translate(799.09 74.15) scale(0.887 1)" font-size="18.1" font-family="Liberation Sans,sans-serif" font-weight="bold" fill="#fff" stroke="#fff" stroke-width="1.5" stroke-linejoin="round">C</text><text transform="translate(812.91 74.15) scale(0.857 1)" font-size="18.1" font-family="Liberation Sans,sans-serif" font-weight="bold" fill="#fff" stroke="#fff" stroke-width="1.5" stroke-linejoin="round">E</text><circle cx="725.7" cy="51.15" r="5.55" fill="none" stroke="#fff" stroke-width="3.9"/><circle cx="733.6" cy="67.8" r="5.55" fill="none" stroke="#fff" stroke-width="3.9"/><path d="M721.6 45.4 C717.6 48.4 717.4 54 721.2 57.2 C725.2 60.5 732.2 60.6 736.6 63.3 C740.9 66 741.6 70.6 738.6 73.6 C738.5 69.6 736.5 67.3 732.6 65.6 C727.6 63.5 722.3 62.4 719.2 58.6 C716 54.6 717 48.8 721.6 45.4 Z" fill="url(#e8g)"/><path d="M721.4 45.9 C718.2 48.8 718.2 53.6 721.4 56.6 C725.3 60.1 732 60.2 736.4 62.9 C740.3 65.4 741.2 69.8 738.8 72.9" fill="none" stroke="url(#e8g)" stroke-width="2.4" stroke-linecap="round"/></svg>
<svg style="left:0;top:0" width="875" height="583"><defs><linearGradient id="f8g" gradientUnits="userSpaceOnUse" x1="796.74" y1="513.38" x2="823.48" y2="542.91"><stop offset="0" stop-color="#f6d23a"/><stop offset=".45" stop-color="#f39a2c"/><stop offset="1" stop-color="#d04a2c"/></linearGradient><linearGradient id="ftg" x1="0" y1="0" x2="0" y2="1"><stop offset="0" stop-color="#2d6b81"/><stop offset="1" stop-color="#296378"/></linearGradient><clipPath id="ftc"><rect x="29" y="510.6" width="810" height="38.4"/></clipPath></defs><g clip-path="url(#ftc)" fill="url(#ftg)"><rect x="29" y="510.6" width="777.77" height="38.4"/><circle cx="806.77" cy="520.4" r="9.58" fill="#2c6a80"/><rect x="805.65" y="520.4" width="7.58" height="30" fill="#2a667b"/><circle cx="812.9" cy="540.13" r="9.36" fill="#296378"/></g><circle cx="806.55" cy="519.07" r="4.23" fill="#fff"/><circle cx="812.67" cy="540.46" r="4.35" fill="#fff"/><path d="M798.41 512.6 C795.4 516.73 795.18 522.63 799.19 527.53 C804.76 531.99 812.12 532.88 817.02 537.34 C820.14 539.57 821.25 543.13 821.03 546.92 C824.6 541.8 824.15 535.33 819.92 530.65 C815.13 526.2 807.66 526.2 802.53 522.19 C799.53 519.51 798.08 516.17 798.41 512.6 Z" fill="url(#f8g)"/></svg>
<svg style="left:44.2px;top:525.3px" width="13" height="13" viewBox="0 0 13 13"><circle cx="6.45" cy="6.5" r="6.3" fill="#fff"/><path d="M1.5 6.5H3.5L4.1 5.1L4.8 8L5.5 4.7L6.2 8.3L6.9 4.7L7.6 8.3L8.3 5.1L8.9 7.4L9.4 6.5H11.4" stroke="#24586b" stroke-width="0.62" fill="none" stroke-linejoin="round"/></svg>
<div class="jsr">A JSR Life Sciences Company</div>
<div class="ft" style="left:175.6px;top:527.2px">To discuss this poster email consultation@crownbio.com</div>
<div class="ft" style="left:385.3px;top:527.2px">Copyright 2024</div>
</body></html>
